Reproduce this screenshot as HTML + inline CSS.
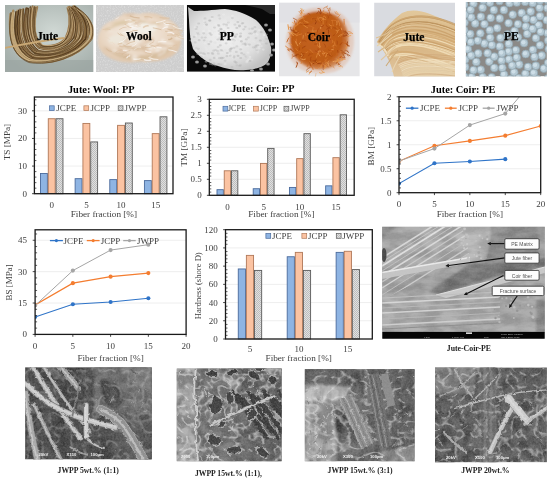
<!DOCTYPE html>
<html><head><meta charset="utf-8"><title>Jute composites figure</title>
<style>
html,body{margin:0;padding:0;background:#fff;}
body{width:550px;height:479px;overflow:hidden;}
svg{display:block;font-family:'Liberation Serif','Times New Roman',serif;}
</style></head>
<body>
<svg width="550" height="479" viewBox="0 0 550 479">
<defs><filter id="b05" x="-5%" y="-5%" width="110%" height="110%"><feGaussianBlur stdDeviation="0.5"/></filter><filter id="b1" x="-10%" y="-10%" width="120%" height="120%"><feGaussianBlur stdDeviation="1"/></filter><filter id="b07" x="-10%" y="-10%" width="120%" height="120%"><feGaussianBlur stdDeviation="0.7"/></filter><filter id="org" x="-5%" y="-5%" width="110%" height="110%"><feTurbulence type="fractalNoise" baseFrequency="0.18" numOctaves="2" seed="3" result="t"/><feDisplacementMap in="SourceGraphic" in2="t" scale="5" xChannelSelector="R" yChannelSelector="G" result="d"/><feGaussianBlur in="d" stdDeviation="0.55"/></filter><filter id="org2" x="-5%" y="-5%" width="110%" height="110%"><feTurbulence type="fractalNoise" baseFrequency="0.25" numOctaves="2" seed="7" result="t"/><feDisplacementMap in="SourceGraphic" in2="t" scale="3" xChannelSelector="R" yChannelSelector="G" result="d"/><feGaussianBlur in="d" stdDeviation="0.5"/></filter><filter id="b2" x="-20%" y="-20%" width="140%" height="140%"><feGaussianBlur stdDeviation="2"/></filter><filter id="pgrain" x="0" y="0" width="100%" height="100%"><feTurbulence type="fractalNoise" baseFrequency="0.7" numOctaves="2" seed="9" result="n"/><feColorMatrix in="n" type="matrix" values="0 0 0 0 1  0 0 0 0 1  0 0 0 0 1  0 0 0 1.6 -0.75" result="g"/><feComposite in="g" in2="SourceGraphic" operator="in"/></filter><radialGradient id="gj1" cx="0.55" cy="0.4" r="0.65"><stop offset="0" stop-color="#d0d8d4"/><stop offset="1" stop-color="#a6b0ac"/></radialGradient><radialGradient id="gwool" cx="0.45" cy="0.45" r="0.55"><stop offset="0" stop-color="#f4efe8"/><stop offset="0.6" stop-color="#ecdccb"/><stop offset="1" stop-color="#e0c8ae"/></radialGradient><radialGradient id="gpp" cx="0.45" cy="0.45" r="0.6"><stop offset="0" stop-color="#f2f2f2"/><stop offset="0.65" stop-color="#e0e0e0"/><stop offset="1" stop-color="#c2c2c2"/></radialGradient><radialGradient id="gcoir" cx="0.45" cy="0.45" r="0.55"><stop offset="0" stop-color="#c4621c"/><stop offset="0.8" stop-color="#bc5a18"/><stop offset="1" stop-color="#d08a58"/></radialGradient><linearGradient id="gj2" x1="0" y1="0" x2="0" y2="1"><stop offset="0" stop-color="#e2c89c"/><stop offset="0.5" stop-color="#d8b482"/><stop offset="1" stop-color="#e0c6a0"/></linearGradient></defs>
<clipPath id="cj1"><rect x="5" y="5" width="88.5" height="67"/></clipPath>
<g clip-path="url(#cj1)">
<rect x="5" y="5" width="88.5" height="67" fill="url(#gj1)"/>
<rect x="5" y="60" width="88.5" height="12" fill="#9aa4a0" opacity="0.6"/>
<g filter="url(#b05)">
<path d="M10.1,13.7 C8.1,35.5 11.6,55.5 29.4,61.1 C48.9,65.7 80.6,56.4 92.0,38.6 C96.8,28.1 89.8,16.2 73.9,7.8" fill="none" stroke="#a88a5c" stroke-width="1.6" stroke-linecap="round"/>
<path d="M11.8,12.8 C9.4,34.7 12.2,55.1 30.0,60.7 C49.1,66.2 79.1,57.6 89.9,39.7 C95.5,28.2 87.9,14.8 73.6,7.7" fill="none" stroke="#8a6c44" stroke-width="1.5" stroke-linecap="round"/>
<path d="M12.5,12.5 C8.4,34.6 12.3,52.7 29.6,61.5 C49.1,63.2 77.7,56.4 90.3,39.0 C94.5,26.7 87.7,14.9 73.5,6.1" fill="none" stroke="#b29468" stroke-width="2.0" stroke-linecap="round"/>
<path d="M13.3,10.8 C11.5,33.9 14.2,52.0 31.2,60.1 C49.8,62.4 78.6,56.1 87.1,39.0 C92.7,27.2 87.8,16.5 74.2,6.9" fill="none" stroke="#a88a5c" stroke-width="2.4" stroke-linecap="round"/>
<path d="M16.2,12.1 C13.1,32.6 16.5,51.3 32.4,58.3 C49.9,61.8 76.4,55.0 86.6,38.2 C92.2,27.5 86.5,15.7 74.8,6.5" fill="none" stroke="#4e361c" stroke-width="2.0" stroke-linecap="round"/>
<path d="M17.2,10.3 C14.4,33.4 17.3,50.3 31.9,58.3 C49.5,61.6 75.0,53.9 86.6,39.9 C90.0,28.8 85.7,15.8 72.3,8.0" fill="none" stroke="#b29468" stroke-width="1.6" stroke-linecap="round"/>
<path d="M18.8,10.4 C14.3,31.8 18.7,49.4 32.6,57.0 C49.6,59.9 73.7,54.3 85.5,38.8 C87.8,27.8 85.4,15.0 73.1,7.2" fill="none" stroke="#4e361c" stroke-width="1.7" stroke-linecap="round"/>
<path d="M20.2,11.4 C15.9,32.6 18.0,48.8 33.4,56.8 C49.5,59.9 75.0,52.9 84.5,37.7 C88.3,28.8 82.5,16.1 73.3,6.7" fill="none" stroke="#7e6038" stroke-width="1.4" stroke-linecap="round"/>
<path d="M20.0,9.4 C18.4,32.0 18.7,49.7 33.4,55.2 C51.8,59.3 74.3,51.8 83.1,38.7 C87.3,27.1 83.4,16.8 72.6,8.3" fill="none" stroke="#8a6c44" stroke-width="1.7" stroke-linecap="round"/>
<path d="M21.2,10.1 C18.0,30.8 20.3,46.8 34.0,55.1 C50.4,57.6 72.0,50.7 82.0,39.3 C84.0,27.8 81.7,16.4 71.7,7.5" fill="none" stroke="#785a36" stroke-width="2.1" stroke-linecap="round"/>
<path d="M22.0,9.9 C20.9,30.3 22.8,46.4 36.2,52.9 C50.3,58.4 70.6,50.2 79.7,38.6 C83.5,28.4 80.1,17.5 71.7,7.5" fill="none" stroke="#8a6c44" stroke-width="1.4" stroke-linecap="round"/>
<path d="M23.2,9.3 C21.0,30.6 22.8,45.3 36.8,52.1 C50.7,57.2 70.1,51.3 79.0,38.0 C83.3,29.6 80.1,15.7 70.4,8.3" fill="none" stroke="#7e6038" stroke-width="2.0" stroke-linecap="round"/>
<path d="M26.4,8.4 C21.7,29.2 23.8,45.8 36.1,53.4 C50.7,56.8 70.1,50.5 76.0,39.3 C81.3,28.4 79.5,16.5 71.3,8.0" fill="none" stroke="#6a4e2e" stroke-width="2.3" stroke-linecap="round"/>
<path d="M27.8,9.3 C23.0,27.9 24.9,45.4 38.1,50.8 C51.6,54.6 68.8,48.2 76.4,39.1 C81.0,28.8 78.1,17.2 69.8,8.5" fill="none" stroke="#9c7c52" stroke-width="1.6" stroke-linecap="round"/>
<path d="M27.8,8.3 C25.8,28.5 25.7,44.7 38.7,51.5 C51.3,53.9 67.8,49.5 74.6,39.4 C77.9,27.9 77.3,16.3 69.7,6.6" fill="none" stroke="#94764c" stroke-width="1.7" stroke-linecap="round"/>
<path d="M28.2,9.0 C27.1,27.8 27.5,43.2 38.3,50.6 C50.3,53.5 67.6,47.2 73.7,37.3 C76.4,28.6 76.1,17.1 69.3,7.7" fill="none" stroke="#5e4426" stroke-width="1.8" stroke-linecap="round"/>
<path d="M30.5,7.3 C28.2,26.8 29.7,40.9 39.6,48.1 C51.6,51.4 66.0,47.4 73.3,37.1 C75.9,28.3 76.1,16.4 68.9,8.5" fill="none" stroke="#5e4426" stroke-width="2.1" stroke-linecap="round"/>
<path d="M32.7,6.2 C29.1,26.9 28.8,40.6 40.2,47.8 C51.9,51.6 65.3,46.2 71.3,37.2 C74.5,30.0 75.2,18.5 68.3,7.8" fill="none" stroke="#98784e" stroke-width="2.0" stroke-linecap="round"/>
<path d="M32.7,8.0 C30.7,25.9 31.1,41.1 39.1,47.0 C50.6,49.7 65.6,46.0 69.0,37.7 C73.5,28.6 74.5,17.3 67.9,7.9" fill="none" stroke="#9c7c52" stroke-width="2.2" stroke-linecap="round"/>
<path d="M34.8,6.9 C31.6,25.7 32.1,40.3 40.1,46.2 C51.2,49.3 63.3,46.3 68.8,38.9 C73.1,29.6 72.7,17.4 68.5,6.8" fill="none" stroke="#94764c" stroke-width="1.6" stroke-linecap="round"/>
<path d="M35.1,7.3 C33.6,24.2 32.7,39.3 41.5,45.9 C52.5,47.7 63.0,45.2 67.7,37.6 C71.9,30.8 73.1,17.5 68.6,7.5" fill="none" stroke="#a88a5c" stroke-width="2.2" stroke-linecap="round"/>
<path d="M37.2,7.0 C33.1,22.9 33.1,38.0 42.5,46.0 C50.8,46.8 61.7,44.4 65.8,37.5 C69.3,30.5 71.3,19.1 67.6,7.9" fill="none" stroke="#9c7c52" stroke-width="2.1" stroke-linecap="round"/>
<path d="M17.5,11.1 C13.2,32.1 17.0,50.2 31.9,58.0 C50.0,61.2 75.3,52.6 85.8,38.3 C88.5,27.8 84.5,14.8 72.4,6.3" fill="none" stroke="#5a4020" stroke-width="0.7" opacity="0.85"/>
<path d="M30.1,7.7 C27.0,27.7 29.6,42.2 38.9,49.7 C52.0,52.8 66.1,46.9 72.1,38.2 C76.9,30.3 74.5,16.4 69.0,8.3" fill="none" stroke="#dcc49a" stroke-width="0.7" opacity="0.85"/>
<path d="M27.0,8.0 C25.3,28.8 25.4,44.4 37.2,51.8 C51.3,54.4 69.2,48.1 75.5,39.3 C78.8,28.3 77.8,17.8 71.3,7.6" fill="none" stroke="#5a4020" stroke-width="0.7" opacity="0.85"/>
<path d="M27.5,9.1 C24.6,27.7 26.5,43.3 37.7,50.9 C50.5,54.3 67.8,48.2 76.5,39.0 C79.3,28.9 78.2,16.5 69.8,7.5" fill="none" stroke="#dcc49a" stroke-width="0.7" opacity="0.85"/>
<path d="M36.1,6.9 C32.8,25.0 33.7,39.5 40.9,45.7 C51.1,48.9 62.7,44.7 67.1,37.7 C70.3,29.5 72.3,17.4 69.2,8.6" fill="none" stroke="#5a4020" stroke-width="0.7" opacity="0.85"/>
<path d="M34.3,7.0 C31.5,24.4 32.8,39.3 40.2,47.1 C51.8,48.9 64.3,45.5 69.2,38.1 C72.8,30.1 71.8,16.8 67.8,7.8" fill="none" stroke="#4e3618" stroke-width="0.7" opacity="0.85"/>
<path d="M21.5,9.9 C18.3,31.9 20.6,49.1 34.3,56.1 C50.3,58.9 73.0,51.9 80.9,38.1 C86.0,27.9 82.9,16.6 72.3,6.7" fill="none" stroke="#dcc49a" stroke-width="0.7" opacity="0.85"/>
<path d="M11.7,13.4 C8.2,35.7 10.9,54.0 30.1,60.9 C50.5,65.4 79.1,55.7 91.6,39.4 C95.4,27.6 89.4,16.1 75.6,7.0" fill="none" stroke="#dcc49a" stroke-width="0.7" opacity="0.85"/>
<path d="M24.0,8.5 C20.7,29.9 22.8,46.5 36.3,52.4 C51.9,55.4 69.7,50.6 77.7,39.3 C81.9,27.6 80.6,17.6 71.1,8.0" fill="none" stroke="#d2b888" stroke-width="0.7" opacity="0.85"/>
<path d="M13.3,12.3 C10.1,33.8 13.2,52.7 31.2,59.3 C49.3,63.8 78.8,55.1 89.7,39.5 C93.6,27.1 88.6,14.5 73.8,7.8" fill="none" stroke="#d2b888" stroke-width="0.7" opacity="0.85"/>
<path d="M16.4,11.3 C13.4,33.9 16.5,51.2 30.8,58.8 C51.2,62.6 76.2,54.2 87.6,39.0 C91.5,28.0 85.7,15.2 74.5,8.2" fill="none" stroke="#5a4020" stroke-width="0.7" opacity="0.85"/>
<path d="M14.7,12.1 C11.2,33.5 13.9,51.9 31.7,59.5 C51.1,62.6 76.7,54.9 87.2,39.6 C91.1,27.7 87.0,15.3 73.3,6.8" fill="none" stroke="#dcc49a" stroke-width="0.7" opacity="0.85"/>
<path d="M35.0,5.8 C32.8,25.4 31.9,39.0 40.9,46.9 C52.8,48.5 63.9,44.0 67.0,38.9 C71.2,30.7 72.2,18.1 69.2,8.4" fill="none" stroke="#5a4020" stroke-width="0.7" opacity="0.85"/>
<path d="M12.8,12.2 C8.6,34.3 12.8,52.7 29.4,60.5 C49.3,63.7 77.7,56.0 89.8,38.3 C94.8,28.2 88.2,16.1 73.5,7.1" fill="none" stroke="#d2b888" stroke-width="0.7" opacity="0.85"/>
<path d="M11.5,13.2 C7.1,35.9 10.9,54.6 28.4,61.5 C50.3,64.7 78.7,55.7 91.6,39.8 C95.6,27.2 89.2,14.5 75.5,7.5" fill="none" stroke="#4e3618" stroke-width="0.7" opacity="0.85"/>
<path d="M35.8,5.6 C33.3,25.3 32.7,38.0 40.5,46.2 C52.5,49.6 62.3,45.4 67.3,38.3 C71.4,30.2 72.1,17.3 68.3,7.2" fill="none" stroke="#dcc49a" stroke-width="0.7" opacity="0.85"/>
<path d="M36.7,6.4 C34.4,24.3 33.2,38.4 42.3,44.6 C51.2,47.2 62.5,44.9 65.2,37.8 C70.7,30.7 71.6,17.3 67.7,7.1" fill="none" stroke="#dcc49a" stroke-width="0.7" opacity="0.85"/>
<path d="M27.7,7.7 C24.2,28.6 25.0,43.7 37.6,50.8 C50.4,53.8 68.9,48.9 75.3,39.3 C79.4,28.9 77.9,16.0 71.2,8.4" fill="none" stroke="#4e3618" stroke-width="0.7" opacity="0.85"/>
<path d="M22.0,9.2 C20.0,29.6 22.8,46.5 34.5,54.7 C50.9,56.8 70.6,50.8 80.4,38.2 C83.3,29.2 81.2,17.0 70.6,8.2" fill="none" stroke="#dcc49a" stroke-width="0.7" opacity="0.85"/>
<path d="M21.0,9.6 C16.9,32.2 19.3,48.2 33.6,54.8 C51.6,58.2 74.0,51.7 82.3,38.3 C85.6,28.4 83.6,16.4 71.7,7.6" fill="none" stroke="#4e3618" stroke-width="0.7" opacity="0.85"/>
<path d="M36.3,6.9 C33.5,25.2 33.7,37.8 42.2,46.1 C51.3,48.1 62.3,45.1 67.3,37.5 C70.7,30.2 71.5,17.1 68.0,8.8" fill="none" stroke="#5a4020" stroke-width="0.7" opacity="0.85"/>
<path d="M23.8,8.8 C22.1,29.5 23.3,45.4 36.0,53.1 C50.4,57.3 69.8,50.4 78.9,37.6 C82.5,28.9 80.6,16.9 70.8,7.7" fill="none" stroke="#5a4020" stroke-width="0.7" opacity="0.85"/>
<path d="M15.8,11.8 C12.2,33.2 16.6,52.2 31.1,58.3 C50.4,61.9 76.8,53.2 87.0,39.4 C90.1,28.2 86.4,15.5 72.7,6.7" fill="none" stroke="#5a4020" stroke-width="0.7" opacity="0.85"/>
<path d="M32.5,7.6 C30.3,25.9 30.6,41.1 40.7,47.8 C52.0,50.6 64.4,44.9 69.3,37.8 C72.8,30.0 73.6,17.1 68.7,8.0" fill="none" stroke="#dcc49a" stroke-width="0.7" opacity="0.85"/>
<path d="M23.4,8.9 C20.9,29.4 22.7,46.6 35.2,53.9 C50.8,57.2 72.2,50.9 79.5,38.0 C84.3,28.8 80.4,17.4 71.1,8.4" fill="none" stroke="#4e3618" stroke-width="0.7" opacity="0.85"/>
<path d="M31.4,8.2 C28.8,25.3 29.5,41.3 39.3,47.3 C50.9,50.9 65.1,46.0 71.2,38.8 C75.2,29.5 74.1,17.3 69.0,7.6" fill="none" stroke="#5a4020" stroke-width="0.7" opacity="0.85"/>
<path d="M10.9,12.0 C7.5,36.6 11.8,55.4 28.8,62.5 C49.9,66.6 79.1,56.3 91.2,38.8 C96.3,27.7 89.7,14.5 75.1,6.9" fill="none" stroke="#5a4020" stroke-width="0.7" opacity="0.85"/>
<path d="M35.4,7.0 C33.7,24.4 32.7,38.3 40.7,46.1 C52.9,48.6 63.5,45.4 66.6,37.0 C71.6,30.9 71.9,18.1 68.8,7.0" fill="none" stroke="#5a4020" stroke-width="0.7" opacity="0.85"/>
<path d="M4,48 C20,45 40,41 64,38" fill="none" stroke="#c9a874" stroke-width="2"/>
</g>
</g>
<text x="47.60" y="39.90" font-size="11.5" text-anchor="middle" font-weight="bold" fill="#000" stroke="#000" stroke-width="0.25">Jute</text>
<clipPath id="cw"><rect x="96" y="5" width="88" height="67"/></clipPath>
<g clip-path="url(#cw)">
<rect x="96" y="5" width="88" height="67" fill="#cecece"/>
<rect x="96" y="5" width="88" height="67" fill="#ffffff" filter="url(#pgrain)" opacity="0.5"/>
<g filter="url(#b1)">
<path d="M98,38 C99,28 106,22 114,20 C120,14 130,12 140,14 C150,11 162,14 170,20 C178,24 182,32 181,40 C182,48 176,55 168,58 C158,63 146,61 136,62 C124,64 112,60 105,55 C99,50 97,44 98,38 Z" fill="url(#gwool)"/>
<path d="M104,46 C112,52 124,56 136,55 C150,56 162,52 172,46 C170,54 160,59 146,60 C130,62 114,58 104,46 Z" fill="#d2b896" opacity="0.7"/>
<path d="M110,24 C120,19 132,18 142,20 C136,24 124,26 110,24 Z" fill="#dcc6a4" opacity="0.7"/>
<path d="M120,44 C128,48 140,48 152,44 C148,52 130,53 120,44 Z" fill="#c9ad86" opacity="0.8"/>
<ellipse cx="145" cy="27" rx="12" ry="6" fill="#f2eee6"/>
<ellipse cx="118" cy="40" rx="10" ry="5" fill="#ede6da"/>
<path d="M105,30 C120,22 140,20 160,24" fill="none" stroke="#dcc8a8" stroke-width="2"/>
<ellipse cx="147.4" cy="34.3" rx="3.4" ry="2.5" transform="rotate(-14 147.4 34.3)" fill="#f7f2ec" opacity="0.6"/>
<ellipse cx="178.5" cy="37.9" rx="4.1" ry="2.5" transform="rotate(-8 178.5 37.9)" fill="#f3ece4" opacity="0.6"/>
<ellipse cx="147.1" cy="45.6" rx="2.9" ry="2.5" transform="rotate(4 147.1 45.6)" fill="#f7f2ec" opacity="0.6"/>
<ellipse cx="145.8" cy="53.1" rx="4.9" ry="2.3" transform="rotate(-3 145.8 53.1)" fill="#e4cfb8" opacity="0.6"/>
<ellipse cx="151.4" cy="22.7" rx="4.1" ry="2.4" transform="rotate(1 151.4 22.7)" fill="#e4cfb8" opacity="0.6"/>
<ellipse cx="146.6" cy="18.0" rx="2.2" ry="1.7" transform="rotate(4 146.6 18.0)" fill="#dcc2a6" opacity="0.6"/>
<ellipse cx="165.7" cy="29.9" rx="5.6" ry="2.2" transform="rotate(24 165.7 29.9)" fill="#eddccc" opacity="0.6"/>
<ellipse cx="136.4" cy="24.5" rx="2.4" ry="2.6" transform="rotate(12 136.4 24.5)" fill="#e4cfb8" opacity="0.6"/>
<ellipse cx="166.3" cy="25.4" rx="2.6" ry="2.5" transform="rotate(-24 166.3 25.4)" fill="#f7f2ec" opacity="0.6"/>
<ellipse cx="130.6" cy="35.6" rx="2.2" ry="1.9" transform="rotate(-29 130.6 35.6)" fill="#f3ece4" opacity="0.6"/>
<ellipse cx="164.8" cy="47.0" rx="5.2" ry="2.9" transform="rotate(2 164.8 47.0)" fill="#e4cfb8" opacity="0.6"/>
<ellipse cx="130.2" cy="23.3" rx="3.1" ry="2.2" transform="rotate(15 130.2 23.3)" fill="#f3ece4" opacity="0.6"/>
<ellipse cx="136.7" cy="28.2" rx="2.4" ry="2.2" transform="rotate(-20 136.7 28.2)" fill="#f3ece4" opacity="0.6"/>
<ellipse cx="143.5" cy="53.0" rx="2.4" ry="1.5" transform="rotate(-29 143.5 53.0)" fill="#eddccc" opacity="0.6"/>
<ellipse cx="161.0" cy="45.5" rx="5.3" ry="2.8" transform="rotate(11 161.0 45.5)" fill="#dcc2a6" opacity="0.6"/>
<ellipse cx="133.0" cy="47.3" rx="4.2" ry="2.0" transform="rotate(-12 133.0 47.3)" fill="#e4cfb8" opacity="0.6"/>
<ellipse cx="168.8" cy="43.3" rx="5.3" ry="1.4" transform="rotate(8 168.8 43.3)" fill="#f3ece4" opacity="0.6"/>
<ellipse cx="126.6" cy="40.8" rx="3.0" ry="2.9" transform="rotate(-25 126.6 40.8)" fill="#dcc2a6" opacity="0.6"/>
<ellipse cx="145.0" cy="40.0" rx="5.5" ry="2.9" transform="rotate(18 145.0 40.0)" fill="#e4cfb8" opacity="0.6"/>
<ellipse cx="127.1" cy="15.1" rx="5.0" ry="1.9" transform="rotate(18 127.1 15.1)" fill="#e4cfb8" opacity="0.6"/>
<ellipse cx="133.6" cy="27.3" rx="4.8" ry="2.2" transform="rotate(3 133.6 27.3)" fill="#f7f2ec" opacity="0.6"/>
<ellipse cx="142.1" cy="28.3" rx="2.9" ry="1.3" transform="rotate(23 142.1 28.3)" fill="#f3ece4" opacity="0.6"/>
<ellipse cx="130.2" cy="14.9" rx="4.4" ry="1.7" transform="rotate(-11 130.2 14.9)" fill="#dcc2a6" opacity="0.6"/>
<ellipse cx="128.0" cy="28.5" rx="2.6" ry="1.3" transform="rotate(23 128.0 28.5)" fill="#eddccc" opacity="0.6"/>
<ellipse cx="153.4" cy="50.3" rx="4.2" ry="2.4" transform="rotate(-7 153.4 50.3)" fill="#eddccc" opacity="0.6"/>
<ellipse cx="111.7" cy="31.8" rx="3.9" ry="1.4" transform="rotate(4 111.7 31.8)" fill="#f7f2ec" opacity="0.6"/>
<ellipse cx="135.4" cy="55.2" rx="5.1" ry="1.4" transform="rotate(16 135.4 55.2)" fill="#eddccc" opacity="0.6"/>
<ellipse cx="145.1" cy="36.5" rx="5.2" ry="1.7" transform="rotate(-8 145.1 36.5)" fill="#dcc2a6" opacity="0.6"/>
<ellipse cx="107.2" cy="49.4" rx="4.4" ry="1.9" transform="rotate(29 107.2 49.4)" fill="#dcc2a6" opacity="0.6"/>
<ellipse cx="150.0" cy="47.4" rx="2.7" ry="3.0" transform="rotate(25 150.0 47.4)" fill="#f7f2ec" opacity="0.6"/>
<ellipse cx="148.9" cy="20.7" rx="3.9" ry="2.5" transform="rotate(4 148.9 20.7)" fill="#eddccc" opacity="0.6"/>
<ellipse cx="161.7" cy="53.4" rx="5.0" ry="1.4" transform="rotate(-28 161.7 53.4)" fill="#f7f2ec" opacity="0.6"/>
<ellipse cx="128.0" cy="21.7" rx="2.8" ry="2.0" transform="rotate(-11 128.0 21.7)" fill="#e4cfb8" opacity="0.6"/>
<ellipse cx="149.6" cy="39.6" rx="4.7" ry="2.2" transform="rotate(-17 149.6 39.6)" fill="#dcc2a6" opacity="0.6"/>
<ellipse cx="144.9" cy="49.6" rx="5.5" ry="3.0" transform="rotate(29 144.9 49.6)" fill="#dcc2a6" opacity="0.6"/>
<ellipse cx="110.3" cy="32.2" rx="5.3" ry="1.3" transform="rotate(-6 110.3 32.2)" fill="#eddccc" opacity="0.6"/>
<ellipse cx="157.9" cy="50.4" rx="2.6" ry="1.8" transform="rotate(-5 157.9 50.4)" fill="#f7f2ec" opacity="0.6"/>
<ellipse cx="137.8" cy="21.7" rx="3.5" ry="2.9" transform="rotate(-28 137.8 21.7)" fill="#dcc2a6" opacity="0.6"/>
<ellipse cx="123.7" cy="53.3" rx="5.3" ry="2.2" transform="rotate(28 123.7 53.3)" fill="#dcc2a6" opacity="0.6"/>
<ellipse cx="142.9" cy="43.9" rx="5.3" ry="1.5" transform="rotate(-4 142.9 43.9)" fill="#dcc2a6" opacity="0.6"/>
<ellipse cx="115.2" cy="51.1" rx="3.8" ry="1.2" transform="rotate(8 115.2 51.1)" fill="#f3ece4" opacity="0.6"/>
<ellipse cx="120.4" cy="49.4" rx="3.6" ry="3.0" transform="rotate(14 120.4 49.4)" fill="#dcc2a6" opacity="0.6"/>
<ellipse cx="156.7" cy="46.1" rx="4.9" ry="1.5" transform="rotate(29 156.7 46.1)" fill="#eddccc" opacity="0.6"/>
<ellipse cx="160.1" cy="53.0" rx="4.2" ry="1.4" transform="rotate(-26 160.1 53.0)" fill="#dcc2a6" opacity="0.6"/>
<ellipse cx="137.9" cy="21.0" rx="2.5" ry="1.2" transform="rotate(1 137.9 21.0)" fill="#eddccc" opacity="0.6"/>
<ellipse cx="116.7" cy="45.0" rx="5.1" ry="1.8" transform="rotate(12 116.7 45.0)" fill="#eddccc" opacity="0.6"/>
<ellipse cx="134.4" cy="57.8" rx="3.2" ry="2.9" transform="rotate(-29 134.4 57.8)" fill="#f7f2ec" opacity="0.6"/>
<ellipse cx="163.2" cy="41.3" rx="2.6" ry="2.4" transform="rotate(27 163.2 41.3)" fill="#f7f2ec" opacity="0.6"/>
<ellipse cx="153.4" cy="19.4" rx="5.9" ry="1.4" transform="rotate(20 153.4 19.4)" fill="#eddccc" opacity="0.6"/>
<ellipse cx="163.6" cy="48.6" rx="4.0" ry="1.7" transform="rotate(4 163.6 48.6)" fill="#f3ece4" opacity="0.6"/>
<ellipse cx="170.0" cy="23.5" rx="4.6" ry="1.4" transform="rotate(20 170.0 23.5)" fill="#f3ece4" opacity="0.6"/>
<ellipse cx="139.1" cy="49.3" rx="3.0" ry="2.9" transform="rotate(6 139.1 49.3)" fill="#e4cfb8" opacity="0.6"/>
</g>
<g filter="url(#b05)">
<path d="M117.5,33.0 Q120.2,35.8 122.8,35.3" fill="none" stroke="#d2b494" stroke-width="0.9" opacity="0.75"/>
<path d="M147.1,37.5 Q150.8,37.4 154.4,40.7" fill="none" stroke="#dcc2a4" stroke-width="1.0" opacity="0.75"/>
<path d="M165.6,28.6 Q168.0,28.5 170.4,30.6" fill="none" stroke="#ead8c4" stroke-width="1.2" opacity="0.75"/>
<path d="M124.8,20.1 Q128.5,19.4 132.1,20.3" fill="none" stroke="#fcfaf8" stroke-width="1.0" opacity="0.75"/>
<path d="M144.8,51.5 Q148.2,53.7 151.5,53.9" fill="none" stroke="#dcc2a4" stroke-width="1.1" opacity="0.75"/>
<path d="M124.6,25.5 Q128.9,27.1 133.1,26.8" fill="none" stroke="#f8f4f0" stroke-width="1.3" opacity="0.75"/>
<path d="M152.8,27.8 Q157.1,28.4 161.4,29.8" fill="none" stroke="#d2b494" stroke-width="0.9" opacity="0.75"/>
<path d="M124.7,24.0 Q128.1,27.0 131.6,28.0" fill="none" stroke="#dcc2a4" stroke-width="1.3" opacity="0.75"/>
<path d="M171.4,33.9 Q175.3,33.1 179.2,36.1" fill="none" stroke="#dcc2a4" stroke-width="1.2" opacity="0.75"/>
<path d="M119.3,45.8 Q122.6,47.7 125.9,46.2" fill="none" stroke="#dcc2a4" stroke-width="1.4" opacity="0.75"/>
<path d="M163.3,22.7 Q166.0,25.4 168.8,24.5" fill="none" stroke="#f8f4f0" stroke-width="1.0" opacity="0.75"/>
<path d="M147.3,38.6 Q149.7,38.9 152.0,40.2" fill="none" stroke="#fcfaf8" stroke-width="0.7" opacity="0.75"/>
<path d="M137.6,25.4 Q139.7,25.4 141.9,22.6" fill="none" stroke="#ead8c4" stroke-width="1.1" opacity="0.75"/>
<path d="M126.4,44.5 Q130.7,41.9 135.0,41.3" fill="none" stroke="#d2b494" stroke-width="0.9" opacity="0.75"/>
<path d="M165.7,23.4 Q170.0,23.0 174.3,24.7" fill="none" stroke="#d2b494" stroke-width="0.8" opacity="0.75"/>
<path d="M106.1,48.6 Q109.0,51.6 111.8,51.5" fill="none" stroke="#d2b494" stroke-width="0.8" opacity="0.75"/>
<path d="M127.8,23.5 Q131.3,23.7 134.8,22.5" fill="none" stroke="#f8f4f0" stroke-width="0.9" opacity="0.75"/>
<path d="M153.7,47.9 Q157.7,47.1 161.6,47.7" fill="none" stroke="#f8f4f0" stroke-width="1.4" opacity="0.75"/>
<path d="M162.5,28.9 Q165.1,26.7 167.7,27.1" fill="none" stroke="#fcfaf8" stroke-width="1.1" opacity="0.75"/>
<path d="M130.6,29.3 Q133.9,27.7 137.2,25.1" fill="none" stroke="#f8f4f0" stroke-width="1.3" opacity="0.75"/>
<path d="M135.1,18.1 Q139.2,14.9 143.3,13.2" fill="none" stroke="#ead8c4" stroke-width="0.7" opacity="0.75"/>
<path d="M130.9,19.9 Q133.1,19.8 135.4,21.1" fill="none" stroke="#dcc2a4" stroke-width="0.9" opacity="0.75"/>
<path d="M150.3,45.1 Q153.3,45.3 156.4,47.6" fill="none" stroke="#dcc2a4" stroke-width="0.9" opacity="0.75"/>
<path d="M123.0,44.9 Q127.1,47.6 131.3,46.5" fill="none" stroke="#d2b494" stroke-width="0.7" opacity="0.75"/>
<path d="M138.3,59.8 Q142.3,60.1 146.4,62.8" fill="none" stroke="#ead8c4" stroke-width="0.6" opacity="0.75"/>
<path d="M176.4,36.2 Q180.4,38.5 184.5,39.0" fill="none" stroke="#dcc2a4" stroke-width="0.8" opacity="0.75"/>
<path d="M168.3,49.8 Q172.6,50.4 176.8,52.0" fill="none" stroke="#fcfaf8" stroke-width="1.1" opacity="0.75"/>
<path d="M114.5,53.2 Q118.2,50.0 121.9,49.7" fill="none" stroke="#dcc2a4" stroke-width="1.0" opacity="0.75"/>
<path d="M131.7,21.3 Q134.6,22.2 137.6,20.9" fill="none" stroke="#ead8c4" stroke-width="1.2" opacity="0.75"/>
<path d="M144.7,47.3 Q148.2,48.3 151.8,46.8" fill="none" stroke="#d2b494" stroke-width="0.8" opacity="0.75"/>
<path d="M165.1,31.3 Q168.6,32.2 172.0,30.1" fill="none" stroke="#d2b494" stroke-width="0.8" opacity="0.75"/>
<path d="M102.6,36.5 Q106.4,37.1 110.3,39.7" fill="none" stroke="#ead8c4" stroke-width="0.8" opacity="0.75"/>
<path d="M115.4,18.9 Q117.3,18.8 119.3,16.5" fill="none" stroke="#fcfaf8" stroke-width="0.6" opacity="0.75"/>
<path d="M167.1,29.0 Q170.0,29.7 173.0,29.7" fill="none" stroke="#d2b494" stroke-width="0.7" opacity="0.75"/>
<path d="M170.2,48.1 Q173.7,45.1 177.1,44.7" fill="none" stroke="#dcc2a4" stroke-width="0.9" opacity="0.75"/>
<path d="M124.3,18.9 Q127.5,19.0 130.8,22.1" fill="none" stroke="#ead8c4" stroke-width="1.4" opacity="0.75"/>
<path d="M168.2,39.4 Q170.1,39.4 171.9,37.9" fill="none" stroke="#d2b494" stroke-width="1.2" opacity="0.75"/>
<path d="M144.4,16.8 Q148.3,16.1 152.3,17.8" fill="none" stroke="#dcc2a4" stroke-width="1.4" opacity="0.75"/>
<path d="M140.0,49.0 Q143.1,47.6 146.1,45.0" fill="none" stroke="#dcc2a4" stroke-width="0.7" opacity="0.75"/>
<path d="M142.6,35.4 Q146.1,34.2 149.5,33.4" fill="none" stroke="#ead8c4" stroke-width="1.1" opacity="0.75"/>
<path d="M177.5,30.1 Q180.1,29.5 182.8,31.2" fill="none" stroke="#dcc2a4" stroke-width="1.1" opacity="0.75"/>
<path d="M140.8,35.8 Q143.5,35.9 146.1,39.0" fill="none" stroke="#d2b494" stroke-width="1.1" opacity="0.75"/>
<path d="M133.6,26.4 Q137.4,28.0 141.2,25.9" fill="none" stroke="#ead8c4" stroke-width="0.7" opacity="0.75"/>
<path d="M173.8,30.0 Q176.2,29.5 178.7,28.3" fill="none" stroke="#d2b494" stroke-width="0.6" opacity="0.75"/>
<path d="M167.5,32.3 Q170.9,31.6 174.3,34.1" fill="none" stroke="#fcfaf8" stroke-width="1.2" opacity="0.75"/>
<path d="M123.4,57.6 Q126.2,57.1 129.0,54.0" fill="none" stroke="#d2b494" stroke-width="0.6" opacity="0.75"/>
<path d="M168.2,29.3 Q170.8,28.7 173.5,30.9" fill="none" stroke="#d2b494" stroke-width="0.7" opacity="0.75"/>
<path d="M130.9,30.9 Q133.4,31.5 135.9,33.3" fill="none" stroke="#f8f4f0" stroke-width="1.3" opacity="0.75"/>
<path d="M131.9,46.2 Q134.2,46.4 136.6,43.5" fill="none" stroke="#fcfaf8" stroke-width="0.8" opacity="0.75"/>
<path d="M149.3,44.6 Q151.6,42.9 154.0,41.6" fill="none" stroke="#dcc2a4" stroke-width="1.0" opacity="0.75"/>
<path d="M159.6,17.3 Q164.5,18.3 169.5,18.1" fill="none" stroke="#dcc2a4" stroke-width="1.2" opacity="0.75"/>
<path d="M168.5,46.4 Q170.6,46.9 172.6,46.5" fill="none" stroke="#ead8c4" stroke-width="1.0" opacity="0.75"/>
<path d="M143.8,34.0 Q146.5,33.6 149.2,37.0" fill="none" stroke="#ead8c4" stroke-width="0.9" opacity="0.75"/>
<path d="M115.9,53.2 Q119.4,52.4 122.9,54.4" fill="none" stroke="#d2b494" stroke-width="0.7" opacity="0.75"/>
<path d="M117.7,44.2 Q120.0,43.6 122.3,43.1" fill="none" stroke="#dcc2a4" stroke-width="1.1" opacity="0.75"/>
<path d="M133.4,59.0 Q137.0,59.6 140.7,58.6" fill="none" stroke="#f8f4f0" stroke-width="1.3" opacity="0.75"/>
<path d="M119.9,33.2 Q122.3,35.7 124.7,36.3" fill="none" stroke="#d2b494" stroke-width="0.6" opacity="0.75"/>
<path d="M162.8,41.3 Q167.0,40.2 171.1,38.0" fill="none" stroke="#ead8c4" stroke-width="1.0" opacity="0.75"/>
<path d="M138.2,58.1 Q141.2,58.6 144.1,58.9" fill="none" stroke="#ead8c4" stroke-width="0.8" opacity="0.75"/>
<path d="M122.9,50.4 Q125.7,49.8 128.5,51.9" fill="none" stroke="#f8f4f0" stroke-width="1.1" opacity="0.75"/>
<path d="M149.1,57.6 Q153.8,59.6 158.4,59.5" fill="none" stroke="#f8f4f0" stroke-width="1.2" opacity="0.75"/>
<path d="M179.2,34.6 Q181.0,36.2 182.8,36.4" fill="none" stroke="#dcc2a4" stroke-width="1.1" opacity="0.75"/>
<path d="M126.5,58.2 Q128.3,55.3 130.2,56.0" fill="none" stroke="#fcfaf8" stroke-width="1.1" opacity="0.75"/>
<path d="M129.6,50.6 Q133.4,49.5 137.2,45.9" fill="none" stroke="#ead8c4" stroke-width="0.8" opacity="0.75"/>
<path d="M167.1,35.4 Q171.5,34.0 176.0,36.5" fill="none" stroke="#dcc2a4" stroke-width="1.0" opacity="0.75"/>
<path d="M129.8,15.9 Q134.7,18.1 139.6,17.8" fill="none" stroke="#d2b494" stroke-width="1.3" opacity="0.75"/>
<path d="M119.8,53.5 Q124.3,53.4 128.8,56.1" fill="none" stroke="#dcc2a4" stroke-width="1.0" opacity="0.75"/>
<path d="M168.2,39.5 Q170.3,40.2 172.3,38.0" fill="none" stroke="#d2b494" stroke-width="1.2" opacity="0.75"/>
<path d="M122.5,32.8 Q126.4,31.3 130.3,30.7" fill="none" stroke="#fcfaf8" stroke-width="0.7" opacity="0.75"/>
<path d="M172.9,25.9 Q177.5,29.3 182.2,28.8" fill="none" stroke="#f8f4f0" stroke-width="0.9" opacity="0.75"/>
<path d="M119.2,42.5 Q122.7,42.2 126.1,38.2" fill="none" stroke="#fcfaf8" stroke-width="0.9" opacity="0.75"/>
<path d="M143.8,59.6 Q147.5,61.0 151.3,60.0" fill="none" stroke="#fcfaf8" stroke-width="1.3" opacity="0.75"/>
<path d="M121.9,54.2 Q126.1,51.7 130.3,50.4" fill="none" stroke="#d2b494" stroke-width="0.7" opacity="0.75"/>
<path d="M143.1,27.6 Q145.9,25.2 148.6,26.0" fill="none" stroke="#dcc2a4" stroke-width="1.4" opacity="0.75"/>
<path d="M108.3,25.6 Q110.3,27.2 112.2,26.8" fill="none" stroke="#ead8c4" stroke-width="0.6" opacity="0.75"/>
<path d="M130.0,32.2 Q133.8,29.9 137.6,30.4" fill="none" stroke="#d2b494" stroke-width="1.0" opacity="0.75"/>
<path d="M102.7,29.5 Q106.6,28.4 110.5,29.6" fill="none" stroke="#dcc2a4" stroke-width="0.9" opacity="0.75"/>
<path d="M119.1,29.8 Q122.9,26.9 126.7,27.0" fill="none" stroke="#d2b494" stroke-width="0.7" opacity="0.75"/>
<path d="M134.3,49.4 Q137.5,46.5 140.7,47.2" fill="none" stroke="#f8f4f0" stroke-width="1.0" opacity="0.75"/>
<path d="M151.7,46.1 Q155.4,46.3 159.2,45.0" fill="none" stroke="#d2b494" stroke-width="0.6" opacity="0.75"/>
<path d="M175.2,36.0 Q178.7,32.9 182.3,32.1" fill="none" stroke="#dcc2a4" stroke-width="0.6" opacity="0.75"/>
<path d="M110.2,42.1 Q112.5,41.5 114.8,44.6" fill="none" stroke="#ead8c4" stroke-width="0.7" opacity="0.75"/>
<path d="M145.2,50.8 Q148.2,52.5 151.3,52.0" fill="none" stroke="#f8f4f0" stroke-width="1.4" opacity="0.75"/>
<path d="M119.9,47.9 Q122.4,48.3 124.9,47.7" fill="none" stroke="#ead8c4" stroke-width="0.8" opacity="0.75"/>
<path d="M147.8,57.9 Q150.2,56.6 152.6,55.1" fill="none" stroke="#ead8c4" stroke-width="0.9" opacity="0.75"/>
<path d="M131.9,48.6 Q135.8,48.1 139.8,47.6" fill="none" stroke="#dcc2a4" stroke-width="0.8" opacity="0.75"/>
<path d="M125.9,25.1 Q128.6,24.6 131.2,24.5" fill="none" stroke="#fcfaf8" stroke-width="0.7" opacity="0.75"/>
<path d="M156.0,22.8 Q160.7,21.8 165.5,20.2" fill="none" stroke="#f8f4f0" stroke-width="1.1" opacity="0.75"/>
<path d="M129.4,26.1 Q133.7,26.8 137.9,28.4" fill="none" stroke="#f8f4f0" stroke-width="0.8" opacity="0.75"/>
<path d="M157.8,42.0 Q162.1,41.3 166.4,41.7" fill="none" stroke="#fcfaf8" stroke-width="0.9" opacity="0.75"/>
</g>
</g>
<text x="138.90" y="40.40" font-size="11.5" text-anchor="middle" font-weight="bold" fill="#000" stroke="#000" stroke-width="0.25">Wool</text>
<clipPath id="cpp"><rect x="186.8" y="5" width="88.2" height="66.8"/></clipPath>
<g clip-path="url(#cpp)">
<rect x="186.8" y="5" width="88.2" height="66.8" fill="#0a0a0a"/>
<path d="M245,5 L262,9 L270,14 L275,14 L275,5 Z" fill="#2a2a2a"/>
<g filter="url(#b05)">
<path d="M188,7 L194,11 C202,11 212,10 225,9 C235,10 245,13 256,20 C264,27 268,36 271,47 C272,53 270,58 268,62 C264,67 256,69 246,70 C236,71 227,69 218,66 C208,63 200,58 193,49 C190,40 189.5,30 189,20 Z" fill="url(#gpp)"/>
<ellipse cx="226.1" cy="43.3" rx="1.5" ry="1.1" fill="#b4b4b4" opacity="0.4"/>
<ellipse cx="264.8" cy="37.3" rx="1.5" ry="1.1" fill="#b9b9b9" opacity="0.4"/>
<ellipse cx="230.6" cy="45.0" rx="1.5" ry="1.1" fill="#efefef" opacity="0.4"/>
<ellipse cx="204.1" cy="40.3" rx="1.5" ry="1.1" fill="#b0b0b0" opacity="0.4"/>
<ellipse cx="240.7" cy="58.0" rx="1.5" ry="1.1" fill="#a8a8a8" opacity="0.4"/>
<ellipse cx="196.7" cy="27.1" rx="1.5" ry="1.1" fill="#b4b4b4" opacity="0.4"/>
<ellipse cx="242.6" cy="46.8" rx="1.5" ry="1.1" fill="#e3e3e3" opacity="0.4"/>
<ellipse cx="204.6" cy="23.2" rx="1.5" ry="1.1" fill="#ededed" opacity="0.4"/>
<ellipse cx="191.5" cy="37.2" rx="1.5" ry="1.1" fill="#ebebeb" opacity="0.4"/>
<ellipse cx="225.1" cy="61.1" rx="1.5" ry="1.1" fill="#efefef" opacity="0.4"/>
<ellipse cx="231.6" cy="48.3" rx="1.5" ry="1.1" fill="#afafaf" opacity="0.4"/>
<ellipse cx="230.0" cy="49.7" rx="1.5" ry="1.1" fill="#b3b3b3" opacity="0.4"/>
<ellipse cx="226.5" cy="25.5" rx="1.5" ry="1.1" fill="#b8b8b8" opacity="0.4"/>
<ellipse cx="257.9" cy="52.6" rx="1.5" ry="1.1" fill="#e1e1e1" opacity="0.4"/>
<ellipse cx="214.9" cy="22.5" rx="1.5" ry="1.1" fill="#ececec" opacity="0.4"/>
<ellipse cx="251.8" cy="33.2" rx="1.5" ry="1.1" fill="#e3e3e3" opacity="0.4"/>
<ellipse cx="258.4" cy="32.4" rx="1.5" ry="1.1" fill="#dfdfdf" opacity="0.4"/>
<ellipse cx="263.6" cy="37.6" rx="1.5" ry="1.1" fill="#eaeaea" opacity="0.4"/>
<ellipse cx="195.0" cy="47.7" rx="1.5" ry="1.1" fill="#f2f2f2" opacity="0.4"/>
<ellipse cx="196.1" cy="29.0" rx="1.5" ry="1.1" fill="#b3b3b3" opacity="0.4"/>
<ellipse cx="198.7" cy="23.5" rx="1.5" ry="1.1" fill="#b2b2b2" opacity="0.4"/>
<ellipse cx="234.9" cy="36.2" rx="1.5" ry="1.1" fill="#bababa" opacity="0.4"/>
<ellipse cx="204.6" cy="54.1" rx="1.5" ry="1.1" fill="#bbbbbb" opacity="0.4"/>
<ellipse cx="199.7" cy="48.6" rx="1.5" ry="1.1" fill="#e4e4e4" opacity="0.4"/>
<ellipse cx="198.6" cy="34.5" rx="1.5" ry="1.1" fill="#bbbbbb" opacity="0.4"/>
<ellipse cx="206.5" cy="25.0" rx="1.5" ry="1.1" fill="#bcbcbc" opacity="0.4"/>
<ellipse cx="213.9" cy="63.7" rx="1.5" ry="1.1" fill="#b7b7b7" opacity="0.4"/>
<ellipse cx="206.3" cy="32.8" rx="1.5" ry="1.1" fill="#e6e6e6" opacity="0.4"/>
<ellipse cx="259.1" cy="48.4" rx="1.5" ry="1.1" fill="#f2f2f2" opacity="0.4"/>
<ellipse cx="206.5" cy="24.3" rx="1.5" ry="1.1" fill="#b4b4b4" opacity="0.4"/>
<ellipse cx="252.4" cy="28.7" rx="1.5" ry="1.1" fill="#adadad" opacity="0.4"/>
<ellipse cx="196.4" cy="44.7" rx="1.5" ry="1.1" fill="#e7e7e7" opacity="0.4"/>
<ellipse cx="208.9" cy="45.9" rx="1.5" ry="1.1" fill="#e1e1e1" opacity="0.4"/>
<ellipse cx="219.5" cy="36.6" rx="1.5" ry="1.1" fill="#dedede" opacity="0.4"/>
<ellipse cx="236.1" cy="62.6" rx="1.5" ry="1.1" fill="#adadad" opacity="0.4"/>
<ellipse cx="209.5" cy="20.0" rx="1.5" ry="1.1" fill="#ececec" opacity="0.4"/>
<ellipse cx="261.3" cy="46.0" rx="1.5" ry="1.1" fill="#eaeaea" opacity="0.4"/>
<ellipse cx="223.6" cy="14.5" rx="1.5" ry="1.1" fill="#f0f0f0" opacity="0.4"/>
<ellipse cx="208.5" cy="52.4" rx="1.5" ry="1.1" fill="#efefef" opacity="0.4"/>
<ellipse cx="210.1" cy="59.9" rx="1.5" ry="1.1" fill="#acacac" opacity="0.4"/>
<ellipse cx="237.9" cy="26.5" rx="1.5" ry="1.1" fill="#efefef" opacity="0.4"/>
<ellipse cx="203.4" cy="53.4" rx="1.5" ry="1.1" fill="#b7b7b7" opacity="0.4"/>
<ellipse cx="234.9" cy="61.7" rx="1.5" ry="1.1" fill="#acacac" opacity="0.4"/>
<ellipse cx="239.4" cy="25.7" rx="1.5" ry="1.1" fill="#b0b0b0" opacity="0.4"/>
<ellipse cx="203.5" cy="31.2" rx="1.5" ry="1.1" fill="#f2f2f2" opacity="0.4"/>
<ellipse cx="218.7" cy="64.1" rx="1.5" ry="1.1" fill="#b0b0b0" opacity="0.4"/>
<ellipse cx="245.7" cy="44.8" rx="1.5" ry="1.1" fill="#aaaaaa" opacity="0.4"/>
<ellipse cx="228.5" cy="54.0" rx="1.5" ry="1.1" fill="#efefef" opacity="0.4"/>
<ellipse cx="195.2" cy="42.4" rx="1.5" ry="1.1" fill="#b9b9b9" opacity="0.4"/>
<ellipse cx="249.4" cy="52.3" rx="1.5" ry="1.1" fill="#dedede" opacity="0.4"/>
<ellipse cx="217.9" cy="51.2" rx="1.5" ry="1.1" fill="#aaaaaa" opacity="0.4"/>
<ellipse cx="223.2" cy="57.8" rx="1.5" ry="1.1" fill="#b2b2b2" opacity="0.4"/>
<ellipse cx="259.8" cy="44.1" rx="1.5" ry="1.1" fill="#ebebeb" opacity="0.4"/>
<ellipse cx="240.2" cy="32.1" rx="1.5" ry="1.1" fill="#ebebeb" opacity="0.4"/>
<ellipse cx="236.8" cy="46.4" rx="1.5" ry="1.1" fill="#b9b9b9" opacity="0.4"/>
<ellipse cx="195.6" cy="48.3" rx="1.5" ry="1.1" fill="#efefef" opacity="0.4"/>
<ellipse cx="248.7" cy="32.5" rx="1.5" ry="1.1" fill="#e4e4e4" opacity="0.4"/>
<ellipse cx="249.3" cy="44.6" rx="1.5" ry="1.1" fill="#afafaf" opacity="0.4"/>
<ellipse cx="225.1" cy="60.8" rx="1.5" ry="1.1" fill="#adadad" opacity="0.4"/>
<ellipse cx="228.4" cy="22.5" rx="1.5" ry="1.1" fill="#b9b9b9" opacity="0.4"/>
<ellipse cx="246.3" cy="39.3" rx="1.5" ry="1.1" fill="#b0b0b0" opacity="0.4"/>
<ellipse cx="239.4" cy="66.0" rx="1.5" ry="1.1" fill="#b9b9b9" opacity="0.4"/>
<ellipse cx="213.7" cy="50.7" rx="1.5" ry="1.1" fill="#b8b8b8" opacity="0.4"/>
<ellipse cx="205.6" cy="18.7" rx="1.5" ry="1.1" fill="#e0e0e0" opacity="0.4"/>
<ellipse cx="263.3" cy="49.6" rx="1.5" ry="1.1" fill="#eeeeee" opacity="0.4"/>
<ellipse cx="225.2" cy="64.2" rx="1.5" ry="1.1" fill="#ededed" opacity="0.4"/>
<ellipse cx="215.8" cy="50.0" rx="1.5" ry="1.1" fill="#b1b1b1" opacity="0.4"/>
<ellipse cx="205.3" cy="35.1" rx="1.5" ry="1.1" fill="#eaeaea" opacity="0.4"/>
<ellipse cx="261.2" cy="32.2" rx="1.5" ry="1.1" fill="#b0b0b0" opacity="0.4"/>
<ellipse cx="236.8" cy="27.9" rx="1.5" ry="1.1" fill="#a8a8a8" opacity="0.4"/>
<ellipse cx="200.2" cy="39.3" rx="1.5" ry="1.1" fill="#e8e8e8" opacity="0.4"/>
<ellipse cx="211.7" cy="18.7" rx="1.5" ry="1.1" fill="#eeeeee" opacity="0.4"/>
<ellipse cx="226.0" cy="25.3" rx="1.5" ry="1.1" fill="#f2f2f2" opacity="0.4"/>
<ellipse cx="206.6" cy="34.1" rx="1.5" ry="1.1" fill="#e7e7e7" opacity="0.4"/>
<ellipse cx="240.3" cy="39.1" rx="1.5" ry="1.1" fill="#f2f2f2" opacity="0.4"/>
<ellipse cx="214.9" cy="60.9" rx="1.5" ry="1.1" fill="#e1e1e1" opacity="0.4"/>
<ellipse cx="247.1" cy="43.9" rx="1.5" ry="1.1" fill="#b2b2b2" opacity="0.4"/>
<ellipse cx="214.3" cy="57.9" rx="1.5" ry="1.1" fill="#aeaeae" opacity="0.4"/>
<ellipse cx="240.6" cy="36.1" rx="1.5" ry="1.1" fill="#b9b9b9" opacity="0.4"/>
<ellipse cx="240.7" cy="49.3" rx="1.5" ry="1.1" fill="#adadad" opacity="0.4"/>
<ellipse cx="228.0" cy="19.3" rx="1.5" ry="1.1" fill="#e2e2e2" opacity="0.4"/>
<ellipse cx="211.3" cy="29.8" rx="1.5" ry="1.1" fill="#e3e3e3" opacity="0.4"/>
<ellipse cx="246.2" cy="40.8" rx="1.5" ry="1.1" fill="#dedede" opacity="0.4"/>
<ellipse cx="239.4" cy="55.6" rx="1.5" ry="1.1" fill="#dfdfdf" opacity="0.4"/>
<ellipse cx="221.3" cy="57.9" rx="1.5" ry="1.1" fill="#ababab" opacity="0.4"/>
<ellipse cx="199.7" cy="36.6" rx="1.5" ry="1.1" fill="#e3e3e3" opacity="0.4"/>
<ellipse cx="240.3" cy="65.3" rx="1.5" ry="1.1" fill="#aaaaaa" opacity="0.4"/>
<ellipse cx="219.9" cy="43.8" rx="1.5" ry="1.1" fill="#e8e8e8" opacity="0.4"/>
<ellipse cx="266.4" cy="37.2" rx="1.5" ry="1.1" fill="#e5e5e5" opacity="0.4"/>
<ellipse cx="242.4" cy="20.9" rx="1.5" ry="1.1" fill="#e3e3e3" opacity="0.4"/>
<ellipse cx="248.2" cy="59.6" rx="1.5" ry="1.1" fill="#eaeaea" opacity="0.4"/>
<ellipse cx="241.6" cy="53.2" rx="1.5" ry="1.1" fill="#adadad" opacity="0.4"/>
<ellipse cx="233.0" cy="57.8" rx="1.5" ry="1.1" fill="#f2f2f2" opacity="0.4"/>
<ellipse cx="215.3" cy="65.3" rx="1.5" ry="1.1" fill="#bcbcbc" opacity="0.4"/>
<ellipse cx="259.2" cy="30.0" rx="1.5" ry="1.1" fill="#f1f1f1" opacity="0.4"/>
<ellipse cx="195.8" cy="35.8" rx="1.5" ry="1.1" fill="#f2f2f2" opacity="0.4"/>
<ellipse cx="234.1" cy="56.4" rx="1.5" ry="1.1" fill="#b8b8b8" opacity="0.4"/>
<ellipse cx="216.5" cy="57.6" rx="1.5" ry="1.1" fill="#ececec" opacity="0.4"/>
<ellipse cx="231.4" cy="53.6" rx="1.5" ry="1.1" fill="#ebebeb" opacity="0.4"/>
<ellipse cx="257.9" cy="51.4" rx="1.5" ry="1.1" fill="#e5e5e5" opacity="0.4"/>
<ellipse cx="266.6" cy="39.0" rx="1.5" ry="1.1" fill="#bbbbbb" opacity="0.4"/>
<ellipse cx="207.2" cy="41.2" rx="1.5" ry="1.1" fill="#dfdfdf" opacity="0.4"/>
<ellipse cx="212.8" cy="53.9" rx="1.5" ry="1.1" fill="#b6b6b6" opacity="0.4"/>
<ellipse cx="241.4" cy="40.9" rx="1.5" ry="1.1" fill="#dfdfdf" opacity="0.4"/>
<ellipse cx="258.2" cy="43.3" rx="1.5" ry="1.1" fill="#efefef" opacity="0.4"/>
<ellipse cx="214.6" cy="32.0" rx="1.5" ry="1.1" fill="#e6e6e6" opacity="0.4"/>
<ellipse cx="206.1" cy="61.6" rx="1.5" ry="1.1" fill="#ededed" opacity="0.4"/>
<ellipse cx="236.0" cy="20.7" rx="1.5" ry="1.1" fill="#e2e2e2" opacity="0.4"/>
<ellipse cx="232.9" cy="39.7" rx="1.5" ry="1.1" fill="#ababab" opacity="0.4"/>
<ellipse cx="221.8" cy="58.5" rx="1.5" ry="1.1" fill="#bcbcbc" opacity="0.4"/>
<ellipse cx="235.2" cy="38.9" rx="1.5" ry="1.1" fill="#eeeeee" opacity="0.4"/>
<ellipse cx="233.2" cy="34.1" rx="1.5" ry="1.1" fill="#b0b0b0" opacity="0.4"/>
<ellipse cx="211.1" cy="37.8" rx="1.5" ry="1.1" fill="#e8e8e8" opacity="0.4"/>
<ellipse cx="199.4" cy="35.3" rx="1.5" ry="1.1" fill="#e9e9e9" opacity="0.4"/>
<ellipse cx="228.1" cy="28.0" rx="1.5" ry="1.1" fill="#aeaeae" opacity="0.4"/>
<ellipse cx="204.7" cy="46.9" rx="1.5" ry="1.1" fill="#e4e4e4" opacity="0.4"/>
<ellipse cx="204.9" cy="22.3" rx="1.5" ry="1.1" fill="#b0b0b0" opacity="0.4"/>
<ellipse cx="245.3" cy="28.3" rx="1.5" ry="1.1" fill="#e1e1e1" opacity="0.4"/>
<ellipse cx="218.1" cy="47.0" rx="1.5" ry="1.1" fill="#b7b7b7" opacity="0.4"/>
<ellipse cx="197.6" cy="54.0" rx="1.5" ry="1.1" fill="#b7b7b7" opacity="0.4"/>
<ellipse cx="199.1" cy="40.2" rx="1.5" ry="1.1" fill="#acacac" opacity="0.4"/>
<ellipse cx="209.5" cy="20.5" rx="1.5" ry="1.1" fill="#ababab" opacity="0.4"/>
<ellipse cx="232.5" cy="35.5" rx="1.5" ry="1.1" fill="#e5e5e5" opacity="0.4"/>
<ellipse cx="219.8" cy="34.0" rx="1.5" ry="1.1" fill="#ababab" opacity="0.4"/>
<ellipse cx="232.4" cy="18.1" rx="1.5" ry="1.1" fill="#bbbbbb" opacity="0.4"/>
<ellipse cx="205.7" cy="47.8" rx="1.5" ry="1.1" fill="#ececec" opacity="0.4"/>
<ellipse cx="241.4" cy="41.4" rx="1.5" ry="1.1" fill="#aaaaaa" opacity="0.4"/>
<ellipse cx="258.8" cy="46.5" rx="1.5" ry="1.1" fill="#f2f2f2" opacity="0.4"/>
<ellipse cx="249.7" cy="59.1" rx="1.5" ry="1.1" fill="#efefef" opacity="0.4"/>
<ellipse cx="208.6" cy="53.8" rx="1.5" ry="1.1" fill="#dedede" opacity="0.4"/>
<ellipse cx="257.2" cy="34.6" rx="1.5" ry="1.1" fill="#f2f2f2" opacity="0.4"/>
<ellipse cx="222.0" cy="51.2" rx="1.5" ry="1.1" fill="#bbbbbb" opacity="0.4"/>
<ellipse cx="230.5" cy="55.8" rx="1.5" ry="1.1" fill="#adadad" opacity="0.4"/>
<ellipse cx="230.2" cy="51.2" rx="1.5" ry="1.1" fill="#bababa" opacity="0.4"/>
<ellipse cx="234.2" cy="40.4" rx="1.5" ry="1.1" fill="#acacac" opacity="0.4"/>
<ellipse cx="204.1" cy="20.8" rx="1.5" ry="1.1" fill="#e9e9e9" opacity="0.4"/>
<ellipse cx="226.9" cy="56.2" rx="1.5" ry="1.1" fill="#b1b1b1" opacity="0.4"/>
<ellipse cx="215.8" cy="37.4" rx="1.5" ry="1.1" fill="#e4e4e4" opacity="0.4"/>
<ellipse cx="231.3" cy="35.1" rx="1.5" ry="1.1" fill="#b1b1b1" opacity="0.4"/>
<ellipse cx="246.5" cy="61.2" rx="1.5" ry="1.1" fill="#e0e0e0" opacity="0.4"/>
<ellipse cx="203.9" cy="36.6" rx="1.5" ry="1.1" fill="#e9e9e9" opacity="0.4"/>
<ellipse cx="249.6" cy="33.5" rx="1.5" ry="1.1" fill="#b0b0b0" opacity="0.4"/>
<ellipse cx="205.0" cy="18.4" rx="1.5" ry="1.1" fill="#b8b8b8" opacity="0.4"/>
<ellipse cx="246.8" cy="62.2" rx="1.5" ry="1.1" fill="#eeeeee" opacity="0.4"/>
<ellipse cx="240.6" cy="33.5" rx="1.5" ry="1.1" fill="#afafaf" opacity="0.4"/>
<ellipse cx="238.2" cy="39.8" rx="1.5" ry="1.1" fill="#e1e1e1" opacity="0.4"/>
<ellipse cx="250.0" cy="57.0" rx="1.5" ry="1.1" fill="#f2f2f2" opacity="0.4"/>
<ellipse cx="255.8" cy="33.6" rx="1.5" ry="1.1" fill="#ededed" opacity="0.4"/>
<ellipse cx="246.0" cy="56.3" rx="1.5" ry="1.1" fill="#aeaeae" opacity="0.4"/>
<ellipse cx="251.7" cy="33.6" rx="1.5" ry="1.1" fill="#b6b6b6" opacity="0.4"/>
<ellipse cx="217.0" cy="37.5" rx="1.5" ry="1.1" fill="#ebebeb" opacity="0.4"/>
<ellipse cx="241.4" cy="47.3" rx="1.5" ry="1.1" fill="#f0f0f0" opacity="0.4"/>
<ellipse cx="243.6" cy="29.3" rx="1.5" ry="1.1" fill="#b0b0b0" opacity="0.4"/>
<ellipse cx="243.1" cy="43.9" rx="1.5" ry="1.1" fill="#bbbbbb" opacity="0.4"/>
<ellipse cx="232.7" cy="32.5" rx="1.5" ry="1.1" fill="#b5b5b5" opacity="0.4"/>
<ellipse cx="246.5" cy="56.0" rx="1.5" ry="1.1" fill="#e6e6e6" opacity="0.4"/>
<ellipse cx="239.5" cy="54.5" rx="1.5" ry="1.1" fill="#e6e6e6" opacity="0.4"/>
<ellipse cx="210.0" cy="33.3" rx="1.5" ry="1.1" fill="#ababab" opacity="0.4"/>
<ellipse cx="219.8" cy="14.2" rx="1.5" ry="1.1" fill="#e1e1e1" opacity="0.4"/>
<ellipse cx="234.1" cy="40.0" rx="1.5" ry="1.1" fill="#e0e0e0" opacity="0.4"/>
<ellipse cx="238.0" cy="55.8" rx="1.5" ry="1.1" fill="#a8a8a8" opacity="0.4"/>
<ellipse cx="202.1" cy="37.7" rx="1.5" ry="1.1" fill="#bababa" opacity="0.4"/>
<ellipse cx="202.9" cy="39.2" rx="1.5" ry="1.1" fill="#e2e2e2" opacity="0.4"/>
<ellipse cx="266.5" cy="34.5" rx="1.5" ry="1.1" fill="#aaaaaa" opacity="0.4"/>
<ellipse cx="232.2" cy="45.7" rx="1.5" ry="1.1" fill="#eeeeee" opacity="0.4"/>
<ellipse cx="219.0" cy="26.0" rx="1.5" ry="1.1" fill="#b7b7b7" opacity="0.4"/>
<ellipse cx="242.7" cy="43.3" rx="1.5" ry="1.1" fill="#dedede" opacity="0.4"/>
<ellipse cx="212.2" cy="53.1" rx="1.5" ry="1.1" fill="#b5b5b5" opacity="0.4"/>
<ellipse cx="201.8" cy="55.5" rx="1.5" ry="1.1" fill="#e0e0e0" opacity="0.4"/>
<ellipse cx="221.0" cy="64.5" rx="1.5" ry="1.1" fill="#bcbcbc" opacity="0.4"/>
<ellipse cx="224.2" cy="38.1" rx="1.5" ry="1.1" fill="#b8b8b8" opacity="0.4"/>
<ellipse cx="231.9" cy="67.0" rx="1.5" ry="1.1" fill="#b7b7b7" opacity="0.4"/>
<ellipse cx="248.3" cy="37.5" rx="1.5" ry="1.1" fill="#b8b8b8" opacity="0.4"/>
<ellipse cx="240.2" cy="36.7" rx="1.5" ry="1.1" fill="#aaaaaa" opacity="0.4"/>
<ellipse cx="232.3" cy="15.8" rx="1.5" ry="1.1" fill="#f1f1f1" opacity="0.4"/>
<ellipse cx="225.3" cy="50.1" rx="1.5" ry="1.1" fill="#e1e1e1" opacity="0.4"/>
<ellipse cx="226.4" cy="24.5" rx="1.5" ry="1.1" fill="#b6b6b6" opacity="0.4"/>
<ellipse cx="236.7" cy="34.4" rx="1.5" ry="1.1" fill="#b3b3b3" opacity="0.4"/>
<ellipse cx="252.8" cy="41.4" rx="1.5" ry="1.1" fill="#e9e9e9" opacity="0.4"/>
<ellipse cx="253.3" cy="47.4" rx="1.5" ry="1.1" fill="#b9b9b9" opacity="0.4"/>
<ellipse cx="218.5" cy="25.1" rx="1.5" ry="1.1" fill="#ababab" opacity="0.4"/>
<ellipse cx="245.2" cy="43.6" rx="1.5" ry="1.1" fill="#aaaaaa" opacity="0.4"/>
<ellipse cx="237.5" cy="47.9" rx="1.5" ry="1.1" fill="#e0e0e0" opacity="0.4"/>
<ellipse cx="211.2" cy="34.8" rx="1.5" ry="1.1" fill="#b1b1b1" opacity="0.4"/>
<ellipse cx="196.1" cy="50.6" rx="1.5" ry="1.1" fill="#f0f0f0" opacity="0.4"/>
<ellipse cx="234.2" cy="47.8" rx="1.5" ry="1.1" fill="#b6b6b6" opacity="0.4"/>
<ellipse cx="219.6" cy="38.1" rx="1.5" ry="1.1" fill="#bababa" opacity="0.4"/>
<ellipse cx="206.3" cy="29.7" rx="1.5" ry="1.1" fill="#e1e1e1" opacity="0.4"/>
<ellipse cx="250.1" cy="60.8" rx="1.5" ry="1.1" fill="#acacac" opacity="0.4"/>
<ellipse cx="255.4" cy="47.3" rx="1.5" ry="1.1" fill="#acacac" opacity="0.4"/>
<ellipse cx="223.8" cy="24.3" rx="1.5" ry="1.1" fill="#b5b5b5" opacity="0.4"/>
<ellipse cx="255.4" cy="31.2" rx="1.5" ry="1.1" fill="#b5b5b5" opacity="0.4"/>
<ellipse cx="215.7" cy="42.6" rx="1.5" ry="1.1" fill="#e1e1e1" opacity="0.4"/>
<ellipse cx="224.1" cy="31.3" rx="1.5" ry="1.1" fill="#adadad" opacity="0.4"/>
<ellipse cx="235.3" cy="38.5" rx="1.5" ry="1.1" fill="#e1e1e1" opacity="0.4"/>
<ellipse cx="245.2" cy="26.8" rx="1.5" ry="1.1" fill="#b1b1b1" opacity="0.4"/>
<ellipse cx="206.5" cy="49.7" rx="1.5" ry="1.1" fill="#ebebeb" opacity="0.4"/>
<ellipse cx="195.7" cy="27.1" rx="1.5" ry="1.1" fill="#e4e4e4" opacity="0.4"/>
<ellipse cx="248.4" cy="51.7" rx="1.5" ry="1.1" fill="#e1e1e1" opacity="0.4"/>
<ellipse cx="212.2" cy="17.0" rx="1.5" ry="1.1" fill="#b2b2b2" opacity="0.4"/>
<ellipse cx="218.3" cy="53.7" rx="1.5" ry="1.1" fill="#bcbcbc" opacity="0.4"/>
<ellipse cx="219.0" cy="15.4" rx="1.5" ry="1.1" fill="#bababa" opacity="0.4"/>
<ellipse cx="247.2" cy="43.9" rx="1.5" ry="1.1" fill="#f2f2f2" opacity="0.4"/>
<ellipse cx="263.9" cy="35.6" rx="1.5" ry="1.1" fill="#f1f1f1" opacity="0.4"/>
<ellipse cx="254.9" cy="27.2" rx="1.5" ry="1.1" fill="#afafaf" opacity="0.4"/>
<ellipse cx="215.0" cy="33.2" rx="1.5" ry="1.1" fill="#ededed" opacity="0.4"/>
<ellipse cx="209.4" cy="30.8" rx="1.5" ry="1.1" fill="#f2f2f2" opacity="0.4"/>
<ellipse cx="219.0" cy="30.9" rx="1.5" ry="1.1" fill="#b2b2b2" opacity="0.4"/>
<ellipse cx="221.4" cy="32.4" rx="1.5" ry="1.1" fill="#a9a9a9" opacity="0.4"/>
<ellipse cx="205.0" cy="43.5" rx="1.5" ry="1.1" fill="#eeeeee" opacity="0.4"/>
<ellipse cx="254.4" cy="42.1" rx="1.5" ry="1.1" fill="#e8e8e8" opacity="0.4"/>
<ellipse cx="257.6" cy="43.5" rx="1.5" ry="1.1" fill="#e1e1e1" opacity="0.4"/>
<ellipse cx="203.5" cy="55.8" rx="1.5" ry="1.1" fill="#e8e8e8" opacity="0.4"/>
<ellipse cx="190.8" cy="40.5" rx="1.5" ry="1.1" fill="#e5e5e5" opacity="0.4"/>
<ellipse cx="233.6" cy="43.8" rx="1.5" ry="1.1" fill="#e9e9e9" opacity="0.4"/>
<ellipse cx="233.8" cy="57.6" rx="1.5" ry="1.1" fill="#bababa" opacity="0.4"/>
<ellipse cx="195.9" cy="48.0" rx="1.5" ry="1.1" fill="#bababa" opacity="0.4"/>
<ellipse cx="200.8" cy="55.0" rx="1.5" ry="1.1" fill="#f1f1f1" opacity="0.4"/>
<ellipse cx="242.2" cy="23.5" rx="1.5" ry="1.1" fill="#b1b1b1" opacity="0.4"/>
<ellipse cx="207.1" cy="56.2" rx="1.5" ry="1.1" fill="#e3e3e3" opacity="0.4"/>
<ellipse cx="231.8" cy="56.2" rx="1.5" ry="1.1" fill="#eeeeee" opacity="0.4"/>
<ellipse cx="221.3" cy="29.3" rx="1.5" ry="1.1" fill="#a9a9a9" opacity="0.4"/>
<ellipse cx="229.5" cy="41.9" rx="1.5" ry="1.1" fill="#f0f0f0" opacity="0.4"/>
<ellipse cx="248.1" cy="52.6" rx="1.5" ry="1.1" fill="#f2f2f2" opacity="0.4"/>
<ellipse cx="264.0" cy="33.9" rx="1.5" ry="1.1" fill="#e0e0e0" opacity="0.4"/>
<ellipse cx="256.8" cy="50.0" rx="1.5" ry="1.1" fill="#bababa" opacity="0.4"/>
<ellipse cx="232.0" cy="52.7" rx="1.5" ry="1.1" fill="#e5e5e5" opacity="0.4"/>
<ellipse cx="254.8" cy="34.6" rx="1.5" ry="1.1" fill="#dfdfdf" opacity="0.4"/>
<ellipse cx="223.5" cy="17.2" rx="1.5" ry="1.1" fill="#e2e2e2" opacity="0.4"/>
<ellipse cx="219.8" cy="18.6" rx="1.5" ry="1.1" fill="#bcbcbc" opacity="0.4"/>
<ellipse cx="205.8" cy="34.8" rx="1.5" ry="1.1" fill="#dfdfdf" opacity="0.4"/>
<ellipse cx="198.4" cy="48.8" rx="1.5" ry="1.1" fill="#bbbbbb" opacity="0.4"/>
<ellipse cx="194.1" cy="36.9" rx="1.5" ry="1.1" fill="#b2b2b2" opacity="0.4"/>
<ellipse cx="236.9" cy="65.3" rx="1.5" ry="1.1" fill="#bbbbbb" opacity="0.4"/>
<ellipse cx="204.1" cy="21.7" rx="1.5" ry="1.1" fill="#ebebeb" opacity="0.4"/>
<ellipse cx="208.3" cy="53.2" rx="1.5" ry="1.1" fill="#bcbcbc" opacity="0.4"/>
<ellipse cx="237.8" cy="22.1" rx="1.5" ry="1.1" fill="#aaaaaa" opacity="0.4"/>
<ellipse cx="204.2" cy="25.7" rx="1.5" ry="1.1" fill="#ececec" opacity="0.4"/>
<ellipse cx="203.1" cy="55.7" rx="1.5" ry="1.1" fill="#ececec" opacity="0.4"/>
<ellipse cx="214.6" cy="42.5" rx="1.5" ry="1.1" fill="#e1e1e1" opacity="0.4"/>
<ellipse cx="256.0" cy="38.2" rx="1.5" ry="1.1" fill="#b9b9b9" opacity="0.4"/>
<ellipse cx="210.4" cy="63.9" rx="1.5" ry="1.1" fill="#b4b4b4" opacity="0.4"/>
<ellipse cx="228.6" cy="21.9" rx="1.5" ry="1.1" fill="#e1e1e1" opacity="0.4"/>
<ellipse cx="254.7" cy="32.3" rx="1.5" ry="1.1" fill="#b2b2b2" opacity="0.4"/>
<ellipse cx="232.3" cy="40.5" rx="1.5" ry="1.1" fill="#e2e2e2" opacity="0.4"/>
<ellipse cx="242.9" cy="23.0" rx="1.5" ry="1.1" fill="#b7b7b7" opacity="0.4"/>
<ellipse cx="219.5" cy="58.2" rx="1.5" ry="1.1" fill="#b5b5b5" opacity="0.4"/>
<ellipse cx="247.5" cy="46.2" rx="1.5" ry="1.1" fill="#ededed" opacity="0.4"/>
<ellipse cx="215.4" cy="24.3" rx="1.5" ry="1.1" fill="#eeeeee" opacity="0.4"/>
<ellipse cx="260.3" cy="40.5" rx="1.5" ry="1.1" fill="#ababab" opacity="0.4"/>
<ellipse cx="210.9" cy="41.7" rx="1.5" ry="1.1" fill="#bababa" opacity="0.4"/>
<ellipse cx="201.4" cy="56.5" rx="1.5" ry="1.1" fill="#a8a8a8" opacity="0.4"/>
<ellipse cx="228.4" cy="37.5" rx="1.5" ry="1.1" fill="#e9e9e9" opacity="0.4"/>
<ellipse cx="253.7" cy="34.3" rx="1.5" ry="1.1" fill="#eeeeee" opacity="0.4"/>
<ellipse cx="233.6" cy="41.1" rx="1.5" ry="1.1" fill="#f0f0f0" opacity="0.4"/>
<ellipse cx="214.5" cy="27.6" rx="1.5" ry="1.1" fill="#b3b3b3" opacity="0.4"/>
<ellipse cx="195.2" cy="27.3" rx="1.5" ry="1.1" fill="#eaeaea" opacity="0.4"/>
<ellipse cx="227.3" cy="53.1" rx="1.5" ry="1.1" fill="#aaaaaa" opacity="0.4"/>
<ellipse cx="218.5" cy="51.3" rx="1.5" ry="1.1" fill="#e6e6e6" opacity="0.4"/>
<ellipse cx="197.7" cy="32.8" rx="1.5" ry="1.1" fill="#b5b5b5" opacity="0.4"/>
<ellipse cx="257.0" cy="49.2" rx="1.5" ry="1.1" fill="#e0e0e0" opacity="0.4"/>
<ellipse cx="235.3" cy="36.9" rx="1.5" ry="1.1" fill="#b4b4b4" opacity="0.4"/>
<ellipse cx="239.5" cy="26.3" rx="1.5" ry="1.1" fill="#b5b5b5" opacity="0.4"/>
<ellipse cx="219.8" cy="42.0" rx="1.5" ry="1.1" fill="#e3e3e3" opacity="0.4"/>
<ellipse cx="213.5" cy="29.3" rx="1.5" ry="1.1" fill="#ececec" opacity="0.4"/>
<ellipse cx="221.2" cy="50.0" rx="1.5" ry="1.1" fill="#b7b7b7" opacity="0.4"/>
<ellipse cx="210.0" cy="20.6" rx="1.5" ry="1.1" fill="#adadad" opacity="0.4"/>
<ellipse cx="249.0" cy="28.8" rx="1.5" ry="1.1" fill="#b1b1b1" opacity="0.4"/>
<ellipse cx="266.5" cy="43.5" rx="1.5" ry="1.1" fill="#a9a9a9" opacity="0.4"/>
<ellipse cx="248.4" cy="28.9" rx="1.5" ry="1.1" fill="#ededed" opacity="0.4"/>
<ellipse cx="244.6" cy="52.6" rx="1.5" ry="1.1" fill="#e2e2e2" opacity="0.4"/>
<ellipse cx="203.7" cy="33.3" rx="1.5" ry="1.1" fill="#b3b3b3" opacity="0.4"/>
<ellipse cx="257.6" cy="45.3" rx="1.5" ry="1.1" fill="#afafaf" opacity="0.4"/>
<ellipse cx="264.5" cy="34.9" rx="1.5" ry="1.1" fill="#efefef" opacity="0.4"/>
<ellipse cx="230.9" cy="48.8" rx="1.5" ry="1.1" fill="#ababab" opacity="0.4"/>
<ellipse cx="251.9" cy="59.7" rx="1.5" ry="1.1" fill="#e3e3e3" opacity="0.4"/>
<ellipse cx="220.6" cy="28.9" rx="1.5" ry="1.1" fill="#b2b2b2" opacity="0.4"/>
<ellipse cx="221.9" cy="52.1" rx="1.5" ry="1.1" fill="#f1f1f1" opacity="0.4"/>
<ellipse cx="243.1" cy="46.3" rx="1.5" ry="1.1" fill="#e5e5e5" opacity="0.4"/>
<ellipse cx="217.1" cy="49.0" rx="1.5" ry="1.1" fill="#e3e3e3" opacity="0.4"/>
<ellipse cx="197.7" cy="31.8" rx="1.5" ry="1.1" fill="#e7e7e7" opacity="0.4"/>
<ellipse cx="230.8" cy="57.7" rx="1.5" ry="1.1" fill="#e2e2e2" opacity="0.4"/>
<ellipse cx="256.7" cy="46.5" rx="1.5" ry="1.1" fill="#e0e0e0" opacity="0.4"/>
<ellipse cx="202.0" cy="56.3" rx="1.5" ry="1.1" fill="#e7e7e7" opacity="0.4"/>
<ellipse cx="263.0" cy="42.5" rx="1.5" ry="1.1" fill="#e2e2e2" opacity="0.4"/>
<ellipse cx="217.9" cy="39.5" rx="1.5" ry="1.1" fill="#adadad" opacity="0.4"/>
<ellipse cx="200.6" cy="52.9" rx="1.5" ry="1.1" fill="#bbbbbb" opacity="0.4"/>
<ellipse cx="247.7" cy="60.6" rx="1.5" ry="1.1" fill="#f0f0f0" opacity="0.4"/>
<ellipse cx="240.4" cy="20.5" rx="1.5" ry="1.1" fill="#dfdfdf" opacity="0.4"/>
<ellipse cx="236.3" cy="51.9" rx="1.5" ry="1.1" fill="#b3b3b3" opacity="0.4"/>
<ellipse cx="218.6" cy="37.2" rx="1.5" ry="1.1" fill="#ececec" opacity="0.4"/>
<ellipse cx="233.6" cy="43.3" rx="1.5" ry="1.1" fill="#e4e4e4" opacity="0.4"/>
<ellipse cx="234.9" cy="24.7" rx="1.5" ry="1.1" fill="#bababa" opacity="0.4"/>
<ellipse cx="256.0" cy="45.9" rx="1.5" ry="1.1" fill="#aaaaaa" opacity="0.4"/>
<ellipse cx="212.7" cy="64.5" rx="1.5" ry="1.1" fill="#e0e0e0" opacity="0.4"/>
<ellipse cx="208.8" cy="44.1" rx="1.5" ry="1.1" fill="#a8a8a8" opacity="0.4"/>
<ellipse cx="243.0" cy="27.4" rx="1.5" ry="1.1" fill="#e9e9e9" opacity="0.4"/>
<ellipse cx="244.0" cy="54.5" rx="1.5" ry="1.1" fill="#b3b3b3" opacity="0.4"/>
<ellipse cx="220.3" cy="45.3" rx="1.5" ry="1.1" fill="#aaaaaa" opacity="0.4"/>
<ellipse cx="205.4" cy="37.5" rx="1.5" ry="1.1" fill="#b5b5b5" opacity="0.4"/>
<ellipse cx="270" cy="30" rx="1.9" ry="1.5" fill="#9a9a9a"/>
<ellipse cx="272" cy="44" rx="1.9" ry="1.5" fill="#9a9a9a"/>
<ellipse cx="271" cy="55" rx="1.9" ry="1.5" fill="#9a9a9a"/>
<ellipse cx="268" cy="64" rx="1.9" ry="1.5" fill="#9a9a9a"/>
<ellipse cx="261" cy="69" rx="1.9" ry="1.5" fill="#9a9a9a"/>
<ellipse cx="252" cy="70.5" rx="1.9" ry="1.5" fill="#9a9a9a"/>
<ellipse cx="193" cy="57" rx="1.9" ry="1.5" fill="#9a9a9a"/>
<ellipse cx="197" cy="62" rx="1.9" ry="1.5" fill="#9a9a9a"/>
<ellipse cx="266" cy="25" rx="1.9" ry="1.5" fill="#9a9a9a"/>
<ellipse cx="205" cy="66" rx="1.9" ry="1.5" fill="#9a9a9a"/>
<ellipse cx="274" cy="50" rx="1.9" ry="1.5" fill="#9a9a9a"/>
</g>
</g>
<text x="226.80" y="39.90" font-size="11.5" text-anchor="middle" font-weight="bold" fill="#000" stroke="#000" stroke-width="0.25">PP</text>
<clipPath id="cc"><rect x="279" y="2.5" width="80.8" height="74"/></clipPath>
<g clip-path="url(#cc)">
<rect x="279" y="2.5" width="80.8" height="74" fill="#e6e6e8"/>
<rect x="279" y="2.5" width="80.8" height="20" fill="#dedee2" opacity="0.6"/>
<g filter="url(#b1)">
<path d="M292,22 C298,10 312,6 326,8 C340,10 350,18 353,32 C356,46 352,60 342,68 C332,75 314,75 302,70 C290,64 285,50 286,38 C287,32 289,27 292,22 Z" fill="#dca07a" opacity="0.35"/>
<path d="M295,24 C301,14 313,10 326,12 C338,14 346,22 348,33 C350,46 346,57 338,64 C328,71 314,71 304,65 C294,59 289,48 290,37 C291,31 292,28 295,24 Z" fill="url(#gcoir)"/>
</g>
<g opacity="0.9">
<path d="M298.9,19.8 Q303.0,17.0 303.7,18.0" fill="none" stroke="#e8a058" stroke-width="0.7"/>
<path d="M343.6,30.6 Q344.1,32.1 346.7,33.3" fill="none" stroke="#a8460e" stroke-width="0.8"/>
<path d="M334.1,41.3 Q334.8,44.9 336.4,46.3" fill="none" stroke="#e49040" stroke-width="0.5"/>
<path d="M303.0,24.9 Q304.6,23.8 308.5,24.9" fill="none" stroke="#a8460e" stroke-width="1.0"/>
<path d="M331.2,27.0 Q327.6,28.2 326.5,25.8" fill="none" stroke="#a8460e" stroke-width="0.8"/>
<path d="M349.1,33.4 Q352.8,32.7 353.0,33.9" fill="none" stroke="#e49040" stroke-width="0.7"/>
<path d="M329.2,16.5 Q327.7,16.2 327.6,13.2" fill="none" stroke="#c8641e" stroke-width="0.7"/>
<path d="M309.9,61.3 Q312.4,64.7 311.4,64.4" fill="none" stroke="#e8a058" stroke-width="0.7"/>
<path d="M299.1,54.1 Q295.6,54.0 296.1,57.5" fill="none" stroke="#9a3e0c" stroke-width="0.6"/>
<path d="M332.9,35.9 Q334.9,34.0 338.1,33.4" fill="none" stroke="#a8460e" stroke-width="0.8"/>
<path d="M320.7,29.1 Q320.3,27.0 321.4,25.4" fill="none" stroke="#e8a058" stroke-width="1.0"/>
<path d="M325.0,63.2 Q328.3,62.5 328.2,61.4" fill="none" stroke="#e49040" stroke-width="0.7"/>
<path d="M313.4,52.9 Q310.9,51.1 309.9,49.3" fill="none" stroke="#d87a30" stroke-width="0.9"/>
<path d="M341.0,52.7 Q342.9,52.2 346.0,53.7" fill="none" stroke="#9a3e0c" stroke-width="0.8"/>
<path d="M338.6,66.4 Q342.1,65.3 342.8,67.2" fill="none" stroke="#e8a058" stroke-width="0.9"/>
<path d="M343.6,31.7 Q343.7,34.4 346.7,34.2" fill="none" stroke="#9a3e0c" stroke-width="0.6"/>
<path d="M287.9,49.7 Q289.8,50.4 291.9,49.1" fill="none" stroke="#a8460e" stroke-width="0.7"/>
<path d="M313.7,60.6 Q315.9,61.1 317.8,64.1" fill="none" stroke="#a8460e" stroke-width="1.0"/>
<path d="M328.3,29.5 Q329.4,31.5 327.6,34.7" fill="none" stroke="#9a3e0c" stroke-width="0.9"/>
<path d="M323.2,12.3 Q325.2,13.4 326.7,13.1" fill="none" stroke="#e8a058" stroke-width="0.9"/>
<path d="M316.0,73.1 Q315.8,76.3 314.4,78.7" fill="none" stroke="#e8a058" stroke-width="0.5"/>
<path d="M303.4,35.1 Q303.1,37.5 302.9,38.6" fill="none" stroke="#e8a058" stroke-width="0.7"/>
<path d="M316.1,59.5 Q316.0,62.5 312.9,63.9" fill="none" stroke="#9a3e0c" stroke-width="1.0"/>
<path d="M341.6,33.5 Q342.6,34.7 344.7,33.1" fill="none" stroke="#c8641e" stroke-width="0.6"/>
<path d="M342.5,53.1 Q344.0,56.1 344.9,57.7" fill="none" stroke="#9a3e0c" stroke-width="0.7"/>
<path d="M298.6,19.3 Q297.0,22.6 297.8,25.2" fill="none" stroke="#e8a058" stroke-width="0.8"/>
<path d="M331.0,66.5 Q329.9,64.5 329.2,64.6" fill="none" stroke="#a8460e" stroke-width="0.5"/>
<path d="M331.3,54.1 Q328.7,53.7 326.9,54.6" fill="none" stroke="#a8460e" stroke-width="0.8"/>
<path d="M332.2,46.6 Q332.9,45.0 334.3,45.2" fill="none" stroke="#e8a058" stroke-width="0.7"/>
<path d="M341.3,60.3 Q342.6,59.0 345.6,59.3" fill="none" stroke="#e49040" stroke-width="0.8"/>
<path d="M335.8,34.5 Q337.9,33.3 337.5,30.9" fill="none" stroke="#e49040" stroke-width="0.7"/>
<path d="M334.8,60.2 Q331.7,58.8 331.6,60.7" fill="none" stroke="#c8641e" stroke-width="0.9"/>
<path d="M308.4,22.4 Q304.8,21.9 304.1,20.5" fill="none" stroke="#e49040" stroke-width="0.9"/>
<path d="M303.8,55.5 Q302.5,55.1 299.6,55.7" fill="none" stroke="#a8460e" stroke-width="0.9"/>
<path d="M332.6,61.8 Q334.3,60.8 336.8,61.3" fill="none" stroke="#e8a058" stroke-width="1.0"/>
<path d="M301.6,40.9 Q305.8,40.3 306.4,41.6" fill="none" stroke="#9a3e0c" stroke-width="0.5"/>
<path d="M332.3,55.9 Q332.4,56.7 329.0,55.2" fill="none" stroke="#9a3e0c" stroke-width="0.6"/>
<path d="M317.6,53.1 Q316.9,55.9 316.3,57.6" fill="none" stroke="#e49040" stroke-width="0.8"/>
<path d="M318.5,28.5 Q317.2,29.7 317.2,32.6" fill="none" stroke="#a8460e" stroke-width="0.8"/>
<path d="M299.9,44.5 Q298.5,43.3 301.1,41.7" fill="none" stroke="#e8a058" stroke-width="0.8"/>
<path d="M340.1,57.4 Q342.4,58.0 345.3,57.9" fill="none" stroke="#a8460e" stroke-width="0.9"/>
<path d="M303.8,22.8 Q302.2,24.7 298.9,23.5" fill="none" stroke="#9a3e0c" stroke-width="0.7"/>
<path d="M319.9,21.5 Q318.4,20.7 318.6,17.7" fill="none" stroke="#d87a30" stroke-width="1.0"/>
<path d="M333.1,58.2 Q335.5,56.0 337.6,54.4" fill="none" stroke="#c8641e" stroke-width="0.8"/>
<path d="M345.6,48.6 Q347.3,44.4 347.8,43.9" fill="none" stroke="#e49040" stroke-width="0.9"/>
<path d="M351.2,35.5 Q348.3,36.1 348.3,35.8" fill="none" stroke="#e8a058" stroke-width="0.9"/>
<path d="M342.6,60.4 Q340.8,57.2 341.5,56.6" fill="none" stroke="#e49040" stroke-width="0.9"/>
<path d="M332.7,46.4 Q332.5,45.8 335.7,48.8" fill="none" stroke="#c8641e" stroke-width="0.8"/>
<path d="M317.5,8.5 Q319.7,8.6 320.3,8.7" fill="none" stroke="#a8460e" stroke-width="0.7"/>
<path d="M301.7,13.3 Q301.7,11.9 300.7,10.4" fill="none" stroke="#a8460e" stroke-width="1.0"/>
<path d="M294.9,31.0 Q297.7,30.8 297.9,32.3" fill="none" stroke="#e49040" stroke-width="1.0"/>
<path d="M329.8,10.8 Q330.5,9.9 329.5,7.7" fill="none" stroke="#9a3e0c" stroke-width="0.5"/>
<path d="M314.2,31.2 Q311.7,30.9 310.1,31.0" fill="none" stroke="#d87a30" stroke-width="1.0"/>
<path d="M337.5,55.3 Q335.9,55.8 337.1,52.7" fill="none" stroke="#c8641e" stroke-width="0.8"/>
<path d="M320.9,51.3 Q320.1,50.9 317.6,51.5" fill="none" stroke="#e8a058" stroke-width="0.9"/>
<path d="M311.2,71.4 Q308.7,74.3 309.0,74.5" fill="none" stroke="#e8a058" stroke-width="0.8"/>
<path d="M326.2,19.2 Q324.2,19.9 321.6,18.7" fill="none" stroke="#e49040" stroke-width="0.7"/>
<path d="M323.9,43.5 Q326.3,46.1 325.3,47.5" fill="none" stroke="#a8460e" stroke-width="0.7"/>
<path d="M303.0,48.2 Q304.4,46.1 306.2,46.4" fill="none" stroke="#c8641e" stroke-width="0.8"/>
<path d="M346.4,53.5 Q346.4,53.6 348.3,56.3" fill="none" stroke="#9a3e0c" stroke-width="0.6"/>
<path d="M321.1,63.2 Q318.9,63.6 318.2,67.5" fill="none" stroke="#d87a30" stroke-width="0.5"/>
<path d="M290.1,48.3 Q291.1,50.7 293.7,51.6" fill="none" stroke="#a8460e" stroke-width="0.9"/>
<path d="M326.6,52.9 Q324.9,53.4 322.3,50.7" fill="none" stroke="#d87a30" stroke-width="0.9"/>
<path d="M313.1,26.9 Q313.4,28.1 312.0,31.9" fill="none" stroke="#e49040" stroke-width="0.6"/>
<path d="M304.2,11.2 Q301.3,9.5 300.3,8.1" fill="none" stroke="#e8a058" stroke-width="0.7"/>
<path d="M313.4,27.4 Q310.6,25.9 307.7,25.6" fill="none" stroke="#d87a30" stroke-width="0.5"/>
<path d="M346.8,53.8 Q349.3,55.5 350.3,56.0" fill="none" stroke="#9a3e0c" stroke-width="0.7"/>
<path d="M320.4,32.8 Q319.7,35.4 315.9,34.4" fill="none" stroke="#9a3e0c" stroke-width="0.6"/>
<path d="M310.3,14.7 Q308.2,12.8 307.5,14.1" fill="none" stroke="#a8460e" stroke-width="0.8"/>
<path d="M341.2,27.7 Q341.6,28.9 341.7,30.2" fill="none" stroke="#e8a058" stroke-width="0.8"/>
<path d="M300.6,58.6 Q303.9,60.4 305.7,59.0" fill="none" stroke="#e8a058" stroke-width="1.0"/>
<path d="M307.6,35.8 Q311.1,36.4 312.0,38.5" fill="none" stroke="#9a3e0c" stroke-width="0.6"/>
<path d="M333.0,48.2 Q334.6,44.5 334.8,42.6" fill="none" stroke="#d87a30" stroke-width="0.7"/>
<path d="M319.2,68.2 Q319.6,67.4 323.4,64.4" fill="none" stroke="#e49040" stroke-width="0.7"/>
<path d="M319.0,39.7 Q317.9,37.4 316.1,35.5" fill="none" stroke="#e49040" stroke-width="0.9"/>
<path d="M301.2,12.8 Q301.5,14.6 305.0,14.0" fill="none" stroke="#e8a058" stroke-width="0.8"/>
<path d="M311.2,56.8 Q310.1,57.4 310.8,61.6" fill="none" stroke="#a8460e" stroke-width="0.9"/>
<path d="M313.9,38.0 Q316.3,36.6 319.2,37.0" fill="none" stroke="#d87a30" stroke-width="1.0"/>
<path d="M342.5,42.5 Q339.4,44.3 340.1,45.3" fill="none" stroke="#a8460e" stroke-width="0.9"/>
<path d="M317.5,29.7 Q314.3,29.3 313.8,26.8" fill="none" stroke="#c8641e" stroke-width="0.7"/>
<path d="M302.0,48.3 Q303.5,47.0 305.6,46.2" fill="none" stroke="#9a3e0c" stroke-width="0.9"/>
<path d="M340.9,30.4 Q341.0,29.3 338.5,28.8" fill="none" stroke="#9a3e0c" stroke-width="0.5"/>
<path d="M324.8,39.2 Q324.5,41.5 325.3,44.1" fill="none" stroke="#c8641e" stroke-width="0.6"/>
<path d="M326.8,23.3 Q324.2,24.8 323.6,27.4" fill="none" stroke="#c8641e" stroke-width="0.6"/>
<path d="M348.7,36.6 Q345.8,36.6 345.8,34.0" fill="none" stroke="#d87a30" stroke-width="0.7"/>
<path d="M332.0,43.3 Q333.8,42.7 332.1,39.8" fill="none" stroke="#d87a30" stroke-width="0.9"/>
<path d="M296.9,43.3 Q294.5,39.5 293.1,39.6" fill="none" stroke="#c8641e" stroke-width="0.8"/>
<path d="M307.0,32.5 Q309.9,32.9 311.9,33.2" fill="none" stroke="#9a3e0c" stroke-width="0.8"/>
<path d="M293.1,32.1 Q297.4,32.6 298.4,31.5" fill="none" stroke="#9a3e0c" stroke-width="0.8"/>
<path d="M290.7,33.1 Q293.0,31.6 293.2,32.5" fill="none" stroke="#e49040" stroke-width="0.6"/>
<path d="M347.2,45.1 Q345.8,43.0 342.7,42.6" fill="none" stroke="#c8641e" stroke-width="1.0"/>
<path d="M314.8,68.1 Q318.0,67.6 317.5,68.8" fill="none" stroke="#d87a30" stroke-width="0.7"/>
<path d="M328.9,9.2 Q327.8,9.8 326.5,7.1" fill="none" stroke="#c8641e" stroke-width="0.6"/>
<path d="M342.7,36.1 Q344.6,36.6 347.5,35.1" fill="none" stroke="#9a3e0c" stroke-width="0.8"/>
<path d="M326.1,66.7 Q325.8,67.8 323.9,68.5" fill="none" stroke="#e49040" stroke-width="0.9"/>
<path d="M297.5,62.5 Q297.9,63.4 296.0,67.6" fill="none" stroke="#a8460e" stroke-width="1.0"/>
<path d="M337.5,50.0 Q338.0,52.7 338.0,52.7" fill="none" stroke="#a8460e" stroke-width="0.9"/>
<path d="M316.1,18.5 Q312.8,18.4 311.5,19.0" fill="none" stroke="#9a3e0c" stroke-width="0.5"/>
<path d="M333.4,27.6 Q335.1,28.3 336.2,28.2" fill="none" stroke="#9a3e0c" stroke-width="0.6"/>
<path d="M328.2,64.1 Q326.9,64.1 329.0,60.5" fill="none" stroke="#e8a058" stroke-width="0.6"/>
<path d="M310.3,38.9 Q313.4,35.9 313.1,35.1" fill="none" stroke="#a8460e" stroke-width="0.8"/>
<path d="M331.1,20.5 Q332.0,19.8 336.0,20.5" fill="none" stroke="#d87a30" stroke-width="0.7"/>
<path d="M320.6,14.6 Q321.6,12.8 320.2,9.2" fill="none" stroke="#9a3e0c" stroke-width="1.0"/>
<path d="M343.8,32.9 Q340.8,34.2 340.3,36.9" fill="none" stroke="#d87a30" stroke-width="0.6"/>
<path d="M344.0,18.9 Q344.0,19.8 344.2,24.7" fill="none" stroke="#d87a30" stroke-width="1.0"/>
<path d="M330.5,37.1 Q329.4,35.5 324.7,37.3" fill="none" stroke="#d87a30" stroke-width="0.9"/>
<path d="M315.8,22.0 Q317.9,18.0 318.0,16.4" fill="none" stroke="#d87a30" stroke-width="0.7"/>
<path d="M338.5,64.8 Q337.9,61.5 336.8,59.9" fill="none" stroke="#e8a058" stroke-width="0.7"/>
<path d="M332.5,20.2 Q332.2,24.0 333.7,26.1" fill="none" stroke="#d87a30" stroke-width="0.6"/>
<path d="M342.7,34.9 Q344.4,36.5 347.1,34.5" fill="none" stroke="#9a3e0c" stroke-width="0.5"/>
<path d="M300.9,63.8 Q302.8,60.5 302.2,61.1" fill="none" stroke="#d87a30" stroke-width="0.8"/>
<path d="M348.2,31.6 Q351.7,31.9 351.3,32.7" fill="none" stroke="#d87a30" stroke-width="0.7"/>
<path d="M333.8,49.1 Q331.2,50.4 331.2,49.5" fill="none" stroke="#e8a058" stroke-width="0.8"/>
<path d="M339.1,14.9 Q335.8,11.1 336.2,11.2" fill="none" stroke="#e8a058" stroke-width="0.9"/>
<path d="M293.0,56.3 Q296.6,56.3 296.3,54.3" fill="none" stroke="#9a3e0c" stroke-width="0.9"/>
<path d="M336.2,63.8 Q336.3,62.2 337.6,61.4" fill="none" stroke="#9a3e0c" stroke-width="0.6"/>
<path d="M331.6,55.5 Q329.5,54.1 330.1,53.0" fill="none" stroke="#d87a30" stroke-width="0.5"/>
<path d="M296.4,61.6 Q298.1,64.7 297.2,64.0" fill="none" stroke="#a8460e" stroke-width="0.8"/>
<path d="M329.4,52.3 Q329.3,51.6 331.8,51.4" fill="none" stroke="#e49040" stroke-width="0.6"/>
<path d="M319.5,19.5 Q322.6,22.1 322.0,23.0" fill="none" stroke="#a8460e" stroke-width="0.5"/>
<path d="M339.0,57.3 Q338.3,59.8 337.1,62.7" fill="none" stroke="#e49040" stroke-width="0.9"/>
<path d="M330.9,37.3 Q327.0,36.5 326.1,35.8" fill="none" stroke="#d87a30" stroke-width="0.9"/>
<path d="M347.5,41.5 Q346.8,43.2 348.1,46.5" fill="none" stroke="#9a3e0c" stroke-width="0.9"/>
<path d="M321.0,67.9 Q321.1,64.1 321.7,63.5" fill="none" stroke="#e49040" stroke-width="0.6"/>
<path d="M339.4,25.9 Q340.5,25.1 338.1,20.3" fill="none" stroke="#e49040" stroke-width="0.7"/>
<path d="M334.7,68.1 Q332.7,67.5 333.1,66.0" fill="none" stroke="#d87a30" stroke-width="0.5"/>
<path d="M289.7,37.4 Q289.8,36.1 291.1,34.8" fill="none" stroke="#e49040" stroke-width="0.8"/>
<path d="M324.8,61.8 Q326.3,59.9 324.7,58.9" fill="none" stroke="#d87a30" stroke-width="0.7"/>
<path d="M328.0,18.6 Q329.2,17.4 327.8,15.1" fill="none" stroke="#a8460e" stroke-width="0.7"/>
<path d="M307.9,27.9 Q307.2,27.8 303.2,24.9" fill="none" stroke="#e49040" stroke-width="0.8"/>
<path d="M290.7,27.2 Q287.7,28.0 288.3,26.3" fill="none" stroke="#e49040" stroke-width="0.7"/>
<path d="M323.5,35.2 Q321.9,36.0 320.1,37.2" fill="none" stroke="#c8641e" stroke-width="0.8"/>
<path d="M292.5,33.6 Q293.2,32.9 297.1,35.6" fill="none" stroke="#e8a058" stroke-width="0.7"/>
<path d="M300.8,14.5 Q303.0,11.1 303.9,9.5" fill="none" stroke="#e8a058" stroke-width="0.7"/>
<path d="M311.5,61.3 Q314.2,62.9 316.7,61.3" fill="none" stroke="#e49040" stroke-width="0.7"/>
<path d="M327.5,53.0 Q326.4,53.7 325.6,57.2" fill="none" stroke="#e49040" stroke-width="1.0"/>
<path d="M305.3,22.9 Q302.9,21.6 303.4,20.4" fill="none" stroke="#c8641e" stroke-width="0.8"/>
<path d="M295.7,48.3 Q296.7,49.8 297.8,51.0" fill="none" stroke="#d87a30" stroke-width="1.0"/>
<path d="M294.1,30.7 Q291.7,30.6 290.9,29.6" fill="none" stroke="#9a3e0c" stroke-width="0.6"/>
<path d="M292.3,54.0 Q292.6,58.1 291.9,58.6" fill="none" stroke="#c8641e" stroke-width="0.6"/>
<path d="M321.4,20.7 Q323.6,18.1 323.8,18.1" fill="none" stroke="#d87a30" stroke-width="0.9"/>
<path d="M306.0,36.3 Q305.3,33.9 305.4,32.9" fill="none" stroke="#e49040" stroke-width="0.5"/>
<path d="M344.3,51.2 Q344.6,49.5 348.3,51.2" fill="none" stroke="#9a3e0c" stroke-width="0.5"/>
<path d="M342.2,56.1 Q338.7,57.0 338.7,58.4" fill="none" stroke="#c8641e" stroke-width="1.0"/>
<path d="M293.6,33.1 Q292.5,32.7 287.8,32.6" fill="none" stroke="#e8a058" stroke-width="0.6"/>
<path d="M320.3,28.7 Q322.9,29.6 324.3,31.4" fill="none" stroke="#c8641e" stroke-width="0.6"/>
<path d="M311.4,61.2 Q316.0,60.4 316.8,62.6" fill="none" stroke="#9a3e0c" stroke-width="0.8"/>
<path d="M325.0,53.4 Q321.7,54.8 322.1,52.8" fill="none" stroke="#e8a058" stroke-width="0.7"/>
<path d="M289.8,51.2 Q287.3,50.5 287.5,48.7" fill="none" stroke="#c8641e" stroke-width="0.7"/>
<path d="M296.4,56.1 Q298.3,58.2 298.6,58.5" fill="none" stroke="#d87a30" stroke-width="0.6"/>
<path d="M330.9,39.8 Q328.3,37.7 327.8,35.9" fill="none" stroke="#a8460e" stroke-width="0.8"/>
<path d="M326.2,17.9 Q324.2,15.3 323.3,16.3" fill="none" stroke="#e49040" stroke-width="0.9"/>
<path d="M339.5,60.4 Q339.0,60.9 335.8,58.5" fill="none" stroke="#e49040" stroke-width="0.8"/>
<path d="M298.9,24.1 Q299.6,22.7 301.0,22.1" fill="none" stroke="#d87a30" stroke-width="1.0"/>
<path d="M337.2,59.6 Q337.9,61.9 341.4,60.5" fill="none" stroke="#e8a058" stroke-width="0.7"/>
<path d="M313.1,69.8 Q313.2,68.2 311.4,66.5" fill="none" stroke="#c8641e" stroke-width="0.9"/>
<path d="M297.1,20.3 Q295.2,19.1 292.9,18.0" fill="none" stroke="#a8460e" stroke-width="0.7"/>
<path d="M308.2,51.5 Q305.5,53.6 305.3,51.8" fill="none" stroke="#d87a30" stroke-width="0.9"/>
<path d="M321.2,70.5 Q324.2,72.3 324.4,72.9" fill="none" stroke="#e8a058" stroke-width="1.0"/>
<path d="M323.4,55.7 Q323.1,52.8 323.2,51.4" fill="none" stroke="#d87a30" stroke-width="0.9"/>
<path d="M301.5,58.6 Q303.6,56.3 302.6,53.7" fill="none" stroke="#9a3e0c" stroke-width="0.5"/>
<path d="M299.2,50.3 Q299.2,48.6 299.5,47.4" fill="none" stroke="#a8460e" stroke-width="0.9"/>
<path d="M295.7,43.6 Q296.5,41.0 296.3,38.6" fill="none" stroke="#d87a30" stroke-width="0.8"/>
<path d="M294.4,20.5 Q294.8,22.8 295.7,25.1" fill="none" stroke="#c8641e" stroke-width="1.0"/>
<path d="M314.2,25.8 Q312.1,24.8 312.3,27.8" fill="none" stroke="#c8641e" stroke-width="0.7"/>
<path d="M310.4,67.3 Q306.9,68.5 306.4,70.6" fill="none" stroke="#9a3e0c" stroke-width="0.6"/>
<path d="M339.9,63.5 Q338.6,65.3 337.7,64.9" fill="none" stroke="#a8460e" stroke-width="0.8"/>
<path d="M336.2,18.6 Q339.3,16.2 340.1,14.5" fill="none" stroke="#d87a30" stroke-width="0.8"/>
<path d="M302.3,13.5 Q300.9,11.3 301.9,8.5" fill="none" stroke="#e8a058" stroke-width="0.9"/>
<path d="M323.7,34.6 Q325.7,35.2 326.7,34.1" fill="none" stroke="#c8641e" stroke-width="0.7"/>
<path d="M329.3,15.6 Q330.5,14.1 332.3,15.7" fill="none" stroke="#a8460e" stroke-width="0.5"/>
<path d="M288.7,29.8 Q288.2,26.5 287.9,24.3" fill="none" stroke="#e49040" stroke-width="1.0"/>
<path d="M315.7,19.9 Q317.0,21.4 315.2,24.3" fill="none" stroke="#9a3e0c" stroke-width="1.0"/>
<path d="M301.6,51.0 Q298.0,51.2 296.6,53.0" fill="none" stroke="#c8641e" stroke-width="0.9"/>
<path d="M340.5,50.6 Q341.9,50.1 344.7,53.0" fill="none" stroke="#a8460e" stroke-width="0.7"/>
<path d="M327.8,57.7 Q325.4,60.0 326.1,62.2" fill="none" stroke="#d87a30" stroke-width="0.5"/>
<path d="M299.3,15.1 Q302.6,15.1 302.9,17.3" fill="none" stroke="#e8a058" stroke-width="0.7"/>
<path d="M296.3,52.1 Q297.5,52.3 300.7,54.2" fill="none" stroke="#c8641e" stroke-width="0.5"/>
<path d="M308.8,70.7 Q308.0,71.2 306.2,72.2" fill="none" stroke="#e49040" stroke-width="1.0"/>
<path d="M332.4,25.5 Q332.4,25.1 329.6,26.1" fill="none" stroke="#d87a30" stroke-width="0.8"/>
<path d="M289.9,49.2 Q286.9,47.4 285.3,46.0" fill="none" stroke="#d87a30" stroke-width="0.9"/>
<path d="M296.0,36.1 Q297.1,34.9 298.5,32.4" fill="none" stroke="#d87a30" stroke-width="0.8"/>
<path d="M301.4,52.3 Q301.2,54.1 304.7,53.7" fill="none" stroke="#a8460e" stroke-width="0.7"/>
<path d="M328.9,35.9 Q324.7,35.2 324.2,37.6" fill="none" stroke="#d87a30" stroke-width="0.9"/>
<path d="M326.0,35.1 Q325.2,35.7 325.0,38.5" fill="none" stroke="#d87a30" stroke-width="0.7"/>
<path d="M311.2,66.8 Q311.8,66.2 309.7,62.8" fill="none" stroke="#c8641e" stroke-width="0.8"/>
<path d="M326.9,28.4 Q328.0,28.1 332.4,28.3" fill="none" stroke="#9a3e0c" stroke-width="0.6"/>
<path d="M335.7,30.6 Q338.9,31.9 339.3,29.2" fill="none" stroke="#e8a058" stroke-width="0.6"/>
<path d="M318.6,11.4 Q319.5,10.6 316.6,13.8" fill="none" stroke="#9a3e0c" stroke-width="0.8"/>
<path d="M313.3,53.6 Q310.9,53.6 309.0,55.4" fill="none" stroke="#a8460e" stroke-width="0.5"/>
<path d="M330.0,15.2 Q329.7,10.7 328.0,10.0" fill="none" stroke="#a8460e" stroke-width="0.6"/>
<path d="M309.3,36.4 Q309.9,33.6 307.0,34.5" fill="none" stroke="#e49040" stroke-width="0.7"/>
<path d="M315.5,64.1 Q317.5,61.9 320.8,61.3" fill="none" stroke="#d87a30" stroke-width="0.7"/>
<path d="M346.1,43.0 Q346.4,46.1 349.9,46.1" fill="none" stroke="#a8460e" stroke-width="0.8"/>
<path d="M323.3,8.5 Q326.8,6.2 328.0,5.9" fill="none" stroke="#c8641e" stroke-width="0.6"/>
<path d="M318.0,48.5 Q319.5,52.5 318.3,54.4" fill="none" stroke="#a8460e" stroke-width="0.7"/>
<path d="M319.9,47.8 Q319.7,44.6 319.2,42.2" fill="none" stroke="#e8a058" stroke-width="0.8"/>
<path d="M317.7,46.3 Q320.2,48.0 320.8,46.4" fill="none" stroke="#e49040" stroke-width="0.7"/>
<path d="M320.4,66.3 Q322.1,63.4 323.1,61.9" fill="none" stroke="#d87a30" stroke-width="0.7"/>
<path d="M308.4,64.4 Q306.0,66.2 307.5,67.3" fill="none" stroke="#c8641e" stroke-width="0.6"/>
<path d="M336.9,40.6 Q337.6,41.4 337.2,44.5" fill="none" stroke="#a8460e" stroke-width="0.9"/>
<path d="M337.3,62.4 Q339.8,64.9 340.6,65.5" fill="none" stroke="#a8460e" stroke-width="0.7"/>
<path d="M336.9,20.7 Q337.2,24.2 336.7,25.3" fill="none" stroke="#e8a058" stroke-width="0.8"/>
<path d="M307.4,16.0 Q306.6,15.5 303.1,16.6" fill="none" stroke="#c8641e" stroke-width="0.8"/>
<path d="M298.2,23.3 Q297.7,25.6 294.3,27.0" fill="none" stroke="#e49040" stroke-width="0.7"/>
<path d="M327.3,63.3 Q329.5,62.8 328.3,66.0" fill="none" stroke="#e8a058" stroke-width="0.7"/>
<path d="M317.4,45.7 Q318.4,43.1 316.7,42.3" fill="none" stroke="#e49040" stroke-width="0.8"/>
<path d="M314.9,50.4 Q315.6,52.2 318.1,50.9" fill="none" stroke="#a8460e" stroke-width="0.7"/>
<path d="M317.9,63.3 Q321.4,64.9 321.8,62.7" fill="none" stroke="#9a3e0c" stroke-width="1.0"/>
<path d="M349.0,52.6 Q348.0,52.4 346.9,50.9" fill="none" stroke="#9a3e0c" stroke-width="0.7"/>
<path d="M311.1,21.3 Q310.6,18.6 312.8,16.8" fill="none" stroke="#c8641e" stroke-width="0.9"/>
<path d="M338.4,14.6 Q334.9,14.1 334.8,11.6" fill="none" stroke="#c8641e" stroke-width="0.6"/>
<path d="M295.5,41.2 Q296.6,43.6 297.9,46.0" fill="none" stroke="#e8a058" stroke-width="0.8"/>
<path d="M320.1,56.3 Q317.8,54.6 318.8,50.6" fill="none" stroke="#e8a058" stroke-width="0.8"/>
<path d="M291.0,32.6 Q292.7,35.1 293.5,36.0" fill="none" stroke="#e8a058" stroke-width="1.0"/>
<path d="M328.7,11.1 Q328.5,7.9 330.9,7.7" fill="none" stroke="#d87a30" stroke-width="0.5"/>
<path d="M324.1,18.5 Q321.0,17.0 319.0,17.8" fill="none" stroke="#e8a058" stroke-width="0.6"/>
<path d="M289.1,37.6 Q288.3,38.0 286.8,42.3" fill="none" stroke="#c8641e" stroke-width="1.0"/>
<path d="M325.9,63.8 Q326.9,64.5 325.3,67.3" fill="none" stroke="#e49040" stroke-width="0.8"/>
<path d="M291.0,26.8 Q290.1,28.5 291.4,30.7" fill="none" stroke="#9a3e0c" stroke-width="0.7"/>
<path d="M323.1,24.2 Q322.8,20.3 323.7,18.4" fill="none" stroke="#e49040" stroke-width="0.6"/>
<path d="M303.5,23.2 Q299.3,23.4 298.9,22.2" fill="none" stroke="#d87a30" stroke-width="0.9"/>
<path d="M333.4,50.9 Q330.0,52.0 328.0,49.5" fill="none" stroke="#a8460e" stroke-width="0.5"/>
<path d="M335.8,26.6 Q337.9,28.0 339.8,30.2" fill="none" stroke="#d87a30" stroke-width="0.5"/>
<path d="M334.0,50.7 Q332.9,49.9 328.5,51.9" fill="none" stroke="#c8641e" stroke-width="1.0"/>
<path d="M302.1,33.8 Q297.4,34.8 296.7,36.1" fill="none" stroke="#d87a30" stroke-width="0.9"/>
<path d="M329.2,39.4 Q329.2,36.2 329.8,36.1" fill="none" stroke="#c8641e" stroke-width="0.6"/>
<path d="M344.7,39.5 Q345.4,41.9 346.4,44.0" fill="none" stroke="#c8641e" stroke-width="0.6"/>
<path d="M317.8,35.0 Q317.4,35.0 315.7,36.4" fill="none" stroke="#c8641e" stroke-width="0.6"/>
<path d="M310.1,61.7 Q309.4,62.9 310.7,65.9" fill="none" stroke="#a8460e" stroke-width="0.8"/>
<path d="M342.6,34.8 Q340.2,34.0 338.1,36.8" fill="none" stroke="#e8a058" stroke-width="0.6"/>
<path d="M321.6,64.0 Q323.4,66.6 323.7,67.0" fill="none" stroke="#c8641e" stroke-width="0.7"/>
<path d="M324.4,72.2 Q320.3,74.1 319.1,72.5" fill="none" stroke="#e8a058" stroke-width="0.9"/>
<path d="M288.5,43.4 Q291.1,43.8 292.2,45.2" fill="none" stroke="#e49040" stroke-width="0.8"/>
<path d="M335.0,38.0 Q336.2,41.1 334.1,42.7" fill="none" stroke="#c8641e" stroke-width="0.5"/>
<path d="M308.0,56.1 Q308.8,55.0 310.2,53.0" fill="none" stroke="#a8460e" stroke-width="0.7"/>
<path d="M326.9,26.5 Q325.0,25.1 326.9,20.7" fill="none" stroke="#a8460e" stroke-width="0.5"/>
<path d="M328.3,67.3 Q327.6,65.6 325.1,64.5" fill="none" stroke="#c8641e" stroke-width="0.6"/>
<path d="M321.1,51.1 Q318.7,50.9 318.5,53.6" fill="none" stroke="#d87a30" stroke-width="0.7"/>
<path d="M328.6,24.1 Q331.7,24.8 331.3,29.0" fill="none" stroke="#e49040" stroke-width="0.7"/>
<path d="M323.7,66.4 Q323.7,65.4 326.5,65.8" fill="none" stroke="#e49040" stroke-width="0.8"/>
<path d="M320.2,26.4 Q323.3,27.4 324.0,25.0" fill="none" stroke="#a8460e" stroke-width="0.8"/>
<path d="M294.5,24.1 Q294.4,23.3 292.2,22.4" fill="none" stroke="#e8a058" stroke-width="0.9"/>
<path d="M294.7,27.4 Q296.5,26.9 297.9,22.9" fill="none" stroke="#d87a30" stroke-width="0.8"/>
<path d="M327.5,32.8 Q326.8,36.0 328.6,38.6" fill="none" stroke="#c8641e" stroke-width="0.8"/>
<path d="M311.9,70.8 Q311.1,71.7 309.4,72.7" fill="none" stroke="#c8641e" stroke-width="1.0"/>
<path d="M301.5,53.6 Q303.2,56.1 301.1,57.2" fill="none" stroke="#e8a058" stroke-width="0.7"/>
<path d="M294.6,29.7 Q293.5,25.5 295.8,24.5" fill="none" stroke="#e49040" stroke-width="0.7"/>
<path d="M312.6,31.3 Q314.4,31.0 316.8,30.9" fill="none" stroke="#e49040" stroke-width="0.7"/>
<path d="M320.6,14.6 Q323.4,12.6 324.0,9.7" fill="none" stroke="#d87a30" stroke-width="0.6"/>
<path d="M344.9,30.8 Q346.0,31.1 348.4,34.5" fill="none" stroke="#9a3e0c" stroke-width="0.9"/>
<path d="M318.6,10.6 Q318.5,13.6 321.8,13.2" fill="none" stroke="#9a3e0c" stroke-width="0.7"/>
<path d="M344.0,53.3 Q342.2,53.8 339.6,50.5" fill="none" stroke="#d87a30" stroke-width="0.6"/>
<path d="M316.5,18.0 Q313.6,18.0 313.6,18.0" fill="none" stroke="#c8641e" stroke-width="0.7"/>
<path d="M301.5,14.9 Q299.8,12.1 298.8,11.1" fill="none" stroke="#d87a30" stroke-width="0.8"/>
<path d="M314.2,44.2 Q316.3,44.0 318.8,43.9" fill="none" stroke="#a8460e" stroke-width="0.7"/>
<path d="M323.3,70.1 Q323.0,69.2 323.3,65.2" fill="none" stroke="#9a3e0c" stroke-width="0.5"/>
<path d="M289.6,32.9 Q290.7,37.2 291.5,37.9" fill="none" stroke="#d87a30" stroke-width="0.7"/>
<path d="M305.6,16.9 Q303.1,19.2 303.6,20.2" fill="none" stroke="#d87a30" stroke-width="0.5"/>
<path d="M326.3,29.6 Q328.2,29.1 330.7,26.0" fill="none" stroke="#a8460e" stroke-width="0.7"/>
</g>
</g>
<text x="319.00" y="40.60" font-size="11.5" text-anchor="middle" font-weight="bold" fill="#000" stroke="#000" stroke-width="0.25">Coir</text>
<clipPath id="cj2"><rect x="374.1" y="2.5" width="80.9" height="74"/></clipPath>
<g clip-path="url(#cj2)">
<rect x="374.1" y="2.5" width="80.9" height="74" fill="#d9dbe0"/>
<g filter="url(#b05)">
<path d="M377,42 C382,32 390,22 402,13 C410,9 420,10 430,14 C440,18 450,22 456,26 L456,77 L394,77 C392,66 388,56 377,42 Z" fill="url(#gj2)"/>
<path d="M382.5,45.0 C393.9,26.2 425.0,26.8 457,42.2" fill="none" stroke="#c9a06a" stroke-width="0.8" opacity="0.85"/>
<path d="M384.9,49.8 C395.5,37.6 425.0,40.3 457,53.9" fill="none" stroke="#f2e0bc" stroke-width="0.9" opacity="0.85"/>
<path d="M386.9,49.4 C395.3,36.2 425.0,38.7 457,51.7" fill="none" stroke="#ecd6ae" stroke-width="1.3" opacity="0.85"/>
<path d="M390.7,56.3 C397.7,53.7 425.0,59.3 457,71.5" fill="none" stroke="#f2e0bc" stroke-width="1.2" opacity="0.85"/>
<path d="M379.2,41.9 C392.8,17.9 425.0,16.9 457,31.1" fill="none" stroke="#b88e58" stroke-width="1.4" opacity="0.85"/>
<path d="M381.5,43.0 C393.1,20.0 425.0,19.4 457,32.8" fill="none" stroke="#f2e0bc" stroke-width="1.3" opacity="0.85"/>
<path d="M384.6,51.9 C395.4,36.8 425.0,39.3 457,53.0" fill="none" stroke="#f2e0bc" stroke-width="1.0" opacity="0.85"/>
<path d="M385.5,50.5 C395.5,37.8 425.0,40.4 457,53.3" fill="none" stroke="#b88e58" stroke-width="1.4" opacity="0.85"/>
<path d="M380.1,44.0 C392.5,15.6 425.0,14.3 457,29.8" fill="none" stroke="#dcbc8c" stroke-width="1.0" opacity="0.85"/>
<path d="M390.8,57.3 C397.9,55.1 425.0,61.0 457,73.5" fill="none" stroke="#ecd6ae" stroke-width="1.5" opacity="0.85"/>
<path d="M382.4,48.8 C394.5,30.6 425.0,31.9 457,47.0" fill="none" stroke="#d2aa74" stroke-width="1.4" opacity="0.85"/>
<path d="M383.5,47.4 C394.0,27.0 425.0,27.7 457,41.9" fill="none" stroke="#dcbc8c" stroke-width="1.5" opacity="0.85"/>
<path d="M391.1,56.3 C397.7,53.6 425.0,59.1 457,72.9" fill="none" stroke="#b88e58" stroke-width="1.0" opacity="0.85"/>
<path d="M387.2,50.5 C395.5,37.4 425.0,40.1 457,53.6" fill="none" stroke="#d2aa74" stroke-width="1.3" opacity="0.85"/>
<path d="M378.7,41.8 C392.1,13.0 425.0,11.2 457,26.1" fill="none" stroke="#b88e58" stroke-width="0.9" opacity="0.85"/>
<path d="M381.4,45.7 C393.7,24.6 425.0,24.9 457,40.5" fill="none" stroke="#d2aa74" stroke-width="0.8" opacity="0.85"/>
<path d="M383.5,47.6 C394.7,31.8 425.0,33.4 457,47.3" fill="none" stroke="#f2e0bc" stroke-width="1.2" opacity="0.85"/>
<path d="M388.2,53.2 C396.2,43.1 425.0,46.7 457,59.5" fill="none" stroke="#dcbc8c" stroke-width="0.8" opacity="0.85"/>
<path d="M379.7,43.7 C392.9,18.7 425.0,17.9 457,32.8" fill="none" stroke="#d2aa74" stroke-width="0.9" opacity="0.85"/>
<path d="M379.2,41.5 C392.0,12.2 425.0,10.2 457,24.7" fill="none" stroke="#b88e58" stroke-width="0.8" opacity="0.85"/>
<path d="M389.9,57.4 C397.2,49.8 425.0,54.7 457,67.8" fill="none" stroke="#f2e0bc" stroke-width="1.5" opacity="0.85"/>
<path d="M391.6,57.7 C397.7,53.9 425.0,59.5 457,72.3" fill="none" stroke="#d2aa74" stroke-width="0.8" opacity="0.85"/>
<path d="M385.4,54.4 C395.8,39.9 425.0,43.0 457,56.5" fill="none" stroke="#ecd6ae" stroke-width="0.8" opacity="0.85"/>
<path d="M384.2,50.4 C395.6,38.4 425.0,41.2 457,53.8" fill="none" stroke="#ecd6ae" stroke-width="1.0" opacity="0.85"/>
<path d="M379.8,40.1 C392.2,13.1 425.0,11.3 457,25.5" fill="none" stroke="#c9a06a" stroke-width="1.0" opacity="0.85"/>
<path d="M381.8,47.5 C394.2,28.0 425.0,28.9 457,44.6" fill="none" stroke="#ecd6ae" stroke-width="1.1" opacity="0.85"/>
<path d="M381.2,46.0 C393.9,25.7 425.0,26.2 457,39.9" fill="none" stroke="#c9a06a" stroke-width="1.4" opacity="0.85"/>
<path d="M379.8,45.7 C393.0,19.1 425.0,18.4 457,32.7" fill="none" stroke="#ecd6ae" stroke-width="1.3" opacity="0.85"/>
<path d="M389.2,58.0 C397.5,52.2 425.0,57.5 457,69.5" fill="none" stroke="#f2e0bc" stroke-width="1.5" opacity="0.85"/>
<path d="M384.6,49.2 C395.1,34.8 425.0,37.0 457,51.0" fill="none" stroke="#c9a06a" stroke-width="1.2" opacity="0.85"/>
<path d="M387.9,54.4 C395.8,40.0 425.0,43.1 457,57.9" fill="none" stroke="#f2e0bc" stroke-width="1.4" opacity="0.85"/>
<path d="M390.0,54.5 C396.9,48.0 425.0,52.6 457,65.9" fill="none" stroke="#d2aa74" stroke-width="1.4" opacity="0.85"/>
<path d="M390.8,57.6 C397.9,55.5 425.0,61.5 457,74.8" fill="none" stroke="#dcbc8c" stroke-width="1.0" opacity="0.85"/>
<path d="M390.7,57.4 C396.9,47.6 425.0,52.0 457,65.0" fill="none" stroke="#d2aa74" stroke-width="0.9" opacity="0.85"/>
<path d="M381.1,45.0 C393.4,22.0 425.0,21.8 457,37.8" fill="none" stroke="#c9a06a" stroke-width="1.2" opacity="0.85"/>
<path d="M378.4,41.6 C392.0,12.1 425.0,10.1 457,26.1" fill="none" stroke="#d2aa74" stroke-width="0.8" opacity="0.85"/>
<path d="M384.7,47.9 C394.3,29.1 425.0,30.2 457,43.5" fill="none" stroke="#d2aa74" stroke-width="1.4" opacity="0.85"/>
<path d="M382.6,46.6 C394.0,26.6 425.0,27.3 457,43.0" fill="none" stroke="#d2aa74" stroke-width="1.4" opacity="0.85"/>
<path d="M379.2,44.4 C393.0,19.5 425.0,18.8 457,33.4" fill="none" stroke="#c9a06a" stroke-width="1.3" opacity="0.85"/>
<path d="M388.3,52.6 C395.7,38.9 425.0,41.8 457,55.1" fill="none" stroke="#f2e0bc" stroke-width="1.2" opacity="0.85"/>
<path d="M400,66 C420,61 440,62 456,65 L456,77 L403,77 Z" fill="#e3cfae" opacity="0.6"/>
<path d="M396.0,60.0 C410,53.0 435,54.0 457,56.7" fill="none" stroke="#cfa878" stroke-width="1.0" opacity="0.8"/>
<path d="M396.8,61.6 C410,54.6 435,55.6 457,59.0" fill="none" stroke="#cfa878" stroke-width="0.8" opacity="0.8"/>
<path d="M397.6,63.2 C410,56.2 435,57.2 457,60.8" fill="none" stroke="#cfa878" stroke-width="1.1" opacity="0.8"/>
<path d="M398.4,64.8 C410,57.8 435,58.8 457,62.1" fill="none" stroke="#f0e0c0" stroke-width="1.0" opacity="0.8"/>
<path d="M399.2,66.4 C410,59.4 435,60.4 457,63.2" fill="none" stroke="#f0e0c0" stroke-width="1.1" opacity="0.8"/>
<path d="M400.0,68.0 C410,61.0 435,62.0 457,64.2" fill="none" stroke="#f0e0c0" stroke-width="0.9" opacity="0.8"/>
<path d="M400.8,69.6 C410,62.6 435,63.6 457,67.0" fill="none" stroke="#e8d2aa" stroke-width="1.1" opacity="0.8"/>
<path d="M401.6,71.2 C410,64.2 435,65.2 457,69.0" fill="none" stroke="#f0e0c0" stroke-width="1.0" opacity="0.8"/>
<path d="M402.4,72.8 C410,65.8 435,66.8 457,70.1" fill="none" stroke="#e8d2aa" stroke-width="0.8" opacity="0.8"/>
<path d="M403.2,74.4 C410,67.4 435,68.4 457,71.2" fill="none" stroke="#e8d2aa" stroke-width="1.3" opacity="0.8"/>
<path d="M404.0,76.0 C410,69.0 435,70.0 457,73.3" fill="none" stroke="#e8d2aa" stroke-width="0.9" opacity="0.8"/>
<path d="M404.8,77.6 C410,70.6 435,71.6 457,74.6" fill="none" stroke="#e8d2aa" stroke-width="1.2" opacity="0.8"/>
<path d="M405.6,79.2 C410,72.2 435,73.2 457,76.4" fill="none" stroke="#cfa878" stroke-width="0.8" opacity="0.8"/>
<path d="M406.4,80.8 C410,73.8 435,74.8 457,77.9" fill="none" stroke="#e8d2aa" stroke-width="0.7" opacity="0.8"/>
<path d="M378,44 C383,47 386,50 388,56" fill="none" stroke="#eee0c4" stroke-width="1.5"/>
<path d="M392,34 Q382.5,42.0 377,46" fill="none" stroke="#e6d2ac" stroke-width="1.1"/>
<path d="M394,40 Q384.0,48.0 378,52" fill="none" stroke="#d8b888" stroke-width="1.1"/>
<path d="M396,46 Q386.5,55.0 381,60" fill="none" stroke="#e2c8a0" stroke-width="1.1"/>
<path d="M398,50 Q390.0,60.0 386,66" fill="none" stroke="#ccaa7a" stroke-width="1.1"/>
<path d="M400,56 Q394.0,66.0 392,72" fill="none" stroke="#e8d4b0" stroke-width="1.1"/>
<path d="M393,30 Q382.5,36.0 376,38" fill="none" stroke="#dcc096" stroke-width="1.1"/>
</g>
</g>
<text x="413.80" y="40.60" font-size="11.5" text-anchor="middle" font-weight="bold" fill="#000" stroke="#000" stroke-width="0.25">Jute</text>
<clipPath id="cpe"><rect x="465.8" y="2" width="81.1" height="74.4"/></clipPath>
<g clip-path="url(#cpe)">
<rect x="465.8" y="2" width="81.1" height="74.4" fill="#8b8a88"/>
<g filter="url(#b05)">
<circle cx="484.5" cy="43.5" r="3.9" fill="#b4c8d3" stroke="#8fa3ad" stroke-width="0.7"/>
<circle cx="483.8" cy="42.8" r="2.1" fill="#d2e2ea" opacity="0.85"/>
<circle cx="515.9" cy="50.1" r="3.9" fill="#b4c8d3" stroke="#8fa3ad" stroke-width="0.7"/>
<circle cx="515.2" cy="49.4" r="2.1" fill="#d2e2ea" opacity="0.85"/>
<circle cx="465.1" cy="67.0" r="3.9" fill="#b4c8d3" stroke="#8fa3ad" stroke-width="0.7"/>
<circle cx="464.4" cy="66.3" r="2.1" fill="#d2e2ea" opacity="0.85"/>
<circle cx="535.9" cy="38.1" r="3.9" fill="#b4c8d3" stroke="#8fa3ad" stroke-width="0.7"/>
<circle cx="535.2" cy="37.4" r="2.1" fill="#d2e2ea" opacity="0.85"/>
<circle cx="509.0" cy="59.3" r="3.9" fill="#b4c8d3" stroke="#8fa3ad" stroke-width="0.7"/>
<circle cx="508.3" cy="58.6" r="2.1" fill="#d2e2ea" opacity="0.85"/>
<circle cx="489.9" cy="2.5" r="3.9" fill="#b4c8d3" stroke="#8fa3ad" stroke-width="0.7"/>
<circle cx="489.2" cy="1.8" r="2.1" fill="#d2e2ea" opacity="0.85"/>
<circle cx="525.4" cy="73.7" r="3.9" fill="#b4c8d3" stroke="#8fa3ad" stroke-width="0.7"/>
<circle cx="524.7" cy="73.0" r="2.1" fill="#d2e2ea" opacity="0.85"/>
<circle cx="539.6" cy="7.8" r="3.9" fill="#b4c8d3" stroke="#8fa3ad" stroke-width="0.7"/>
<circle cx="538.9" cy="7.1" r="2.1" fill="#d2e2ea" opacity="0.85"/>
<circle cx="482.7" cy="77.2" r="3.9" fill="#b4c8d3" stroke="#8fa3ad" stroke-width="0.7"/>
<circle cx="482.0" cy="76.5" r="2.1" fill="#d2e2ea" opacity="0.85"/>
<circle cx="517.9" cy="24.1" r="3.9" fill="#b4c8d3" stroke="#8fa3ad" stroke-width="0.7"/>
<circle cx="517.2" cy="23.4" r="2.1" fill="#d2e2ea" opacity="0.85"/>
<circle cx="497.2" cy="28.1" r="3.9" fill="#b4c8d3" stroke="#8fa3ad" stroke-width="0.7"/>
<circle cx="496.5" cy="27.4" r="2.1" fill="#d2e2ea" opacity="0.85"/>
<circle cx="514.2" cy="72.3" r="3.9" fill="#b4c8d3" stroke="#8fa3ad" stroke-width="0.7"/>
<circle cx="513.5" cy="71.6" r="2.1" fill="#d2e2ea" opacity="0.85"/>
<circle cx="543.9" cy="68.5" r="3.9" fill="#b4c8d3" stroke="#8fa3ad" stroke-width="0.7"/>
<circle cx="543.2" cy="67.8" r="2.1" fill="#d2e2ea" opacity="0.85"/>
<circle cx="521.7" cy="13.0" r="3.9" fill="#b4c8d3" stroke="#8fa3ad" stroke-width="0.7"/>
<circle cx="521.0" cy="12.3" r="2.1" fill="#d2e2ea" opacity="0.85"/>
<circle cx="537.4" cy="79.2" r="3.9" fill="#b4c8d3" stroke="#8fa3ad" stroke-width="0.7"/>
<circle cx="536.7" cy="78.5" r="2.1" fill="#d2e2ea" opacity="0.85"/>
<circle cx="489.3" cy="61.5" r="3.9" fill="#b4c8d3" stroke="#8fa3ad" stroke-width="0.7"/>
<circle cx="488.6" cy="60.8" r="2.1" fill="#d2e2ea" opacity="0.85"/>
<circle cx="467.8" cy="49.2" r="3.9" fill="#b4c8d3" stroke="#8fa3ad" stroke-width="0.7"/>
<circle cx="467.1" cy="48.5" r="2.1" fill="#d2e2ea" opacity="0.85"/>
<circle cx="525.8" cy="26.5" r="3.9" fill="#b4c8d3" stroke="#8fa3ad" stroke-width="0.7"/>
<circle cx="525.1" cy="25.8" r="2.1" fill="#d2e2ea" opacity="0.85"/>
<circle cx="548.3" cy="40.4" r="3.9" fill="#b4c8d3" stroke="#8fa3ad" stroke-width="0.7"/>
<circle cx="547.6" cy="39.7" r="2.1" fill="#d2e2ea" opacity="0.85"/>
<circle cx="538.6" cy="25.1" r="3.9" fill="#b4c8d3" stroke="#8fa3ad" stroke-width="0.7"/>
<circle cx="537.9" cy="24.4" r="2.1" fill="#d2e2ea" opacity="0.85"/>
<circle cx="508.7" cy="51.5" r="3.9" fill="#b4c8d3" stroke="#8fa3ad" stroke-width="0.7"/>
<circle cx="508.0" cy="50.8" r="2.1" fill="#d2e2ea" opacity="0.85"/>
<circle cx="507.6" cy="34.5" r="3.9" fill="#b4c8d3" stroke="#8fa3ad" stroke-width="0.7"/>
<circle cx="506.9" cy="33.8" r="2.1" fill="#d2e2ea" opacity="0.85"/>
<circle cx="484.4" cy="24.1" r="3.9" fill="#b4c8d3" stroke="#8fa3ad" stroke-width="0.7"/>
<circle cx="483.7" cy="23.4" r="2.1" fill="#d2e2ea" opacity="0.85"/>
<circle cx="508.8" cy="43.9" r="3.9" fill="#b4c8d3" stroke="#8fa3ad" stroke-width="0.7"/>
<circle cx="508.1" cy="43.2" r="2.1" fill="#d2e2ea" opacity="0.85"/>
<circle cx="499.7" cy="46.4" r="3.9" fill="#b4c8d3" stroke="#8fa3ad" stroke-width="0.7"/>
<circle cx="499.0" cy="45.7" r="2.1" fill="#d2e2ea" opacity="0.85"/>
<circle cx="518.0" cy="37.3" r="3.9" fill="#b4c8d3" stroke="#8fa3ad" stroke-width="0.7"/>
<circle cx="517.3" cy="36.6" r="2.1" fill="#d2e2ea" opacity="0.85"/>
<circle cx="494.3" cy="56.6" r="3.9" fill="#b4c8d3" stroke="#8fa3ad" stroke-width="0.7"/>
<circle cx="493.6" cy="55.9" r="2.1" fill="#d2e2ea" opacity="0.85"/>
<circle cx="546.8" cy="20.1" r="3.9" fill="#b4c8d3" stroke="#8fa3ad" stroke-width="0.7"/>
<circle cx="546.1" cy="19.4" r="2.1" fill="#d2e2ea" opacity="0.85"/>
<circle cx="489.8" cy="30.2" r="3.9" fill="#b4c8d3" stroke="#8fa3ad" stroke-width="0.7"/>
<circle cx="489.1" cy="29.5" r="2.1" fill="#d2e2ea" opacity="0.85"/>
<circle cx="490.7" cy="17.8" r="3.9" fill="#b4c8d3" stroke="#8fa3ad" stroke-width="0.7"/>
<circle cx="490.0" cy="17.1" r="2.1" fill="#d2e2ea" opacity="0.85"/>
<circle cx="519.2" cy="64.5" r="3.9" fill="#b4c8d3" stroke="#8fa3ad" stroke-width="0.7"/>
<circle cx="518.5" cy="63.8" r="2.1" fill="#d2e2ea" opacity="0.85"/>
<circle cx="475.2" cy="23.4" r="3.9" fill="#b4c8d3" stroke="#8fa3ad" stroke-width="0.7"/>
<circle cx="474.5" cy="22.7" r="2.1" fill="#d2e2ea" opacity="0.85"/>
<circle cx="528.1" cy="66.9" r="3.9" fill="#b4c8d3" stroke="#8fa3ad" stroke-width="0.7"/>
<circle cx="527.4" cy="66.2" r="2.1" fill="#d2e2ea" opacity="0.85"/>
<circle cx="508.6" cy="23.1" r="3.9" fill="#b4c8d3" stroke="#8fa3ad" stroke-width="0.7"/>
<circle cx="507.9" cy="22.4" r="2.1" fill="#d2e2ea" opacity="0.85"/>
<circle cx="541.7" cy="55.5" r="3.9" fill="#b4c8d3" stroke="#8fa3ad" stroke-width="0.7"/>
<circle cx="541.0" cy="54.8" r="2.1" fill="#d2e2ea" opacity="0.85"/>
<circle cx="465.1" cy="59.6" r="3.9" fill="#b4c8d3" stroke="#8fa3ad" stroke-width="0.7"/>
<circle cx="464.4" cy="58.9" r="2.1" fill="#d2e2ea" opacity="0.85"/>
<circle cx="500.4" cy="37.8" r="3.9" fill="#b4c8d3" stroke="#8fa3ad" stroke-width="0.7"/>
<circle cx="499.7" cy="37.1" r="2.1" fill="#d2e2ea" opacity="0.85"/>
<circle cx="464.2" cy="4.4" r="3.9" fill="#b4c8d3" stroke="#8fa3ad" stroke-width="0.7"/>
<circle cx="463.5" cy="3.7" r="2.1" fill="#d2e2ea" opacity="0.85"/>
<circle cx="532.9" cy="49.8" r="3.9" fill="#b4c8d3" stroke="#8fa3ad" stroke-width="0.7"/>
<circle cx="532.2" cy="49.1" r="2.1" fill="#d2e2ea" opacity="0.85"/>
<circle cx="470.2" cy="34.0" r="3.9" fill="#b4c8d3" stroke="#8fa3ad" stroke-width="0.7"/>
<circle cx="469.5" cy="33.3" r="2.1" fill="#d2e2ea" opacity="0.85"/>
<circle cx="503.9" cy="9.9" r="3.9" fill="#b4c8d3" stroke="#8fa3ad" stroke-width="0.7"/>
<circle cx="503.2" cy="9.2" r="2.1" fill="#d2e2ea" opacity="0.85"/>
<circle cx="476.3" cy="61.9" r="3.9" fill="#b4c8d3" stroke="#8fa3ad" stroke-width="0.7"/>
<circle cx="475.6" cy="61.2" r="2.1" fill="#d2e2ea" opacity="0.85"/>
<circle cx="532.7" cy="2.9" r="3.9" fill="#b4c8d3" stroke="#8fa3ad" stroke-width="0.7"/>
<circle cx="532.0" cy="2.2" r="2.1" fill="#d2e2ea" opacity="0.85"/>
<circle cx="491.9" cy="45.1" r="3.9" fill="#b4c8d3" stroke="#8fa3ad" stroke-width="0.7"/>
<circle cx="491.2" cy="44.4" r="2.1" fill="#d2e2ea" opacity="0.85"/>
<circle cx="547.7" cy="33.0" r="3.9" fill="#b4c8d3" stroke="#8fa3ad" stroke-width="0.7"/>
<circle cx="547.0" cy="32.3" r="2.1" fill="#d2e2ea" opacity="0.85"/>
<circle cx="530.6" cy="11.5" r="3.9" fill="#b4c8d3" stroke="#8fa3ad" stroke-width="0.7"/>
<circle cx="529.9" cy="10.8" r="2.1" fill="#d2e2ea" opacity="0.85"/>
<circle cx="535.8" cy="65.7" r="3.9" fill="#b4c8d3" stroke="#8fa3ad" stroke-width="0.7"/>
<circle cx="535.1" cy="65.0" r="2.1" fill="#d2e2ea" opacity="0.85"/>
<circle cx="525.7" cy="54.0" r="3.9" fill="#b4c8d3" stroke="#8fa3ad" stroke-width="0.7"/>
<circle cx="525.0" cy="53.3" r="2.1" fill="#d2e2ea" opacity="0.85"/>
<circle cx="487.6" cy="53.2" r="3.9" fill="#b4c8d3" stroke="#8fa3ad" stroke-width="0.7"/>
<circle cx="486.9" cy="52.5" r="2.1" fill="#d2e2ea" opacity="0.85"/>
<circle cx="512.7" cy="14.6" r="3.9" fill="#b4c8d3" stroke="#8fa3ad" stroke-width="0.7"/>
<circle cx="512.0" cy="13.9" r="2.1" fill="#d2e2ea" opacity="0.85"/>
<circle cx="494.3" cy="67.8" r="3.9" fill="#b4c8d3" stroke="#8fa3ad" stroke-width="0.7"/>
<circle cx="493.6" cy="67.1" r="2.1" fill="#d2e2ea" opacity="0.85"/>
<circle cx="480.3" cy="33.3" r="3.9" fill="#b4c8d3" stroke="#8fa3ad" stroke-width="0.7"/>
<circle cx="479.6" cy="32.6" r="2.1" fill="#d2e2ea" opacity="0.85"/>
<circle cx="518.5" cy="78.2" r="3.9" fill="#b4c8d3" stroke="#8fa3ad" stroke-width="0.7"/>
<circle cx="517.8" cy="77.5" r="2.1" fill="#d2e2ea" opacity="0.85"/>
<circle cx="509.5" cy="3.0" r="3.9" fill="#b4c8d3" stroke="#8fa3ad" stroke-width="0.7"/>
<circle cx="508.8" cy="2.3" r="2.1" fill="#d2e2ea" opacity="0.85"/>
<circle cx="501.6" cy="60.5" r="3.9" fill="#b4c8d3" stroke="#8fa3ad" stroke-width="0.7"/>
<circle cx="500.9" cy="59.8" r="2.1" fill="#d2e2ea" opacity="0.85"/>
<circle cx="473.4" cy="3.4" r="3.9" fill="#b4c8d3" stroke="#8fa3ad" stroke-width="0.7"/>
<circle cx="472.7" cy="2.7" r="2.1" fill="#d2e2ea" opacity="0.85"/>
<circle cx="524.1" cy="43.0" r="3.9" fill="#b4c8d3" stroke="#8fa3ad" stroke-width="0.7"/>
<circle cx="523.4" cy="42.3" r="2.1" fill="#d2e2ea" opacity="0.85"/>
<circle cx="483.3" cy="0.2" r="3.9" fill="#b4c8d3" stroke="#8fa3ad" stroke-width="0.7"/>
<circle cx="482.6" cy="-0.5" r="2.1" fill="#d2e2ea" opacity="0.85"/>
<circle cx="480.8" cy="16.7" r="3.9" fill="#b4c8d3" stroke="#8fa3ad" stroke-width="0.7"/>
<circle cx="480.1" cy="16.0" r="2.1" fill="#d2e2ea" opacity="0.85"/>
<circle cx="493.8" cy="9.9" r="3.9" fill="#b4c8d3" stroke="#8fa3ad" stroke-width="0.7"/>
<circle cx="493.1" cy="9.2" r="2.1" fill="#d2e2ea" opacity="0.85"/>
<circle cx="504.0" cy="74.6" r="3.9" fill="#b4c8d3" stroke="#8fa3ad" stroke-width="0.7"/>
<circle cx="503.3" cy="73.9" r="2.1" fill="#d2e2ea" opacity="0.85"/>
<circle cx="499.7" cy="18.4" r="3.9" fill="#b4c8d3" stroke="#8fa3ad" stroke-width="0.7"/>
<circle cx="499.0" cy="17.7" r="2.1" fill="#d2e2ea" opacity="0.85"/>
<circle cx="525.1" cy="1.8" r="3.9" fill="#b4c8d3" stroke="#8fa3ad" stroke-width="0.7"/>
<circle cx="524.4" cy="1.1" r="2.1" fill="#d2e2ea" opacity="0.85"/>
<circle cx="527.2" cy="33.8" r="3.9" fill="#b4c8d3" stroke="#8fa3ad" stroke-width="0.7"/>
<circle cx="526.5" cy="33.1" r="2.1" fill="#d2e2ea" opacity="0.85"/>
<circle cx="471.2" cy="17.4" r="3.9" fill="#b4c8d3" stroke="#8fa3ad" stroke-width="0.7"/>
<circle cx="470.5" cy="16.7" r="2.1" fill="#d2e2ea" opacity="0.85"/>
<circle cx="548.8" cy="49.0" r="3.9" fill="#b4c8d3" stroke="#8fa3ad" stroke-width="0.7"/>
<circle cx="548.1" cy="48.3" r="2.1" fill="#d2e2ea" opacity="0.85"/>
<circle cx="548.0" cy="78.4" r="3.9" fill="#b4c8d3" stroke="#8fa3ad" stroke-width="0.7"/>
<circle cx="547.3" cy="77.7" r="2.1" fill="#d2e2ea" opacity="0.85"/>
<circle cx="548.2" cy="62.8" r="3.9" fill="#b4c8d3" stroke="#8fa3ad" stroke-width="0.7"/>
<circle cx="547.5" cy="62.1" r="2.1" fill="#d2e2ea" opacity="0.85"/>
<circle cx="533.5" cy="19.8" r="3.9" fill="#b4c8d3" stroke="#8fa3ad" stroke-width="0.7"/>
<circle cx="532.8" cy="19.1" r="2.1" fill="#d2e2ea" opacity="0.85"/>
<circle cx="516.7" cy="2.4" r="3.9" fill="#b4c8d3" stroke="#8fa3ad" stroke-width="0.7"/>
<circle cx="516.0" cy="1.7" r="2.1" fill="#d2e2ea" opacity="0.85"/>
<circle cx="470.8" cy="42.1" r="3.9" fill="#b4c8d3" stroke="#8fa3ad" stroke-width="0.7"/>
<circle cx="470.1" cy="41.4" r="2.1" fill="#d2e2ea" opacity="0.85"/>
<circle cx="464.5" cy="22.6" r="3.9" fill="#b4c8d3" stroke="#8fa3ad" stroke-width="0.7"/>
<circle cx="463.8" cy="21.9" r="2.1" fill="#d2e2ea" opacity="0.85"/>
<circle cx="540.0" cy="16.2" r="3.9" fill="#b4c8d3" stroke="#8fa3ad" stroke-width="0.7"/>
<circle cx="539.3" cy="15.5" r="2.1" fill="#d2e2ea" opacity="0.85"/>
<circle cx="480.7" cy="69.7" r="3.9" fill="#b4c8d3" stroke="#8fa3ad" stroke-width="0.7"/>
<circle cx="480.0" cy="69.0" r="2.1" fill="#d2e2ea" opacity="0.85"/>
<circle cx="510.6" cy="79.1" r="3.9" fill="#b4c8d3" stroke="#8fa3ad" stroke-width="0.7"/>
<circle cx="509.9" cy="78.4" r="2.1" fill="#d2e2ea" opacity="0.85"/>
<circle cx="478.2" cy="53.4" r="3.9" fill="#b4c8d3" stroke="#8fa3ad" stroke-width="0.7"/>
<circle cx="477.5" cy="52.7" r="2.1" fill="#d2e2ea" opacity="0.85"/>
<circle cx="547.5" cy="8.1" r="3.9" fill="#b4c8d3" stroke="#8fa3ad" stroke-width="0.7"/>
<circle cx="546.8" cy="7.4" r="2.1" fill="#d2e2ea" opacity="0.85"/>
<circle cx="499.6" cy="0.9" r="3.9" fill="#b4c8d3" stroke="#8fa3ad" stroke-width="0.7"/>
<circle cx="498.9" cy="0.2" r="2.1" fill="#d2e2ea" opacity="0.85"/>
<circle cx="490.2" cy="37.8" r="3.9" fill="#b4c8d3" stroke="#8fa3ad" stroke-width="0.7"/>
<circle cx="489.5" cy="37.1" r="2.1" fill="#d2e2ea" opacity="0.85"/>
<circle cx="471.6" cy="77.1" r="3.9" fill="#b4c8d3" stroke="#8fa3ad" stroke-width="0.7"/>
<circle cx="470.9" cy="76.4" r="2.1" fill="#d2e2ea" opacity="0.85"/>
<circle cx="540.0" cy="45.2" r="3.9" fill="#b4c8d3" stroke="#8fa3ad" stroke-width="0.7"/>
<circle cx="539.3" cy="44.5" r="2.1" fill="#d2e2ea" opacity="0.85"/>
<circle cx="547.6" cy="0.1" r="3.9" fill="#b4c8d3" stroke="#8fa3ad" stroke-width="0.7"/>
<circle cx="546.9" cy="-0.6" r="2.1" fill="#d2e2ea" opacity="0.85"/>
<circle cx="464.4" cy="76.8" r="3.9" fill="#b4c8d3" stroke="#8fa3ad" stroke-width="0.7"/>
<circle cx="463.7" cy="76.1" r="2.1" fill="#d2e2ea" opacity="0.85"/>
<circle cx="534.5" cy="56.9" r="3.9" fill="#b4c8d3" stroke="#8fa3ad" stroke-width="0.7"/>
<circle cx="533.8" cy="56.2" r="2.1" fill="#d2e2ea" opacity="0.85"/>
<circle cx="514.5" cy="31.0" r="3.9" fill="#b4c8d3" stroke="#8fa3ad" stroke-width="0.7"/>
<circle cx="513.8" cy="30.3" r="2.1" fill="#d2e2ea" opacity="0.85"/>
<circle cx="491.6" cy="77.3" r="3.9" fill="#b4c8d3" stroke="#8fa3ad" stroke-width="0.7"/>
<circle cx="490.9" cy="76.6" r="2.1" fill="#d2e2ea" opacity="0.85"/>
<circle cx="512.2" cy="65.5" r="3.9" fill="#b4c8d3" stroke="#8fa3ad" stroke-width="0.7"/>
<circle cx="511.5" cy="64.8" r="2.1" fill="#d2e2ea" opacity="0.85"/>
<circle cx="516.7" cy="57.6" r="3.9" fill="#b4c8d3" stroke="#8fa3ad" stroke-width="0.7"/>
<circle cx="516.0" cy="56.9" r="2.1" fill="#d2e2ea" opacity="0.85"/>
<circle cx="482.6" cy="7.7" r="3.9" fill="#b4c8d3" stroke="#8fa3ad" stroke-width="0.7"/>
<circle cx="481.9" cy="7.0" r="2.1" fill="#d2e2ea" opacity="0.85"/>
<circle cx="532.6" cy="28.9" r="3.9" fill="#b4c8d3" stroke="#8fa3ad" stroke-width="0.7"/>
<circle cx="531.9" cy="28.2" r="2.1" fill="#d2e2ea" opacity="0.85"/>
<circle cx="464.8" cy="14.5" r="3.9" fill="#b4c8d3" stroke="#8fa3ad" stroke-width="0.7"/>
<circle cx="464.1" cy="13.8" r="2.1" fill="#d2e2ea" opacity="0.85"/>
<circle cx="533.8" cy="73.0" r="3.9" fill="#b4c8d3" stroke="#8fa3ad" stroke-width="0.7"/>
<circle cx="533.1" cy="72.3" r="2.1" fill="#d2e2ea" opacity="0.85"/>
<circle cx="473.5" cy="70.1" r="3.9" fill="#b4c8d3" stroke="#8fa3ad" stroke-width="0.7"/>
<circle cx="472.8" cy="69.4" r="2.1" fill="#d2e2ea" opacity="0.85"/>
<circle cx="526.1" cy="18.5" r="3.9" fill="#b4c8d3" stroke="#8fa3ad" stroke-width="0.7"/>
<circle cx="525.4" cy="17.8" r="2.1" fill="#d2e2ea" opacity="0.85"/>
<circle cx="477.8" cy="40.6" r="3.9" fill="#b4c8d3" stroke="#8fa3ad" stroke-width="0.7"/>
<circle cx="477.1" cy="39.9" r="2.1" fill="#d2e2ea" opacity="0.85"/>
<circle cx="502.3" cy="67.8" r="3.9" fill="#b4c8d3" stroke="#8fa3ad" stroke-width="0.7"/>
<circle cx="501.6" cy="67.1" r="2.1" fill="#d2e2ea" opacity="0.85"/>
<circle cx="464.1" cy="38.9" r="3.9" fill="#b4c8d3" stroke="#8fa3ad" stroke-width="0.7"/>
<circle cx="463.4" cy="38.2" r="2.1" fill="#d2e2ea" opacity="0.85"/>
<circle cx="530.3" cy="79.2" r="3.9" fill="#b4c8d3" stroke="#8fa3ad" stroke-width="0.7"/>
<circle cx="529.6" cy="78.5" r="2.1" fill="#d2e2ea" opacity="0.85"/>
<circle cx="540.7" cy="31.8" r="3.9" fill="#b4c8d3" stroke="#8fa3ad" stroke-width="0.7"/>
<circle cx="540.0" cy="31.1" r="2.1" fill="#d2e2ea" opacity="0.85"/>
<circle cx="540.0" cy="0.4" r="3.9" fill="#b4c8d3" stroke="#8fa3ad" stroke-width="0.7"/>
<circle cx="539.3" cy="-0.3" r="2.1" fill="#d2e2ea" opacity="0.85"/>
<circle cx="470.5" cy="9.8" r="3.9" fill="#b4c8d3" stroke="#8fa3ad" stroke-width="0.7"/>
<circle cx="469.8" cy="9.1" r="2.1" fill="#d2e2ea" opacity="0.85"/>
<circle cx="464.2" cy="30.1" r="3.9" fill="#b4c8d3" stroke="#8fa3ad" stroke-width="0.7"/>
<circle cx="463.5" cy="29.4" r="2.1" fill="#d2e2ea" opacity="0.85"/>
<circle cx="471.1" cy="55.5" r="3.9" fill="#b4c8d3" stroke="#8fa3ad" stroke-width="0.7"/>
<circle cx="470.4" cy="54.8" r="2.1" fill="#d2e2ea" opacity="0.85"/>
<circle cx="501.9" cy="53.3" r="3.9" fill="#b4c8d3" stroke="#8fa3ad" stroke-width="0.7"/>
<circle cx="501.2" cy="52.6" r="2.1" fill="#d2e2ea" opacity="0.85"/>
</g>
</g>
<text x="511.30" y="40.30" font-size="11.5" text-anchor="middle" font-weight="bold" fill="#000" stroke="#000" stroke-width="0.25">PE</text>
<defs>
<pattern id="hatch" width="2" height="2" patternUnits="userSpaceOnUse"><rect width="2" height="2" fill="#e0e0e0"/><rect width="1" height="1" fill="#bdbdbd"/><rect x="1" y="1" width="1" height="1" fill="#bdbdbd"/></pattern>
</defs>
<text x="101.30" y="92.50" font-size="10.4" text-anchor="middle" font-weight="bold" fill="#000" >Jute: Wool: PP</text>
<text x="262.90" y="91.80" font-size="10.3" text-anchor="middle" font-weight="bold" fill="#000" >Jute: Coir: PP</text>
<text x="463.10" y="92.50" font-size="10.4" text-anchor="middle" font-weight="bold" fill="#000" >Jute: Coir: PE</text>
<line x1="34.40" y1="166.07" x2="173.00" y2="166.07" stroke="#eaeaea" stroke-width="0.8"/>
<line x1="34.40" y1="138.44" x2="173.00" y2="138.44" stroke="#eaeaea" stroke-width="0.8"/>
<line x1="34.40" y1="110.81" x2="173.00" y2="110.81" stroke="#eaeaea" stroke-width="0.8"/>
<rect x="40.47" y="173.51" width="6.90" height="20.19" fill="#8eb4e3" stroke="#4a6a9c" stroke-width="0.9"/>
<rect x="48.27" y="118.72" width="6.90" height="74.98" fill="#fbc3a2" stroke="#b07858" stroke-width="0.9"/>
<rect x="56.07" y="118.72" width="6.90" height="74.98" fill="url(#hatch)" stroke="#5a5a5a" stroke-width="0.9"/>
<text x="51.72" y="204.50" font-size="9" text-anchor="middle" fill="#404040" dominant-baseline="central">0</text>
<rect x="75.12" y="178.68" width="6.90" height="15.02" fill="#8eb4e3" stroke="#4a6a9c" stroke-width="0.9"/>
<rect x="82.92" y="123.42" width="6.90" height="70.28" fill="#fbc3a2" stroke="#b07858" stroke-width="0.9"/>
<rect x="90.72" y="141.93" width="6.90" height="51.77" fill="url(#hatch)" stroke="#5a5a5a" stroke-width="0.9"/>
<text x="86.38" y="204.50" font-size="9" text-anchor="middle" fill="#404040" dominant-baseline="central">5</text>
<rect x="109.78" y="179.62" width="6.90" height="14.08" fill="#8eb4e3" stroke="#4a6a9c" stroke-width="0.9"/>
<rect x="117.58" y="125.35" width="6.90" height="68.35" fill="#fbc3a2" stroke="#b07858" stroke-width="0.9"/>
<rect x="125.38" y="123.01" width="6.90" height="70.69" fill="url(#hatch)" stroke="#5a5a5a" stroke-width="0.9"/>
<text x="121.03" y="204.50" font-size="9" text-anchor="middle" fill="#404040" dominant-baseline="central">10</text>
<rect x="144.42" y="180.61" width="6.90" height="13.09" fill="#8eb4e3" stroke="#4a6a9c" stroke-width="0.9"/>
<rect x="152.22" y="133.64" width="6.90" height="60.06" fill="#fbc3a2" stroke="#b07858" stroke-width="0.9"/>
<rect x="160.02" y="116.79" width="6.90" height="76.91" fill="url(#hatch)" stroke="#5a5a5a" stroke-width="0.9"/>
<text x="155.67" y="204.50" font-size="9" text-anchor="middle" fill="#404040" dominant-baseline="central">15</text>
<line x1="34.40" y1="188.17" x2="36.40" y2="188.17" stroke="#1a1a1a" stroke-width="0.7"/>
<line x1="34.40" y1="182.65" x2="36.40" y2="182.65" stroke="#1a1a1a" stroke-width="0.7"/>
<line x1="34.40" y1="177.12" x2="36.40" y2="177.12" stroke="#1a1a1a" stroke-width="0.7"/>
<line x1="34.40" y1="171.60" x2="36.40" y2="171.60" stroke="#1a1a1a" stroke-width="0.7"/>
<line x1="34.40" y1="160.55" x2="36.40" y2="160.55" stroke="#1a1a1a" stroke-width="0.7"/>
<line x1="34.40" y1="155.02" x2="36.40" y2="155.02" stroke="#1a1a1a" stroke-width="0.7"/>
<line x1="34.40" y1="149.49" x2="36.40" y2="149.49" stroke="#1a1a1a" stroke-width="0.7"/>
<line x1="34.40" y1="143.97" x2="36.40" y2="143.97" stroke="#1a1a1a" stroke-width="0.7"/>
<line x1="34.40" y1="132.92" x2="36.40" y2="132.92" stroke="#1a1a1a" stroke-width="0.7"/>
<line x1="34.40" y1="127.39" x2="36.40" y2="127.39" stroke="#1a1a1a" stroke-width="0.7"/>
<line x1="34.40" y1="121.87" x2="36.40" y2="121.87" stroke="#1a1a1a" stroke-width="0.7"/>
<line x1="34.40" y1="116.34" x2="36.40" y2="116.34" stroke="#1a1a1a" stroke-width="0.7"/>
<line x1="34.40" y1="105.29" x2="36.40" y2="105.29" stroke="#1a1a1a" stroke-width="0.7"/>
<line x1="34.40" y1="99.76" x2="36.40" y2="99.76" stroke="#1a1a1a" stroke-width="0.7"/>
<line x1="32.00" y1="193.70" x2="34.40" y2="193.70" stroke="#1a1a1a" stroke-width="0.8"/>
<line x1="32.00" y1="166.07" x2="34.40" y2="166.07" stroke="#1a1a1a" stroke-width="0.8"/>
<line x1="32.00" y1="138.44" x2="34.40" y2="138.44" stroke="#1a1a1a" stroke-width="0.8"/>
<line x1="32.00" y1="110.81" x2="34.40" y2="110.81" stroke="#1a1a1a" stroke-width="0.8"/>
<text x="27.00" y="193.70" font-size="9" text-anchor="end" dominant-baseline="central" fill="#404040">0</text>
<text x="27.00" y="166.07" font-size="9" text-anchor="end" dominant-baseline="central" fill="#404040">10</text>
<text x="27.00" y="138.44" font-size="9" text-anchor="end" dominant-baseline="central" fill="#404040">20</text>
<text x="27.00" y="110.81" font-size="9" text-anchor="end" dominant-baseline="central" fill="#404040">30</text>
<rect x="34.40" y="97.00" width="138.60" height="96.70" fill="none" stroke="#1a1a1a" stroke-width="1.3"/>
<rect x="49.40" y="105.80" width="4.8" height="4.8" fill="#8eb4e3" stroke="#4a6a9c" stroke-width="0.7"/>
<text x="56.20" y="108.20" font-size="9" dominant-baseline="central" fill="#404040">JCPE</text>
<rect x="83.90" y="105.80" width="4.8" height="4.8" fill="#fbc3a2" stroke="#b07858" stroke-width="0.7"/>
<text x="90.40" y="108.20" font-size="9" dominant-baseline="central" fill="#404040">JCPP</text>
<rect x="118.20" y="105.80" width="4.8" height="4.8" fill="url(#hatch)" stroke="#5a5a5a" stroke-width="0.7"/>
<text x="124.60" y="108.20" font-size="9" dominant-baseline="central" fill="#404040">JWPP</text>
<text transform="translate(7.10,142.10) rotate(-90)" x="0" y="0" font-size="9.2" text-anchor="middle" dominant-baseline="central" fill="#404040">TS [MPa]</text>
<text x="103.90" y="213.50" font-size="9.2" text-anchor="middle" fill="#404040" dominant-baseline="central">Fiber fraction [%]</text>
<line x1="209.30" y1="179.30" x2="354.20" y2="179.30" stroke="#eaeaea" stroke-width="0.8"/>
<line x1="209.30" y1="163.30" x2="354.20" y2="163.30" stroke="#eaeaea" stroke-width="0.8"/>
<line x1="209.30" y1="147.30" x2="354.20" y2="147.30" stroke="#eaeaea" stroke-width="0.8"/>
<line x1="209.30" y1="131.30" x2="354.20" y2="131.30" stroke="#eaeaea" stroke-width="0.8"/>
<line x1="209.30" y1="115.30" x2="354.20" y2="115.30" stroke="#eaeaea" stroke-width="0.8"/>
<rect x="216.99" y="189.67" width="6.35" height="5.63" fill="#8eb4e3" stroke="#4a6a9c" stroke-width="0.9"/>
<rect x="224.24" y="170.79" width="6.35" height="24.51" fill="#fbc3a2" stroke="#b07858" stroke-width="0.9"/>
<rect x="231.49" y="170.79" width="6.35" height="24.51" fill="url(#hatch)" stroke="#5a5a5a" stroke-width="0.9"/>
<text x="227.41" y="206.50" font-size="9" text-anchor="middle" fill="#404040" dominant-baseline="central">0</text>
<rect x="253.21" y="188.71" width="6.35" height="6.59" fill="#8eb4e3" stroke="#4a6a9c" stroke-width="0.9"/>
<rect x="260.46" y="163.43" width="6.35" height="31.87" fill="#fbc3a2" stroke="#b07858" stroke-width="0.9"/>
<rect x="267.71" y="148.39" width="6.35" height="46.91" fill="url(#hatch)" stroke="#5a5a5a" stroke-width="0.9"/>
<text x="263.64" y="206.50" font-size="9" text-anchor="middle" fill="#404040" dominant-baseline="central">5</text>
<rect x="289.44" y="187.43" width="6.35" height="7.87" fill="#8eb4e3" stroke="#4a6a9c" stroke-width="0.9"/>
<rect x="296.69" y="158.63" width="6.35" height="36.67" fill="#fbc3a2" stroke="#b07858" stroke-width="0.9"/>
<rect x="303.94" y="133.67" width="6.35" height="61.63" fill="url(#hatch)" stroke="#5a5a5a" stroke-width="0.9"/>
<text x="299.86" y="206.50" font-size="9" text-anchor="middle" fill="#404040" dominant-baseline="central">10</text>
<rect x="325.66" y="185.83" width="6.35" height="9.47" fill="#8eb4e3" stroke="#4a6a9c" stroke-width="0.9"/>
<rect x="332.91" y="157.67" width="6.35" height="37.63" fill="#fbc3a2" stroke="#b07858" stroke-width="0.9"/>
<rect x="340.16" y="114.79" width="6.35" height="80.51" fill="url(#hatch)" stroke="#5a5a5a" stroke-width="0.9"/>
<text x="336.09" y="206.50" font-size="9" text-anchor="middle" fill="#404040" dominant-baseline="central">15</text>
<line x1="209.30" y1="192.10" x2="211.30" y2="192.10" stroke="#1a1a1a" stroke-width="0.7"/>
<line x1="209.30" y1="188.90" x2="211.30" y2="188.90" stroke="#1a1a1a" stroke-width="0.7"/>
<line x1="209.30" y1="185.70" x2="211.30" y2="185.70" stroke="#1a1a1a" stroke-width="0.7"/>
<line x1="209.30" y1="182.50" x2="211.30" y2="182.50" stroke="#1a1a1a" stroke-width="0.7"/>
<line x1="209.30" y1="176.10" x2="211.30" y2="176.10" stroke="#1a1a1a" stroke-width="0.7"/>
<line x1="209.30" y1="172.90" x2="211.30" y2="172.90" stroke="#1a1a1a" stroke-width="0.7"/>
<line x1="209.30" y1="169.70" x2="211.30" y2="169.70" stroke="#1a1a1a" stroke-width="0.7"/>
<line x1="209.30" y1="166.50" x2="211.30" y2="166.50" stroke="#1a1a1a" stroke-width="0.7"/>
<line x1="209.30" y1="160.10" x2="211.30" y2="160.10" stroke="#1a1a1a" stroke-width="0.7"/>
<line x1="209.30" y1="156.90" x2="211.30" y2="156.90" stroke="#1a1a1a" stroke-width="0.7"/>
<line x1="209.30" y1="153.70" x2="211.30" y2="153.70" stroke="#1a1a1a" stroke-width="0.7"/>
<line x1="209.30" y1="150.50" x2="211.30" y2="150.50" stroke="#1a1a1a" stroke-width="0.7"/>
<line x1="209.30" y1="144.10" x2="211.30" y2="144.10" stroke="#1a1a1a" stroke-width="0.7"/>
<line x1="209.30" y1="140.90" x2="211.30" y2="140.90" stroke="#1a1a1a" stroke-width="0.7"/>
<line x1="209.30" y1="137.70" x2="211.30" y2="137.70" stroke="#1a1a1a" stroke-width="0.7"/>
<line x1="209.30" y1="134.50" x2="211.30" y2="134.50" stroke="#1a1a1a" stroke-width="0.7"/>
<line x1="209.30" y1="128.10" x2="211.30" y2="128.10" stroke="#1a1a1a" stroke-width="0.7"/>
<line x1="209.30" y1="124.90" x2="211.30" y2="124.90" stroke="#1a1a1a" stroke-width="0.7"/>
<line x1="209.30" y1="121.70" x2="211.30" y2="121.70" stroke="#1a1a1a" stroke-width="0.7"/>
<line x1="209.30" y1="118.50" x2="211.30" y2="118.50" stroke="#1a1a1a" stroke-width="0.7"/>
<line x1="209.30" y1="112.10" x2="211.30" y2="112.10" stroke="#1a1a1a" stroke-width="0.7"/>
<line x1="209.30" y1="108.90" x2="211.30" y2="108.90" stroke="#1a1a1a" stroke-width="0.7"/>
<line x1="209.30" y1="105.70" x2="211.30" y2="105.70" stroke="#1a1a1a" stroke-width="0.7"/>
<line x1="209.30" y1="102.50" x2="211.30" y2="102.50" stroke="#1a1a1a" stroke-width="0.7"/>
<line x1="206.90" y1="195.30" x2="209.30" y2="195.30" stroke="#1a1a1a" stroke-width="0.8"/>
<line x1="206.90" y1="179.30" x2="209.30" y2="179.30" stroke="#1a1a1a" stroke-width="0.8"/>
<line x1="206.90" y1="163.30" x2="209.30" y2="163.30" stroke="#1a1a1a" stroke-width="0.8"/>
<line x1="206.90" y1="147.30" x2="209.30" y2="147.30" stroke="#1a1a1a" stroke-width="0.8"/>
<line x1="206.90" y1="131.30" x2="209.30" y2="131.30" stroke="#1a1a1a" stroke-width="0.8"/>
<line x1="206.90" y1="115.30" x2="209.30" y2="115.30" stroke="#1a1a1a" stroke-width="0.8"/>
<line x1="206.90" y1="99.30" x2="209.30" y2="99.30" stroke="#1a1a1a" stroke-width="0.8"/>
<text x="201.80" y="195.30" font-size="9" text-anchor="end" dominant-baseline="central" fill="#404040">0</text>
<text x="201.80" y="179.30" font-size="9" text-anchor="end" dominant-baseline="central" fill="#404040">0.5</text>
<text x="201.80" y="163.30" font-size="9" text-anchor="end" dominant-baseline="central" fill="#404040">1</text>
<text x="201.80" y="147.30" font-size="9" text-anchor="end" dominant-baseline="central" fill="#404040">1.5</text>
<text x="201.80" y="131.30" font-size="9" text-anchor="end" dominant-baseline="central" fill="#404040">2</text>
<text x="201.80" y="115.30" font-size="9" text-anchor="end" dominant-baseline="central" fill="#404040">2.5</text>
<text x="201.80" y="99.30" font-size="9" text-anchor="end" dominant-baseline="central" fill="#404040">3</text>
<rect x="209.30" y="99.30" width="144.90" height="96.00" fill="none" stroke="#1a1a1a" stroke-width="1.3"/>
<rect x="223.00" y="106.30" width="4.8" height="4.8" fill="#8eb4e3" stroke="#4a6a9c" stroke-width="0.7"/>
<text x="228.00" y="108.70" font-size="8" dominant-baseline="central" fill="#404040">JCPE</text>
<rect x="253.50" y="106.30" width="4.8" height="4.8" fill="#fbc3a2" stroke="#b07858" stroke-width="0.7"/>
<text x="259.80" y="108.70" font-size="8" dominant-baseline="central" fill="#404040">JCPP</text>
<rect x="284.00" y="106.30" width="4.8" height="4.8" fill="url(#hatch)" stroke="#5a5a5a" stroke-width="0.7"/>
<text x="290.20" y="108.70" font-size="8" dominant-baseline="central" fill="#404040">JWPP</text>
<text transform="translate(183.70,147.50) rotate(-90)" x="0" y="0" font-size="9.2" text-anchor="middle" dominant-baseline="central" fill="#404040">TM [GPa]</text>
<text x="281.40" y="214.20" font-size="9.2" text-anchor="middle" fill="#404040" dominant-baseline="central">Fiber fraction [%]</text>
<line x1="399.00" y1="168.72" x2="540.70" y2="168.72" stroke="#eaeaea" stroke-width="0.8"/>
<line x1="399.00" y1="144.75" x2="540.70" y2="144.75" stroke="#eaeaea" stroke-width="0.8"/>
<line x1="399.00" y1="120.77" x2="540.70" y2="120.77" stroke="#eaeaea" stroke-width="0.8"/>
<clipPath id="c3"><rect x="399.00" y="96.80" width="141.70" height="95.90"/></clipPath>
<g clip-path="url(#c3)">
<path d="M399.00,183.59 L434.43,163.21 L469.85,161.53 L505.28,159.13" fill="none" stroke="#2f74c8" stroke-width="1.15"/>
<circle cx="399.00" cy="183.59" r="2.05" fill="#2f74c8"/>
<circle cx="434.43" cy="163.21" r="2.05" fill="#2f74c8"/>
<circle cx="469.85" cy="161.53" r="2.05" fill="#2f74c8"/>
<circle cx="505.28" cy="159.13" r="2.05" fill="#2f74c8"/>
<path d="M399.00,161.29 L434.43,145.71 L469.85,140.91 L505.28,135.64 L540.70,126.05" fill="none" stroke="#f47d30" stroke-width="1.15"/>
<circle cx="399.00" cy="161.29" r="2.05" fill="#f47d30"/>
<circle cx="434.43" cy="145.71" r="2.05" fill="#f47d30"/>
<circle cx="469.85" cy="140.91" r="2.05" fill="#f47d30"/>
<circle cx="505.28" cy="135.64" r="2.05" fill="#f47d30"/>
<circle cx="540.70" cy="126.05" r="2.05" fill="#f47d30"/>
<path d="M399.00,161.05 L434.43,148.59 L469.85,125.09 L505.28,113.58 L540.70,71.39" fill="none" stroke="#a5a5a5" stroke-width="1.0"/>
<circle cx="399.00" cy="161.05" r="2.05" fill="#a5a5a5"/>
<circle cx="434.43" cy="148.59" r="2.05" fill="#a5a5a5"/>
<circle cx="469.85" cy="125.09" r="2.05" fill="#a5a5a5"/>
<circle cx="505.28" cy="113.58" r="2.05" fill="#a5a5a5"/>
</g>
<line x1="399.00" y1="187.91" x2="401.00" y2="187.91" stroke="#1a1a1a" stroke-width="0.7"/>
<line x1="399.00" y1="183.11" x2="401.00" y2="183.11" stroke="#1a1a1a" stroke-width="0.7"/>
<line x1="399.00" y1="178.31" x2="401.00" y2="178.31" stroke="#1a1a1a" stroke-width="0.7"/>
<line x1="399.00" y1="173.52" x2="401.00" y2="173.52" stroke="#1a1a1a" stroke-width="0.7"/>
<line x1="399.00" y1="163.93" x2="401.00" y2="163.93" stroke="#1a1a1a" stroke-width="0.7"/>
<line x1="399.00" y1="159.13" x2="401.00" y2="159.13" stroke="#1a1a1a" stroke-width="0.7"/>
<line x1="399.00" y1="154.34" x2="401.00" y2="154.34" stroke="#1a1a1a" stroke-width="0.7"/>
<line x1="399.00" y1="149.54" x2="401.00" y2="149.54" stroke="#1a1a1a" stroke-width="0.7"/>
<line x1="399.00" y1="139.95" x2="401.00" y2="139.95" stroke="#1a1a1a" stroke-width="0.7"/>
<line x1="399.00" y1="135.16" x2="401.00" y2="135.16" stroke="#1a1a1a" stroke-width="0.7"/>
<line x1="399.00" y1="130.37" x2="401.00" y2="130.37" stroke="#1a1a1a" stroke-width="0.7"/>
<line x1="399.00" y1="125.57" x2="401.00" y2="125.57" stroke="#1a1a1a" stroke-width="0.7"/>
<line x1="399.00" y1="115.98" x2="401.00" y2="115.98" stroke="#1a1a1a" stroke-width="0.7"/>
<line x1="399.00" y1="111.19" x2="401.00" y2="111.19" stroke="#1a1a1a" stroke-width="0.7"/>
<line x1="399.00" y1="106.39" x2="401.00" y2="106.39" stroke="#1a1a1a" stroke-width="0.7"/>
<line x1="399.00" y1="101.59" x2="401.00" y2="101.59" stroke="#1a1a1a" stroke-width="0.7"/>
<line x1="396.60" y1="192.70" x2="399.00" y2="192.70" stroke="#1a1a1a" stroke-width="0.8"/>
<line x1="396.60" y1="168.72" x2="399.00" y2="168.72" stroke="#1a1a1a" stroke-width="0.8"/>
<line x1="396.60" y1="144.75" x2="399.00" y2="144.75" stroke="#1a1a1a" stroke-width="0.8"/>
<line x1="396.60" y1="120.77" x2="399.00" y2="120.77" stroke="#1a1a1a" stroke-width="0.8"/>
<line x1="396.60" y1="96.80" x2="399.00" y2="96.80" stroke="#1a1a1a" stroke-width="0.8"/>
<text x="391.40" y="192.70" font-size="9" text-anchor="end" dominant-baseline="central" fill="#404040">0</text>
<text x="391.40" y="168.72" font-size="9" text-anchor="end" dominant-baseline="central" fill="#404040">0.5</text>
<text x="391.40" y="144.75" font-size="9" text-anchor="end" dominant-baseline="central" fill="#404040">1</text>
<text x="391.40" y="120.77" font-size="9" text-anchor="end" dominant-baseline="central" fill="#404040">1.5</text>
<text x="391.40" y="96.80" font-size="9" text-anchor="end" dominant-baseline="central" fill="#404040">2</text>
<line x1="399.00" y1="192.70" x2="399.00" y2="195.10" stroke="#1a1a1a" stroke-width="0.8"/>
<text x="399.00" y="203.90" font-size="9" text-anchor="middle" fill="#404040" dominant-baseline="central">0</text>
<line x1="434.43" y1="192.70" x2="434.43" y2="195.10" stroke="#1a1a1a" stroke-width="0.8"/>
<text x="434.43" y="203.90" font-size="9" text-anchor="middle" fill="#404040" dominant-baseline="central">5</text>
<line x1="469.85" y1="192.70" x2="469.85" y2="195.10" stroke="#1a1a1a" stroke-width="0.8"/>
<text x="469.85" y="203.90" font-size="9" text-anchor="middle" fill="#404040" dominant-baseline="central">10</text>
<line x1="505.28" y1="192.70" x2="505.28" y2="195.10" stroke="#1a1a1a" stroke-width="0.8"/>
<text x="505.28" y="203.90" font-size="9" text-anchor="middle" fill="#404040" dominant-baseline="central">15</text>
<line x1="540.70" y1="192.70" x2="540.70" y2="195.10" stroke="#1a1a1a" stroke-width="0.8"/>
<text x="540.70" y="203.90" font-size="9" text-anchor="middle" fill="#404040" dominant-baseline="central">20</text>
<rect x="399.00" y="96.80" width="141.70" height="95.90" fill="none" stroke="#1a1a1a" stroke-width="1.3"/>
<line x1="405.90" y1="108.20" x2="418.40" y2="108.20" stroke="#2f74c8" stroke-width="1.3"/>
<circle cx="412.15" cy="108.20" r="1.6" fill="#2f74c8"/>
<text x="420.00" y="108.20" font-size="9" dominant-baseline="central" fill="#404040">JCPE</text>
<line x1="444.90" y1="108.20" x2="456.70" y2="108.20" stroke="#f47d30" stroke-width="1.3"/>
<circle cx="450.80" cy="108.20" r="1.6" fill="#f47d30"/>
<text x="458.60" y="108.20" font-size="9" dominant-baseline="central" fill="#404040">JCPP</text>
<line x1="482.70" y1="108.20" x2="494.60" y2="108.20" stroke="#a5a5a5" stroke-width="1.3"/>
<circle cx="488.65" cy="108.20" r="1.6" fill="#a5a5a5"/>
<text x="496.50" y="108.20" font-size="9" dominant-baseline="central" fill="#404040">JWPP</text>
<text transform="translate(370.70,146.20) rotate(-90)" x="0" y="0" font-size="9.2" text-anchor="middle" dominant-baseline="central" fill="#404040">BM [GPa]</text>
<text x="469.80" y="214.30" font-size="9.2" text-anchor="middle" fill="#404040" dominant-baseline="central">Fiber fraction [%]</text>
<line x1="35.10" y1="303.02" x2="186.10" y2="303.02" stroke="#eaeaea" stroke-width="0.8"/>
<line x1="35.10" y1="271.64" x2="186.10" y2="271.64" stroke="#eaeaea" stroke-width="0.8"/>
<line x1="35.10" y1="240.26" x2="186.10" y2="240.26" stroke="#eaeaea" stroke-width="0.8"/>
<clipPath id="c4"><rect x="35.10" y="229.80" width="151.00" height="104.60"/></clipPath>
<g clip-path="url(#c4)">
<path d="M35.10,317.04 L72.85,304.28 L110.60,301.97 L148.35,298.21" fill="none" stroke="#2f74c8" stroke-width="1.15"/>
<circle cx="35.10" cy="317.04" r="2.05" fill="#2f74c8"/>
<circle cx="72.85" cy="304.28" r="2.05" fill="#2f74c8"/>
<circle cx="110.60" cy="301.97" r="2.05" fill="#2f74c8"/>
<circle cx="148.35" cy="298.21" r="2.05" fill="#2f74c8"/>
<path d="M35.10,304.90 L72.85,283.15 L110.60,276.66 L148.35,273.10" fill="none" stroke="#f47d30" stroke-width="1.15"/>
<circle cx="35.10" cy="304.90" r="2.05" fill="#f47d30"/>
<circle cx="72.85" cy="283.15" r="2.05" fill="#f47d30"/>
<circle cx="110.60" cy="276.66" r="2.05" fill="#f47d30"/>
<circle cx="148.35" cy="273.10" r="2.05" fill="#f47d30"/>
<path d="M35.10,305.53 L72.85,270.59 L110.60,250.09 L148.35,244.65" fill="none" stroke="#a5a5a5" stroke-width="1.0"/>
<circle cx="35.10" cy="305.53" r="2.05" fill="#a5a5a5"/>
<circle cx="72.85" cy="270.59" r="2.05" fill="#a5a5a5"/>
<circle cx="110.60" cy="250.09" r="2.05" fill="#a5a5a5"/>
<circle cx="148.35" cy="244.65" r="2.05" fill="#a5a5a5"/>
</g>
<line x1="35.10" y1="328.12" x2="37.10" y2="328.12" stroke="#1a1a1a" stroke-width="0.7"/>
<line x1="35.10" y1="321.85" x2="37.10" y2="321.85" stroke="#1a1a1a" stroke-width="0.7"/>
<line x1="35.10" y1="315.57" x2="37.10" y2="315.57" stroke="#1a1a1a" stroke-width="0.7"/>
<line x1="35.10" y1="309.30" x2="37.10" y2="309.30" stroke="#1a1a1a" stroke-width="0.7"/>
<line x1="35.10" y1="296.74" x2="37.10" y2="296.74" stroke="#1a1a1a" stroke-width="0.7"/>
<line x1="35.10" y1="290.47" x2="37.10" y2="290.47" stroke="#1a1a1a" stroke-width="0.7"/>
<line x1="35.10" y1="284.19" x2="37.10" y2="284.19" stroke="#1a1a1a" stroke-width="0.7"/>
<line x1="35.10" y1="277.92" x2="37.10" y2="277.92" stroke="#1a1a1a" stroke-width="0.7"/>
<line x1="35.10" y1="265.36" x2="37.10" y2="265.36" stroke="#1a1a1a" stroke-width="0.7"/>
<line x1="35.10" y1="259.09" x2="37.10" y2="259.09" stroke="#1a1a1a" stroke-width="0.7"/>
<line x1="35.10" y1="252.81" x2="37.10" y2="252.81" stroke="#1a1a1a" stroke-width="0.7"/>
<line x1="35.10" y1="246.54" x2="37.10" y2="246.54" stroke="#1a1a1a" stroke-width="0.7"/>
<line x1="35.10" y1="233.98" x2="37.10" y2="233.98" stroke="#1a1a1a" stroke-width="0.7"/>
<line x1="32.70" y1="334.40" x2="35.10" y2="334.40" stroke="#1a1a1a" stroke-width="0.8"/>
<line x1="32.70" y1="303.02" x2="35.10" y2="303.02" stroke="#1a1a1a" stroke-width="0.8"/>
<line x1="32.70" y1="271.64" x2="35.10" y2="271.64" stroke="#1a1a1a" stroke-width="0.8"/>
<line x1="32.70" y1="240.26" x2="35.10" y2="240.26" stroke="#1a1a1a" stroke-width="0.8"/>
<text x="27.00" y="334.40" font-size="9" text-anchor="end" dominant-baseline="central" fill="#404040">0</text>
<text x="27.00" y="303.02" font-size="9" text-anchor="end" dominant-baseline="central" fill="#404040">15</text>
<text x="27.00" y="271.64" font-size="9" text-anchor="end" dominant-baseline="central" fill="#404040">30</text>
<text x="27.00" y="240.26" font-size="9" text-anchor="end" dominant-baseline="central" fill="#404040">45</text>
<line x1="35.10" y1="334.40" x2="35.10" y2="336.80" stroke="#1a1a1a" stroke-width="0.8"/>
<text x="35.10" y="345.50" font-size="9" text-anchor="middle" fill="#404040" dominant-baseline="central">0</text>
<line x1="72.85" y1="334.40" x2="72.85" y2="336.80" stroke="#1a1a1a" stroke-width="0.8"/>
<text x="72.85" y="345.50" font-size="9" text-anchor="middle" fill="#404040" dominant-baseline="central">5</text>
<line x1="110.60" y1="334.40" x2="110.60" y2="336.80" stroke="#1a1a1a" stroke-width="0.8"/>
<text x="110.60" y="345.50" font-size="9" text-anchor="middle" fill="#404040" dominant-baseline="central">10</text>
<line x1="148.35" y1="334.40" x2="148.35" y2="336.80" stroke="#1a1a1a" stroke-width="0.8"/>
<text x="148.35" y="345.50" font-size="9" text-anchor="middle" fill="#404040" dominant-baseline="central">15</text>
<line x1="186.10" y1="334.40" x2="186.10" y2="336.80" stroke="#1a1a1a" stroke-width="0.8"/>
<text x="186.10" y="345.50" font-size="9" text-anchor="middle" fill="#404040" dominant-baseline="central">20</text>
<rect x="35.10" y="229.80" width="151.00" height="104.60" fill="none" stroke="#1a1a1a" stroke-width="1.3"/>
<line x1="49.90" y1="240.60" x2="62.90" y2="240.60" stroke="#2f74c8" stroke-width="1.3"/>
<circle cx="56.40" cy="240.60" r="1.6" fill="#2f74c8"/>
<text x="63.60" y="240.60" font-size="9" dominant-baseline="central" fill="#404040">JCPE</text>
<line x1="86.80" y1="240.60" x2="99.60" y2="240.60" stroke="#f47d30" stroke-width="1.3"/>
<circle cx="93.20" cy="240.60" r="1.6" fill="#f47d30"/>
<text x="100.80" y="240.60" font-size="9" dominant-baseline="central" fill="#404040">JCPP</text>
<line x1="123.20" y1="240.60" x2="135.70" y2="240.60" stroke="#a5a5a5" stroke-width="1.3"/>
<circle cx="129.45" cy="240.60" r="1.6" fill="#a5a5a5"/>
<text x="137.00" y="240.60" font-size="9" dominant-baseline="central" fill="#404040">JWPP</text>
<text transform="translate(8.90,282.40) rotate(-90)" x="0" y="0" font-size="9.0" text-anchor="middle" dominant-baseline="central" fill="#404040">BS [MPa]</text>
<text x="110.60" y="358.40" font-size="9.2" text-anchor="middle" fill="#404040" dominant-baseline="central">Fiber fraction [%]</text>
<line x1="225.50" y1="320.78" x2="372.30" y2="320.78" stroke="#eaeaea" stroke-width="0.8"/>
<line x1="225.50" y1="302.57" x2="372.30" y2="302.57" stroke="#eaeaea" stroke-width="0.8"/>
<line x1="225.50" y1="284.35" x2="372.30" y2="284.35" stroke="#eaeaea" stroke-width="0.8"/>
<line x1="225.50" y1="266.13" x2="372.30" y2="266.13" stroke="#eaeaea" stroke-width="0.8"/>
<line x1="225.50" y1="247.92" x2="372.30" y2="247.92" stroke="#eaeaea" stroke-width="0.8"/>
<rect x="238.27" y="268.95" width="7.20" height="70.05" fill="#8eb4e3" stroke="#4a6a9c" stroke-width="0.9"/>
<rect x="246.37" y="255.38" width="7.20" height="83.62" fill="#fbc3a2" stroke="#b07858" stroke-width="0.9"/>
<rect x="254.47" y="270.41" width="7.20" height="68.59" fill="url(#hatch)" stroke="#5a5a5a" stroke-width="0.9"/>
<text x="249.97" y="349.20" font-size="9" text-anchor="middle" fill="#404040" dominant-baseline="central">5</text>
<rect x="287.20" y="256.75" width="7.20" height="82.25" fill="#8eb4e3" stroke="#4a6a9c" stroke-width="0.9"/>
<rect x="295.30" y="252.37" width="7.20" height="86.63" fill="#fbc3a2" stroke="#b07858" stroke-width="0.9"/>
<rect x="303.40" y="270.41" width="7.20" height="68.59" fill="url(#hatch)" stroke="#5a5a5a" stroke-width="0.9"/>
<text x="298.90" y="349.20" font-size="9" text-anchor="middle" fill="#404040" dominant-baseline="central">10</text>
<rect x="336.13" y="252.37" width="7.20" height="86.63" fill="#8eb4e3" stroke="#4a6a9c" stroke-width="0.9"/>
<rect x="344.23" y="251.28" width="7.20" height="87.72" fill="#fbc3a2" stroke="#b07858" stroke-width="0.9"/>
<rect x="352.33" y="269.59" width="7.20" height="69.41" fill="url(#hatch)" stroke="#5a5a5a" stroke-width="0.9"/>
<text x="347.83" y="349.20" font-size="9" text-anchor="middle" fill="#404040" dominant-baseline="central">15</text>
<line x1="225.50" y1="335.36" x2="227.50" y2="335.36" stroke="#1a1a1a" stroke-width="0.7"/>
<line x1="225.50" y1="331.71" x2="227.50" y2="331.71" stroke="#1a1a1a" stroke-width="0.7"/>
<line x1="225.50" y1="328.07" x2="227.50" y2="328.07" stroke="#1a1a1a" stroke-width="0.7"/>
<line x1="225.50" y1="324.43" x2="227.50" y2="324.43" stroke="#1a1a1a" stroke-width="0.7"/>
<line x1="225.50" y1="317.14" x2="227.50" y2="317.14" stroke="#1a1a1a" stroke-width="0.7"/>
<line x1="225.50" y1="313.50" x2="227.50" y2="313.50" stroke="#1a1a1a" stroke-width="0.7"/>
<line x1="225.50" y1="309.85" x2="227.50" y2="309.85" stroke="#1a1a1a" stroke-width="0.7"/>
<line x1="225.50" y1="306.21" x2="227.50" y2="306.21" stroke="#1a1a1a" stroke-width="0.7"/>
<line x1="225.50" y1="298.92" x2="227.50" y2="298.92" stroke="#1a1a1a" stroke-width="0.7"/>
<line x1="225.50" y1="295.28" x2="227.50" y2="295.28" stroke="#1a1a1a" stroke-width="0.7"/>
<line x1="225.50" y1="291.64" x2="227.50" y2="291.64" stroke="#1a1a1a" stroke-width="0.7"/>
<line x1="225.50" y1="287.99" x2="227.50" y2="287.99" stroke="#1a1a1a" stroke-width="0.7"/>
<line x1="225.50" y1="280.71" x2="227.50" y2="280.71" stroke="#1a1a1a" stroke-width="0.7"/>
<line x1="225.50" y1="277.06" x2="227.50" y2="277.06" stroke="#1a1a1a" stroke-width="0.7"/>
<line x1="225.50" y1="273.42" x2="227.50" y2="273.42" stroke="#1a1a1a" stroke-width="0.7"/>
<line x1="225.50" y1="269.78" x2="227.50" y2="269.78" stroke="#1a1a1a" stroke-width="0.7"/>
<line x1="225.50" y1="262.49" x2="227.50" y2="262.49" stroke="#1a1a1a" stroke-width="0.7"/>
<line x1="225.50" y1="258.85" x2="227.50" y2="258.85" stroke="#1a1a1a" stroke-width="0.7"/>
<line x1="225.50" y1="255.20" x2="227.50" y2="255.20" stroke="#1a1a1a" stroke-width="0.7"/>
<line x1="225.50" y1="251.56" x2="227.50" y2="251.56" stroke="#1a1a1a" stroke-width="0.7"/>
<line x1="225.50" y1="244.27" x2="227.50" y2="244.27" stroke="#1a1a1a" stroke-width="0.7"/>
<line x1="225.50" y1="240.63" x2="227.50" y2="240.63" stroke="#1a1a1a" stroke-width="0.7"/>
<line x1="225.50" y1="236.99" x2="227.50" y2="236.99" stroke="#1a1a1a" stroke-width="0.7"/>
<line x1="225.50" y1="233.34" x2="227.50" y2="233.34" stroke="#1a1a1a" stroke-width="0.7"/>
<line x1="223.10" y1="339.00" x2="225.50" y2="339.00" stroke="#1a1a1a" stroke-width="0.8"/>
<line x1="223.10" y1="320.78" x2="225.50" y2="320.78" stroke="#1a1a1a" stroke-width="0.8"/>
<line x1="223.10" y1="302.57" x2="225.50" y2="302.57" stroke="#1a1a1a" stroke-width="0.8"/>
<line x1="223.10" y1="284.35" x2="225.50" y2="284.35" stroke="#1a1a1a" stroke-width="0.8"/>
<line x1="223.10" y1="266.13" x2="225.50" y2="266.13" stroke="#1a1a1a" stroke-width="0.8"/>
<line x1="223.10" y1="247.92" x2="225.50" y2="247.92" stroke="#1a1a1a" stroke-width="0.8"/>
<line x1="223.10" y1="229.70" x2="225.50" y2="229.70" stroke="#1a1a1a" stroke-width="0.8"/>
<text x="217.70" y="339.00" font-size="9" text-anchor="end" dominant-baseline="central" fill="#404040">0</text>
<text x="217.70" y="320.78" font-size="9" text-anchor="end" dominant-baseline="central" fill="#404040">20</text>
<text x="217.70" y="302.57" font-size="9" text-anchor="end" dominant-baseline="central" fill="#404040">40</text>
<text x="217.70" y="284.35" font-size="9" text-anchor="end" dominant-baseline="central" fill="#404040">60</text>
<text x="217.70" y="266.13" font-size="9" text-anchor="end" dominant-baseline="central" fill="#404040">80</text>
<text x="217.70" y="247.92" font-size="9" text-anchor="end" dominant-baseline="central" fill="#404040">100</text>
<text x="217.70" y="229.70" font-size="9" text-anchor="end" dominant-baseline="central" fill="#404040">120</text>
<rect x="225.50" y="229.70" width="146.80" height="109.30" fill="none" stroke="#1a1a1a" stroke-width="1.3"/>
<rect x="265.90" y="233.50" width="4.8" height="4.8" fill="#8eb4e3" stroke="#4a6a9c" stroke-width="0.7"/>
<text x="271.90" y="235.90" font-size="9" dominant-baseline="central" fill="#404040">JCPE</text>
<rect x="301.90" y="233.50" width="4.8" height="4.8" fill="#fbc3a2" stroke="#b07858" stroke-width="0.7"/>
<text x="307.90" y="235.90" font-size="9" dominant-baseline="central" fill="#404040">JCPP</text>
<rect x="336.30" y="233.50" width="4.8" height="4.8" fill="url(#hatch)" stroke="#5a5a5a" stroke-width="0.7"/>
<text x="342.30" y="235.90" font-size="9" dominant-baseline="central" fill="#404040">JWPP</text>
<text transform="translate(197.60,285.80) rotate(-90)" x="0" y="0" font-size="8.65" text-anchor="middle" dominant-baseline="central" fill="#404040">Hardness (shore D)</text>
<text x="298.70" y="358.20" font-size="9.2" text-anchor="middle" fill="#404040" dominant-baseline="central">Fiber fraction [%]</text>
<defs><filter id="grain" x="0" y="0" width="100%" height="100%"><feTurbulence type="fractalNoise" baseFrequency="0.55" numOctaves="2" seed="4" result="n"/><feColorMatrix in="n" type="matrix" values="0 0 0 0 0.5  0 0 0 0 0.5  0 0 0 0 0.5  0.9 0 0 0 -0.2" result="g"/><feComposite in="g" in2="SourceGraphic" operator="in"/></filter><filter id="semtex0" x="0" y="0" width="100%" height="100%" color-interpolation-filters="sRGB"><feTurbulence type="fractalNoise" baseFrequency="0.08" numOctaves="4" seed="3"/><feColorMatrix type="matrix" values="2.6 0 0 0 -0.80  2.6 0 0 0 -0.80  2.6 0 0 0 -0.80  0 0 0 0 1"/></filter><filter id="semtex1" x="0" y="0" width="100%" height="100%" color-interpolation-filters="sRGB"><feTurbulence type="fractalNoise" baseFrequency="0.12" numOctaves="4" seed="5"/><feColorMatrix type="matrix" values="2.6 0 0 0 -0.80  2.6 0 0 0 -0.80  2.6 0 0 0 -0.80  0 0 0 0 1"/></filter><filter id="semtex2" x="0" y="0" width="100%" height="100%" color-interpolation-filters="sRGB"><feTurbulence type="fractalNoise" baseFrequency="0.10" numOctaves="4" seed="8"/><feColorMatrix type="matrix" values="2.8 0 0 0 -0.90  2.8 0 0 0 -0.90  2.8 0 0 0 -0.90  0 0 0 0 1"/></filter><filter id="semtex3" x="0" y="0" width="100%" height="100%" color-interpolation-filters="sRGB"><feTurbulence type="fractalNoise" baseFrequency="0.14 0.07" numOctaves="4" seed="13"/><feColorMatrix type="matrix" values="2.6 0 0 0 -0.80  2.6 0 0 0 -0.80  2.6 0 0 0 -0.80  0 0 0 0 1"/></filter><filter id="semtex4" x="0" y="0" width="100%" height="100%" color-interpolation-filters="sRGB"><feTurbulence type="fractalNoise" baseFrequency="0.1" numOctaves="4" seed="21"/><feColorMatrix type="matrix" values="2.6 0 0 0 -0.80  2.6 0 0 0 -0.80  2.6 0 0 0 -0.80  0 0 0 0 1"/></filter><filter id="semtex5" x="0" y="0" width="100%" height="100%" color-interpolation-filters="sRGB"><feTurbulence type="fractalNoise" baseFrequency="0.05 0.12" numOctaves="4" seed="34"/><feColorMatrix type="matrix" values="2.4 0 0 0 -0.70  2.4 0 0 0 -0.70  2.4 0 0 0 -0.70  0 0 0 0 1"/></filter><filter id="veins1" x="0" y="0" width="100%" height="100%"><feTurbulence type="turbulence" baseFrequency="0.07" numOctaves="2" seed="3"/><feColorMatrix type="matrix" values="0 0 0 0 0.86  0 0 0 0 0.86  0 0 0 0 0.86  -6 0 0 0 1.2"/></filter><filter id="veins2" x="0" y="0" width="100%" height="100%"><feTurbulence type="turbulence" baseFrequency="0.08" numOctaves="2" seed="11"/><feColorMatrix type="matrix" values="0 0 0 0 0.86  0 0 0 0 0.86  0 0 0 0 0.86  -6 0 0 0 1.2"/></filter><filter id="veins3" x="0" y="0" width="100%" height="100%"><feTurbulence type="turbulence" baseFrequency="0.06 0.09" numOctaves="2" seed="17"/><feColorMatrix type="matrix" values="0 0 0 0 0.86  0 0 0 0 0.86  0 0 0 0 0.86  -6 0 0 0 1.2"/></filter><filter id="veins4" x="0" y="0" width="100%" height="100%"><feTurbulence type="turbulence" baseFrequency="0.08" numOctaves="2" seed="23"/><feColorMatrix type="matrix" values="0 0 0 0 0.86  0 0 0 0 0.86  0 0 0 0 0.86  -6 0 0 0 1.2"/></filter><filter id="pits1" x="0" y="0" width="100%" height="100%"><feTurbulence type="fractalNoise" baseFrequency="0.05" numOctaves="3" seed="4"/><feColorMatrix type="matrix" values="0 0 0 0 0.14  0 0 0 0 0.14  0 0 0 0 0.14  -8 0 0 0 4.1"/></filter><filter id="pits2" x="0" y="0" width="100%" height="100%"><feTurbulence type="fractalNoise" baseFrequency="0.07" numOctaves="3" seed="12"/><feColorMatrix type="matrix" values="0 0 0 0 0.14  0 0 0 0 0.14  0 0 0 0 0.14  -8 0 0 0 4.1"/></filter><filter id="pits3" x="0" y="0" width="100%" height="100%"><feTurbulence type="fractalNoise" baseFrequency="0.06" numOctaves="3" seed="18"/><feColorMatrix type="matrix" values="0 0 0 0 0.14  0 0 0 0 0.14  0 0 0 0 0.14  -8 0 0 0 4.1"/></filter><filter id="pits4" x="0" y="0" width="100%" height="100%"><feTurbulence type="fractalNoise" baseFrequency="0.07" numOctaves="3" seed="24"/><feColorMatrix type="matrix" values="0 0 0 0 0.14  0 0 0 0 0.14  0 0 0 0 0.14  -8 0 0 0 4.1"/></filter></defs>
<clipPath id="csm"><rect x="382.2" y="226.8" width="162.6" height="112.0"/></clipPath>
<g clip-path="url(#csm)">
<rect x="382.2" y="226.8" width="162.6" height="112.0" fill="#a0a0a0"/>
<g filter="url(#b1)">
<path d="M376,220 L458,220 L440,262 L376,296 Z" fill="#a8a8a8"/>
<path d="M376,220 L406,220 L376,242 Z" fill="#8a8a8a"/>
<path d="M420,220 L458,220 L470,256 L430,262 Z" fill="#acacac"/>
<path d="M458,220 L490,220 C492,238 490,250 484,262 L464,262 C458,250 454,238 458,220 Z" fill="#b6b6b6"/>
<path d="M490,220 L552,220 L552,256 L500,262 L484,262 C490,250 492,238 490,220 Z" fill="#8e8e8e"/>
<rect x="538" y="220" width="14" height="112" fill="#a6a6a6" opacity="0.7"/>
<path d="M428,292 L468,265 L552,257 L552,266 L500,275 L440,294 Z" fill="#727272"/>
<path d="M376,292 L440,294 L552,273 L552,332 L376,332 Z" fill="#aaaaaa"/>
<path d="M492,300 C498,294 510,292 520,296 C530,298 536,304 536,312 C536,320 530,326 520,326 C508,326 496,320 492,312 Z" fill="#a4a4a4"/>
<rect x="536" y="300" width="16" height="32" fill="#8a8a8a"/>
</g>
<rect x="382.2" y="226.8" width="162.6" height="112.0" filter="url(#semtex5)" opacity="0.1"/>
<clipPath id="cbund"><path d="M382,226 L462,226 L470,256 L440,270 L382,300 Z"/></clipPath>
<g filter="url(#b05)">
<g clip-path="url(#cbund)">
<line x1="382" y1="258" x2="432.8" y2="226" stroke="#dadada" stroke-width="1.5"/>
<line x1="382" y1="262" x2="439.1" y2="226" stroke="#c4c4c4" stroke-width="1.0"/>
<line x1="382" y1="266" x2="445.5" y2="226" stroke="#e2e2e2" stroke-width="1.7"/>
<line x1="382" y1="271" x2="453.4" y2="226" stroke="#c0c0c0" stroke-width="1.0"/>
<line x1="382" y1="276" x2="461.4" y2="226" stroke="#dcdcdc" stroke-width="1.5"/>
<line x1="382" y1="282" x2="470.9" y2="226" stroke="#c8c8c8" stroke-width="1.1"/>
<line x1="382" y1="288" x2="480.4" y2="226" stroke="#d6d6d6" stroke-width="1.4"/>
<line x1="382" y1="295" x2="491.5" y2="226" stroke="#bebebe" stroke-width="1.0"/>
<line x1="382" y1="302" x2="502.6" y2="226" stroke="#cecece" stroke-width="1.3"/>
<line x1="382" y1="308" x2="512.2" y2="226" stroke="#c6c6c6" stroke-width="1.0"/>
</g>
<path d="M382,272 L470,257 L470,263 L382,279 Z" fill="#c6c6c6"/>
<line x1="382" y1="272.5" x2="470" y2="257.5" stroke="#ececec" stroke-width="1.5"/>
<path d="M436,295 L545,267 L545,273 L446,298 Z" fill="#cacaca"/>
<line x1="436" y1="295" x2="545" y2="267" stroke="#e2e2e2" stroke-width="1"/>
<line x1="382" y1="298" x2="500" y2="292" stroke="#c0c0c0" stroke-width="1.0"/>
<line x1="382" y1="303" x2="500" y2="297" stroke="#d8d8d8" stroke-width="1.7"/>
<line x1="382" y1="308" x2="500" y2="302" stroke="#b8b8b8" stroke-width="1.0"/>
<line x1="382" y1="313" x2="500" y2="307" stroke="#d4d4d4" stroke-width="1.6"/>
<line x1="382" y1="319" x2="500" y2="313" stroke="#b6b6b6" stroke-width="1.0"/>
<line x1="382" y1="325" x2="500" y2="319" stroke="#d0d0d0" stroke-width="1.5"/>
<line x1="382" y1="329" x2="500" y2="323" stroke="#8c8c8c" stroke-width="1.2"/>
<circle cx="482.4" cy="238.4" r="0.8" fill="#c4c4c4"/>
<circle cx="468.2" cy="258.5" r="1.4" fill="#c4c4c4"/>
<circle cx="464.1" cy="248.2" r="1.0" fill="#cccccc"/>
<circle cx="460.8" cy="258.6" r="0.7" fill="#c4c4c4"/>
<circle cx="474.2" cy="254.7" r="0.7" fill="#cccccc"/>
<circle cx="463.3" cy="245.6" r="0.8" fill="#cccccc"/>
<circle cx="465.7" cy="234.1" r="0.7" fill="#c4c4c4"/>
<circle cx="479.5" cy="256.8" r="1.1" fill="#a4a4a4"/>
<circle cx="462.1" cy="254.9" r="1.4" fill="#a4a4a4"/>
<circle cx="465.9" cy="238.5" r="0.7" fill="#a4a4a4"/>
<circle cx="472.9" cy="230.5" r="1.2" fill="#a4a4a4"/>
<circle cx="487.3" cy="236.7" r="1.1" fill="#a4a4a4"/>
<circle cx="487.3" cy="239.2" r="1.0" fill="#cccccc"/>
<circle cx="481.0" cy="258.3" r="1.0" fill="#c4c4c4"/>
<circle cx="476.0" cy="240.9" r="0.7" fill="#cccccc"/>
<circle cx="460.4" cy="259.5" r="0.6" fill="#a4a4a4"/>
<circle cx="461.1" cy="239.5" r="1.4" fill="#c4c4c4"/>
<circle cx="467.2" cy="244.1" r="1.1" fill="#cccccc"/>
<circle cx="461.6" cy="243.1" r="1.2" fill="#c4c4c4"/>
<circle cx="464.1" cy="245.0" r="0.6" fill="#cccccc"/>
<circle cx="485.6" cy="257.6" r="1.2" fill="#a4a4a4"/>
<circle cx="460.0" cy="253.4" r="0.7" fill="#c4c4c4"/>
<circle cx="479.6" cy="235.7" r="1.1" fill="#cccccc"/>
<circle cx="463.2" cy="240.5" r="1.0" fill="#c4c4c4"/>
<circle cx="466.7" cy="234.7" r="1.3" fill="#c4c4c4"/>
<circle cx="464.6" cy="228.8" r="1.4" fill="#c4c4c4"/>
<circle cx="478.8" cy="252.6" r="1.4" fill="#a4a4a4"/>
<circle cx="479.9" cy="247.2" r="1.0" fill="#cccccc"/>
<circle cx="476.8" cy="256.3" r="1.0" fill="#cccccc"/>
<circle cx="468.3" cy="236.8" r="1.0" fill="#c4c4c4"/>
<circle cx="494.7" cy="309.6" r="0.6" fill="#949494"/>
<circle cx="499.7" cy="298.5" r="1.3" fill="#949494"/>
<circle cx="502.2" cy="298.3" r="0.9" fill="#b8b8b8"/>
<circle cx="532.1" cy="306.8" r="1.0" fill="#c0c0c0"/>
<circle cx="515.3" cy="318.9" r="0.9" fill="#949494"/>
<circle cx="511.1" cy="303.0" r="1.3" fill="#b8b8b8"/>
<circle cx="528.3" cy="305.1" r="1.3" fill="#c0c0c0"/>
<circle cx="532.8" cy="317.1" r="1.4" fill="#c0c0c0"/>
<circle cx="533.4" cy="317.5" r="1.1" fill="#c0c0c0"/>
<circle cx="514.2" cy="307.2" r="1.3" fill="#c0c0c0"/>
<circle cx="532.8" cy="320.5" r="1.3" fill="#949494"/>
<circle cx="506.4" cy="298.2" r="1.1" fill="#b8b8b8"/>
<circle cx="499.5" cy="322.0" r="1.2" fill="#b8b8b8"/>
<circle cx="530.4" cy="312.5" r="1.0" fill="#949494"/>
<circle cx="517.2" cy="310.8" r="1.3" fill="#949494"/>
<circle cx="498.8" cy="315.4" r="0.7" fill="#b8b8b8"/>
<circle cx="520.1" cy="305.6" r="1.1" fill="#949494"/>
<circle cx="519.0" cy="322.7" r="0.7" fill="#949494"/>
<circle cx="506.0" cy="306.1" r="1.1" fill="#949494"/>
<circle cx="528.0" cy="297.3" r="1.2" fill="#b8b8b8"/>
<circle cx="513.8" cy="318.1" r="1.0" fill="#b8b8b8"/>
<circle cx="511.2" cy="299.1" r="0.9" fill="#b8b8b8"/>
<circle cx="495.5" cy="318.0" r="1.2" fill="#949494"/>
<circle cx="531.5" cy="313.7" r="1.3" fill="#949494"/>
<ellipse cx="384" cy="255" rx="2.5" ry="7" fill="#454545"/>
</g>
<rect x="382.2" y="226.8" width="162.6" height="112.0" fill="#808080" filter="url(#grain)" opacity="0.25"/>
<rect x="382.2" y="331.9" width="162.6" height="7" fill="#050505"/>
<rect x="466" y="332.4" width="6" height="1.5" fill="#f0f0f0"/>
<g fill="#bdbdbd" font-family="Liberation Sans, sans-serif" font-size="2.4"><text x="424" y="337.6">x 500</text><text x="452" y="337.6">1 00kV 000</text><text x="484" y="337.6">1μm</text><text x="501" y="335.3">10μm  SEM  4/3/2018</text><text x="501" y="338.1">WD 8.2mm 10:37</text></g>
</g>
<line x1="504.8" y1="243.6" x2="490.80" y2="243.60" stroke="#111" stroke-width="1.1"/>
<path d="M487.20,243.60 L490.80,241.90 L490.80,245.30 Z" fill="#111"/>
<line x1="504.8" y1="257.9" x2="448.87" y2="265.51" stroke="#111" stroke-width="1.1"/>
<path d="M445.30,266.00 L448.64,263.83 L449.10,267.20 Z" fill="#111"/>
<line x1="503.5" y1="275.6" x2="467.03" y2="293.42" stroke="#111" stroke-width="1.1"/>
<path d="M463.80,295.00 L466.29,291.89 L467.78,294.95 Z" fill="#111"/>
<line x1="517.3" y1="295.7" x2="511.02" y2="304.92" stroke="#111" stroke-width="1.1"/>
<path d="M509.00,307.90 L509.62,303.97 L512.43,305.88 Z" fill="#111"/>
<rect x="504.8" y="238.7" width="34.3" height="10.5" rx="1.2" fill="#fcfcfc" stroke="#3c3c3c" stroke-width="0.9"/>
<text x="522.0" y="244.1" font-family="Liberation Sans, sans-serif" font-size="5.0" text-anchor="middle" dominant-baseline="central" fill="#555555">PE Matrix</text>
<rect x="504.8" y="252.9" width="34.3" height="10.3" rx="1.2" fill="#fcfcfc" stroke="#3c3c3c" stroke-width="0.9"/>
<text x="522.0" y="258.2" font-family="Liberation Sans, sans-serif" font-size="5.0" text-anchor="middle" dominant-baseline="central" fill="#555555">Jute fiber</text>
<rect x="504.8" y="270.4" width="34.3" height="9.8" rx="1.2" fill="#fcfcfc" stroke="#3c3c3c" stroke-width="0.9"/>
<text x="522.0" y="275.5" font-family="Liberation Sans, sans-serif" font-size="5.0" text-anchor="middle" dominant-baseline="central" fill="#555555">Coir fiber</text>
<rect x="492.2" y="286.2" width="51.7" height="9.4" rx="1.2" fill="#fcfcfc" stroke="#3c3c3c" stroke-width="0.9"/>
<text x="518.0" y="291.1" font-family="Liberation Sans, sans-serif" font-size="5.0" text-anchor="middle" dominant-baseline="central" fill="#555555">Fracture surface</text>
<text x="468.90" y="350.80" font-size="7.8" text-anchor="middle" font-weight="bold" fill="#222" >Jute-Coir-PE</text>
<clipPath id="cs1"><rect x="25.1" y="367.2" width="126.8" height="92.2"/></clipPath>
<g clip-path="url(#cs1)">
<rect x="25.1" y="367.2" width="126.8" height="92.2" fill="#383838"/>
<g filter="url(#b1)">
<rect x="94" y="367" width="58" height="46" fill="#666666"/>
<rect x="112" y="413" width="40" height="47" fill="#4c4c4c"/>
<path d="M120,367 L152,367 L152,392 C140,388 128,380 120,367 Z" fill="#7a7a7a"/>
<path d="M100,380 C110,378 118,384 122,394 C126,404 120,410 112,408 C104,404 100,392 100,380 Z" fill="#404040"/>
</g>
<rect x="25.1" y="367.2" width="126.8" height="92.2" filter="url(#semtex1)" opacity="0.08"/>
<rect x="25.1" y="367.2" width="126.8" height="92.2" filter="url(#pits1)" opacity="0.3"/>
<rect x="25.1" y="367.2" width="126.8" height="92.2" filter="url(#veins1)" opacity="0.25"/>
<g filter="url(#org2)">
<line x1="104.1" y1="398.3" x2="102.8" y2="401.2" stroke="#707070" stroke-width="1.1" stroke-linecap="round"/>
<line x1="123.2" y1="390.2" x2="126.7" y2="391.9" stroke="#707070" stroke-width="0.6" stroke-linecap="round"/>
<line x1="138.7" y1="378.2" x2="144.9" y2="381.3" stroke="#707070" stroke-width="1.0" stroke-linecap="round"/>
<line x1="96.9" y1="382.5" x2="98.5" y2="389.0" stroke="#9a9a9a" stroke-width="0.5" stroke-linecap="round"/>
<line x1="135.8" y1="371.9" x2="134.0" y2="374.1" stroke="#9a9a9a" stroke-width="0.8" stroke-linecap="round"/>
<line x1="103.3" y1="397.3" x2="103.1" y2="399.6" stroke="#5a5a5a" stroke-width="0.7" stroke-linecap="round"/>
<line x1="148.3" y1="407.3" x2="144.3" y2="410.2" stroke="#8a8a8a" stroke-width="0.6" stroke-linecap="round"/>
<line x1="121.2" y1="404.4" x2="125.3" y2="409.4" stroke="#707070" stroke-width="0.7" stroke-linecap="round"/>
<line x1="147.5" y1="390.1" x2="149.3" y2="392.8" stroke="#8a8a8a" stroke-width="0.6" stroke-linecap="round"/>
<line x1="134.4" y1="411.2" x2="139.2" y2="410.0" stroke="#5a5a5a" stroke-width="1.0" stroke-linecap="round"/>
<line x1="112.5" y1="411.1" x2="117.1" y2="413.4" stroke="#9a9a9a" stroke-width="0.8" stroke-linecap="round"/>
<line x1="127.8" y1="381.5" x2="133.9" y2="381.9" stroke="#707070" stroke-width="0.8" stroke-linecap="round"/>
<line x1="132.6" y1="397.7" x2="128.6" y2="397.9" stroke="#5a5a5a" stroke-width="1.3" stroke-linecap="round"/>
<line x1="127.5" y1="406.9" x2="127.8" y2="410.1" stroke="#5a5a5a" stroke-width="0.6" stroke-linecap="round"/>
<line x1="98.8" y1="403.4" x2="94.2" y2="407.5" stroke="#8a8a8a" stroke-width="1.2" stroke-linecap="round"/>
<line x1="131.2" y1="369.5" x2="136.0" y2="373.7" stroke="#5a5a5a" stroke-width="1.3" stroke-linecap="round"/>
<line x1="136.0" y1="389.1" x2="138.3" y2="393.1" stroke="#707070" stroke-width="0.5" stroke-linecap="round"/>
<line x1="106.7" y1="404.9" x2="102.1" y2="406.9" stroke="#707070" stroke-width="0.9" stroke-linecap="round"/>
<line x1="144.6" y1="389.0" x2="147.0" y2="390.2" stroke="#8a8a8a" stroke-width="0.8" stroke-linecap="round"/>
<line x1="101.9" y1="399.5" x2="104.4" y2="401.6" stroke="#707070" stroke-width="0.7" stroke-linecap="round"/>
<line x1="117.3" y1="410.2" x2="115.2" y2="411.4" stroke="#8a8a8a" stroke-width="0.6" stroke-linecap="round"/>
<line x1="130.3" y1="402.6" x2="133.7" y2="402.6" stroke="#9a9a9a" stroke-width="0.9" stroke-linecap="round"/>
<line x1="112.8" y1="389.7" x2="115.4" y2="391.1" stroke="#707070" stroke-width="0.7" stroke-linecap="round"/>
<line x1="135.9" y1="401.3" x2="134.1" y2="406.7" stroke="#8a8a8a" stroke-width="1.1" stroke-linecap="round"/>
<line x1="95.4" y1="388.4" x2="98.1" y2="389.4" stroke="#5a5a5a" stroke-width="0.7" stroke-linecap="round"/>
<line x1="133.3" y1="381.8" x2="136.9" y2="382.0" stroke="#9a9a9a" stroke-width="1.2" stroke-linecap="round"/>
<line x1="139.2" y1="389.6" x2="138.6" y2="391.8" stroke="#9a9a9a" stroke-width="1.3" stroke-linecap="round"/>
<line x1="112.1" y1="398.8" x2="111.8" y2="401.1" stroke="#9a9a9a" stroke-width="1.3" stroke-linecap="round"/>
<line x1="114.5" y1="382.0" x2="112.2" y2="382.6" stroke="#8a8a8a" stroke-width="1.0" stroke-linecap="round"/>
<line x1="139.4" y1="411.0" x2="137.9" y2="416.2" stroke="#707070" stroke-width="0.9" stroke-linecap="round"/>
<line x1="123.2" y1="406.5" x2="128.5" y2="406.2" stroke="#8a8a8a" stroke-width="0.7" stroke-linecap="round"/>
<line x1="133.7" y1="404.0" x2="131.7" y2="406.4" stroke="#707070" stroke-width="0.8" stroke-linecap="round"/>
<line x1="107.5" y1="408.2" x2="106.9" y2="411.0" stroke="#9a9a9a" stroke-width="1.1" stroke-linecap="round"/>
<line x1="144.0" y1="402.3" x2="141.2" y2="406.8" stroke="#9a9a9a" stroke-width="0.7" stroke-linecap="round"/>
<line x1="145.4" y1="385.0" x2="141.8" y2="390.8" stroke="#8a8a8a" stroke-width="0.6" stroke-linecap="round"/>
<line x1="106.1" y1="406.5" x2="104.9" y2="409.1" stroke="#9a9a9a" stroke-width="1.0" stroke-linecap="round"/>
<line x1="115.6" y1="400.7" x2="112.9" y2="400.0" stroke="#707070" stroke-width="0.7" stroke-linecap="round"/>
<line x1="113.4" y1="396.2" x2="110.6" y2="402.4" stroke="#9a9a9a" stroke-width="0.9" stroke-linecap="round"/>
<line x1="147.0" y1="410.6" x2="143.9" y2="411.5" stroke="#9a9a9a" stroke-width="1.1" stroke-linecap="round"/>
<line x1="103.6" y1="385.3" x2="105.4" y2="390.3" stroke="#5a5a5a" stroke-width="1.0" stroke-linecap="round"/>
<path d="M59.0,365.0 Q70.0,378.0 74.0,383.0 L78.0,388.0" fill="none" stroke="#9c9c9c" stroke-width="6" stroke-linecap="round"/><path d="M59.0,365.0 Q70.0,378.0 74.0,383.0 L78.0,388.0" fill="none" stroke="#e6e6e6" stroke-width="1.8" stroke-linecap="round" opacity="0.55" transform="translate(-0.5,-0.5)"/>
<path d="M25.0,392.0 Q29.0,420.0 31.5,432.5 Q34.0,445.0 36.0,453.5 L38.0,462.0" fill="none" stroke="#6a6a6a" stroke-width="7.1" stroke-linecap="round"/><path d="M25.0,392.0 Q29.0,420.0 31.5,432.5 Q34.0,445.0 36.0,453.5 L38.0,462.0" fill="none" stroke="#a8a8a8" stroke-width="5.5" stroke-linecap="round"/><path d="M25.0,392.0 Q29.0,420.0 31.5,432.5 Q34.0,445.0 36.0,453.5 L38.0,462.0" fill="none" stroke="#e6e6e6" stroke-width="1.6" stroke-linecap="round" opacity="0.55" transform="translate(-0.5,-0.5)"/>
<path d="M34.0,404.0 Q46.0,430.0 54.0,446.0 L62.0,462.0" fill="none" stroke="#9a9a9a" stroke-width="4" stroke-linecap="round"/><path d="M34.0,404.0 Q46.0,430.0 54.0,446.0 L62.0,462.0" fill="none" stroke="#e6e6e6" stroke-width="1.2" stroke-linecap="round" opacity="0.55" transform="translate(-0.5,-0.5)"/>
<path d="M31.0,364.0 Q48.0,392.0 55.0,402.5 Q62.0,413.0 71.0,425.5 L80.0,438.0" fill="none" stroke="#707070" stroke-width="5.800000000000001" stroke-linecap="round"/><path d="M31.0,364.0 Q48.0,392.0 55.0,402.5 Q62.0,413.0 71.0,425.5 L80.0,438.0" fill="none" stroke="#bcbcbc" stroke-width="4.2" stroke-linecap="round"/><path d="M31.0,364.0 Q48.0,392.0 55.0,402.5 Q62.0,413.0 71.0,425.5 L80.0,438.0" fill="none" stroke="#e6e6e6" stroke-width="1.3" stroke-linecap="round" opacity="0.55" transform="translate(-0.5,-0.5)"/>
<path d="M42.0,364.0 Q58.0,390.0 65.0,400.0 Q72.0,410.0 81.0,421.0 L90.0,432.0" fill="none" stroke="#aaaaaa" stroke-width="3" stroke-linecap="round"/><path d="M42.0,364.0 Q58.0,390.0 65.0,400.0 Q72.0,410.0 81.0,421.0 L90.0,432.0" fill="none" stroke="#e6e6e6" stroke-width="0.9" stroke-linecap="round" opacity="0.55" transform="translate(-0.5,-0.5)"/>
<path d="M22.0,380.0 Q38.9,397.0 49.2,403.4 Q59.6,409.7 71.2,414.4 Q82.7,419.0 99.3,423.2 L116.0,427.5" fill="none" stroke="#777777" stroke-width="6.199999999999999" stroke-linecap="round"/><path d="M22.0,380.0 Q38.9,397.0 49.2,403.4 Q59.6,409.7 71.2,414.4 Q82.7,419.0 99.3,423.2 L116.0,427.5" fill="none" stroke="#c8c8c8" stroke-width="4.6" stroke-linecap="round"/><path d="M22.0,380.0 Q38.9,397.0 49.2,403.4 Q59.6,409.7 71.2,414.4 Q82.7,419.0 99.3,423.2 L116.0,427.5" fill="none" stroke="#e6e6e6" stroke-width="1.4" stroke-linecap="round" opacity="0.55" transform="translate(-0.5,-0.5)"/>
<path d="M86.2,405.0 Q86.0,420.0 86.2,428.5 L86.5,437.0" fill="none" stroke="#777777" stroke-width="5.800000000000001" stroke-linecap="round"/><path d="M86.2,405.0 Q86.0,420.0 86.2,428.5 L86.5,437.0" fill="none" stroke="#d2d2d2" stroke-width="4.2" stroke-linecap="round"/><path d="M86.2,405.0 Q86.0,420.0 86.2,428.5 L86.5,437.0" fill="none" stroke="#e6e6e6" stroke-width="1.3" stroke-linecap="round" opacity="0.55" transform="translate(-0.5,-0.5)"/>
<path d="M101.0,409.7 Q117.4,417.8 123.2,425.9 Q129.0,434.0 136.5,447.0 L144.0,460.0" fill="none" stroke="#b4b4b4" stroke-width="9.4" stroke-linecap="round"/><path d="M101.0,409.7 Q117.4,417.8 123.2,425.9 Q129.0,434.0 136.5,447.0 L144.0,460.0" fill="none" stroke="#8e8e8e" stroke-width="8" stroke-linecap="round"/><path d="M101.0,409.7 Q117.4,417.8 123.2,425.9 Q129.0,434.0 136.5,447.0 L144.0,460.0" fill="none" stroke="#e6e6e6" stroke-width="2.4" stroke-linecap="round" opacity="0.55" transform="translate(-0.5,-0.5)"/>
<path d="M80.0,380.0 Q76.0,400.0 74.0,409.0 L72.0,418.0" fill="none" stroke="#7a7a7a" stroke-width="1.6" stroke-linecap="round"/>
<path d="M88.0,440.0 Q96.0,446.0 100.0,447.0 L104.0,448.0" fill="none" stroke="#c0c0c0" stroke-width="2" stroke-linecap="round"/>
<path d="M70.0,447.0 Q78.0,452.0 83.0,453.5 L88.0,455.0" fill="none" stroke="#a0a0a0" stroke-width="1.5" stroke-linecap="round"/>
</g>
<rect x="25.1" y="367.2" width="126.8" height="92.2" fill="#808080" filter="url(#grain)" opacity="0.4"/>
<g fill="#f2f2f2" font-family="Liberation Sans, sans-serif" font-size="4.2" font-weight="bold">
<text x="38.5" y="456.2">20kV</text>
<text x="66.5" y="456.2">X150</text>
<text x="90.5" y="456.2">100μm</text>
</g>
</g>
<clipPath id="cs2"><rect x="176.7" y="368.5" width="104.9" height="92.7"/></clipPath>
<g clip-path="url(#cs2)">
<rect x="176.7" y="368.5" width="104.9" height="92.7" fill="#686868"/>
<g filter="url(#b1)">
<path d="M170,362 L196,362 C194,400 196,430 198,468 L170,468 Z" fill="#a8a8a8"/>
<path d="M196,362 L236,362 L236,468 L198,468 Z" fill="#6c6c6c"/>
<path d="M236,362 L288,362 L288,468 L236,468 Z" fill="#585858"/>
<rect x="229" y="381" width="11" height="8" fill="#a4a4a4"/>
</g>
<rect x="176.7" y="368.5" width="104.9" height="92.7" filter="url(#semtex2)" opacity="0.12"/>
<rect x="176.7" y="368.5" width="104.9" height="92.7" filter="url(#pits2)" opacity="0.6"/>
<rect x="176.7" y="368.5" width="104.9" height="92.7" filter="url(#veins2)" opacity="0.55"/>
<g filter="url(#org)">
<path d="M232.0,392.0 L262.0,432.0" stroke="#343434" stroke-width="3.2" stroke-linecap="round" fill="none"/>
<path d="M234.6,391.0 L264.6,431.0" stroke="#a6a6a6" stroke-width="1.0" fill="none"/>
<path d="M237.2,395.0 L267.2,438.0" stroke="#343434" stroke-width="3.2" stroke-linecap="round" fill="none"/>
<path d="M239.8,394.0 L269.8,437.0" stroke="#a6a6a6" stroke-width="1.0" fill="none"/>
<path d="M242.4,398.0 L272.4,432.0" stroke="#343434" stroke-width="3.2" stroke-linecap="round" fill="none"/>
<path d="M245.0,397.0 L275.0,431.0" stroke="#a6a6a6" stroke-width="1.0" fill="none"/>
<path d="M247.6,392.0 L277.6,438.0" stroke="#343434" stroke-width="3.2" stroke-linecap="round" fill="none"/>
<path d="M250.2,391.0 L280.2,437.0" stroke="#a6a6a6" stroke-width="1.0" fill="none"/>
<path d="M252.8,395.0 L282.8,432.0" stroke="#343434" stroke-width="3.2" stroke-linecap="round" fill="none"/>
<path d="M255.4,394.0 L285.4,431.0" stroke="#a6a6a6" stroke-width="1.0" fill="none"/>
<path d="M258.0,398.0 L288.0,438.0" stroke="#343434" stroke-width="3.2" stroke-linecap="round" fill="none"/>
<path d="M260.6,397.0 L290.6,437.0" stroke="#a6a6a6" stroke-width="1.0" fill="none"/>
<path d="M263.2,392.0 L293.2,432.0" stroke="#343434" stroke-width="3.2" stroke-linecap="round" fill="none"/>
<path d="M265.8,391.0 L295.8,431.0" stroke="#a6a6a6" stroke-width="1.0" fill="none"/>
<path d="M268.4,395.0 L298.4,438.0" stroke="#343434" stroke-width="3.2" stroke-linecap="round" fill="none"/>
<path d="M271.0,394.0 L301.0,437.0" stroke="#a6a6a6" stroke-width="1.0" fill="none"/>
<path d="M273.6,398.0 L303.6,432.0" stroke="#343434" stroke-width="3.2" stroke-linecap="round" fill="none"/>
<path d="M276.2,397.0 L306.2,431.0" stroke="#a6a6a6" stroke-width="1.0" fill="none"/>
<path d="M278.8,392.0 L308.8,438.0" stroke="#343434" stroke-width="3.2" stroke-linecap="round" fill="none"/>
<path d="M281.4,391.0 L311.4,437.0" stroke="#a6a6a6" stroke-width="1.0" fill="none"/>
<path d="M284.0,395.0 L314.0,432.0" stroke="#343434" stroke-width="3.2" stroke-linecap="round" fill="none"/>
<path d="M286.6,394.0 L316.6,431.0" stroke="#a6a6a6" stroke-width="1.0" fill="none"/>
<path d="M289.2,398.0 L319.2,438.0" stroke="#343434" stroke-width="3.2" stroke-linecap="round" fill="none"/>
<path d="M291.8,397.0 L321.8,437.0" stroke="#a6a6a6" stroke-width="1.0" fill="none"/>
<ellipse cx="212" cy="374" rx="7" ry="3.5" transform="rotate(10 212 374)" fill="#363636" stroke="#a8a8a8" stroke-width="1.2"/>
<ellipse cx="232" cy="372" rx="5.5" ry="3" transform="rotate(-10 232 372)" fill="#363636" stroke="#a8a8a8" stroke-width="1.2"/>
<ellipse cx="254" cy="375" rx="6.5" ry="3.5" transform="rotate(30 254 375)" fill="#363636" stroke="#a8a8a8" stroke-width="1.2"/>
<ellipse cx="272" cy="380" rx="5" ry="4" transform="rotate(60 272 380)" fill="#363636" stroke="#a8a8a8" stroke-width="1.2"/>
<ellipse cx="262" cy="368" rx="6.5" ry="2.5" transform="rotate(0 262 368)" fill="#363636" stroke="#a8a8a8" stroke-width="1.2"/>
<ellipse cx="216" cy="405" rx="6.5" ry="9" transform="rotate(10 216 405)" fill="#3a3a3a" stroke="#b0b0b0" stroke-width="1.3" stroke-dasharray="9 3"/>
<ellipse cx="230" cy="398" rx="4" ry="6" transform="rotate(-20 230 398)" fill="#3a3a3a" stroke="#b0b0b0" stroke-width="1.3" stroke-dasharray="9 3"/>
<ellipse cx="214" cy="440" rx="7" ry="5" transform="rotate(20 214 440)" fill="#3a3a3a" stroke="#b0b0b0" stroke-width="1.3" stroke-dasharray="9 3"/>
<ellipse cx="234" cy="450" rx="8" ry="4" transform="rotate(-10 234 450)" fill="#3a3a3a" stroke="#b0b0b0" stroke-width="1.3" stroke-dasharray="9 3"/>
<ellipse cx="252" cy="415" rx="4" ry="6.5" transform="rotate(30 252 415)" fill="#3a3a3a" stroke="#b0b0b0" stroke-width="1.3" stroke-dasharray="9 3"/>
<ellipse cx="222" cy="424" rx="4" ry="3.5" transform="rotate(0 222 424)" fill="#3a3a3a" stroke="#b0b0b0" stroke-width="1.3" stroke-dasharray="9 3"/>
<ellipse cx="262" cy="452" rx="7" ry="4" transform="rotate(40 262 452)" fill="#3a3a3a" stroke="#b0b0b0" stroke-width="1.3" stroke-dasharray="9 3"/>
<line x1="179.3" y1="389.2" x2="180.6" y2="392.5" stroke="#cccccc" stroke-width="0.5" stroke-linecap="round"/>
<line x1="183.5" y1="399.7" x2="188.3" y2="401.2" stroke="#909090" stroke-width="0.8" stroke-linecap="round"/>
<line x1="178.0" y1="438.0" x2="182.2" y2="438.4" stroke="#c0c0c0" stroke-width="1.2" stroke-linecap="round"/>
<line x1="194.2" y1="388.2" x2="199.1" y2="388.3" stroke="#c0c0c0" stroke-width="1.1" stroke-linecap="round"/>
<line x1="185.5" y1="408.8" x2="182.8" y2="409.4" stroke="#909090" stroke-width="0.7" stroke-linecap="round"/>
<line x1="193.8" y1="385.1" x2="190.4" y2="386.7" stroke="#cccccc" stroke-width="0.6" stroke-linecap="round"/>
<line x1="178.6" y1="396.1" x2="181.7" y2="398.5" stroke="#909090" stroke-width="0.8" stroke-linecap="round"/>
<line x1="179.2" y1="412.9" x2="175.8" y2="415.3" stroke="#c0c0c0" stroke-width="1.2" stroke-linecap="round"/>
<line x1="180.2" y1="393.4" x2="180.4" y2="395.6" stroke="#cccccc" stroke-width="0.5" stroke-linecap="round"/>
<line x1="178.1" y1="455.6" x2="175.5" y2="457.9" stroke="#c0c0c0" stroke-width="1.0" stroke-linecap="round"/>
<line x1="186.9" y1="415.8" x2="190.3" y2="418.2" stroke="#c0c0c0" stroke-width="1.2" stroke-linecap="round"/>
<line x1="194.3" y1="381.6" x2="192.8" y2="384.3" stroke="#cccccc" stroke-width="0.7" stroke-linecap="round"/>
<line x1="178.0" y1="372.5" x2="173.1" y2="372.9" stroke="#909090" stroke-width="1.1" stroke-linecap="round"/>
<line x1="185.1" y1="390.4" x2="185.2" y2="393.7" stroke="#909090" stroke-width="0.7" stroke-linecap="round"/>
<line x1="193.6" y1="415.2" x2="191.1" y2="418.4" stroke="#909090" stroke-width="0.9" stroke-linecap="round"/>
<line x1="193.4" y1="404.0" x2="190.2" y2="407.6" stroke="#c0c0c0" stroke-width="1.2" stroke-linecap="round"/>
<line x1="178.8" y1="423.8" x2="181.2" y2="425.6" stroke="#c0c0c0" stroke-width="0.6" stroke-linecap="round"/>
<line x1="183.4" y1="455.8" x2="180.2" y2="456.6" stroke="#909090" stroke-width="1.0" stroke-linecap="round"/>
<line x1="218.1" y1="423.5" x2="210.1" y2="425.6" stroke="#c8c8c8" stroke-width="1.4" stroke-linecap="round"/>
<line x1="200.5" y1="456.1" x2="203.9" y2="463.2" stroke="#b4b4b4" stroke-width="0.9" stroke-linecap="round"/>
<line x1="221.2" y1="440.3" x2="219.5" y2="443.2" stroke="#c8c8c8" stroke-width="1.2" stroke-linecap="round"/>
<line x1="224.8" y1="377.3" x2="229.1" y2="384.3" stroke="#c8c8c8" stroke-width="0.9" stroke-linecap="round"/>
<line x1="209.9" y1="390.1" x2="208.8" y2="396.5" stroke="#c8c8c8" stroke-width="1.1" stroke-linecap="round"/>
<line x1="207.0" y1="432.2" x2="210.1" y2="433.7" stroke="#c8c8c8" stroke-width="0.9" stroke-linecap="round"/>
<line x1="202.4" y1="396.9" x2="197.1" y2="397.5" stroke="#c8c8c8" stroke-width="1.0" stroke-linecap="round"/>
<line x1="232.5" y1="417.8" x2="225.5" y2="422.1" stroke="#c8c8c8" stroke-width="0.8" stroke-linecap="round"/>
<line x1="208.5" y1="392.6" x2="212.2" y2="395.6" stroke="#b4b4b4" stroke-width="1.1" stroke-linecap="round"/>
<line x1="209.3" y1="454.1" x2="209.9" y2="461.7" stroke="#a0a0a0" stroke-width="1.2" stroke-linecap="round"/>
<line x1="234.7" y1="425.6" x2="228.9" y2="430.2" stroke="#c8c8c8" stroke-width="1.0" stroke-linecap="round"/>
<line x1="204.6" y1="388.4" x2="206.5" y2="395.1" stroke="#b4b4b4" stroke-width="1.4" stroke-linecap="round"/>
<path d="M196.0,368.0 Q193.0,390.0 195.0,400.0 Q197.0,410.0 196.0,422.5 Q195.0,435.0 196.5,448.5 L198.0,462.0" fill="none" stroke="#d4d4d4" stroke-width="1.8" stroke-linecap="round"/>
<path d="M209.4,425.0 Q240.0,411.0 257.1,403.2 L274.2,395.5" fill="none" stroke="#666666" stroke-width="3.2" stroke-linecap="round"/><path d="M209.4,425.0 Q240.0,411.0 257.1,403.2 L274.2,395.5" fill="none" stroke="#cacaca" stroke-width="2.2" stroke-linecap="round"/>
</g>
<rect x="176.7" y="368.5" width="104.9" height="92.7" fill="#808080" filter="url(#grain)" opacity="0.4"/>
<g fill="#f2f2f2" font-family="Liberation Sans, sans-serif" font-size="4.2" font-weight="bold">
<text x="181" y="458.0">2000</text>
<text x="206" y="458.0">100μm</text>
</g>
</g>
<clipPath id="cs3"><rect x="304.8" y="369.2" width="109.8" height="92.0"/></clipPath>
<g clip-path="url(#cs3)">
<rect x="304.8" y="369.2" width="109.8" height="92.0" fill="#5a5a5a"/>
<g filter="url(#b1)">
<rect x="298" y="362" width="124" height="23" fill="#4e4e4e"/>
<path d="M298,385 C316,383 330,384 350,388 L340,400 L336,468 L298,468 Z" fill="#a6a6a6"/>
<path d="M298,385 L350,387 L346,401 L298,401 Z" fill="#bcbcbc"/>
<path d="M334,409 C342,406 350,412 350,422 C350,432 342,436 336,432 Z" fill="#3a3a3a"/>
<path d="M388,386 L422,386 L422,455 L394,455 Z" fill="#4c4c4c"/>
<path d="M380,452 L422,444 L422,468 L380,468 Z" fill="#8a8a8a"/>
</g>
<rect x="304.8" y="369.2" width="109.8" height="92.0" filter="url(#semtex3)" opacity="0.12"/>
<rect x="304.8" y="369.2" width="109.8" height="92.0" filter="url(#pits3)" opacity="0.5"/>
<rect x="304.8" y="369.2" width="109.8" height="92.0" filter="url(#veins3)" opacity="0.5"/>
<g filter="url(#org2)">
<path d="M338,400 L352,393 L374,442 L362,450 Z" fill="#8c8c8c"/>
<path d="M366,376 L378,373 L392,445 L380,451 Z" fill="#6c6c6c"/>
<path d="M379,375 L388,373 L395,405 L388,407 Z" fill="#8a8a8a"/>
<line x1="340.0" y1="399.0" x2="362.0" y2="449.0" stroke="#b4b4b4" stroke-width="0.9"/>
<line x1="342.6" y1="397.8" x2="364.6" y2="447.8" stroke="#707070" stroke-width="0.9"/>
<line x1="345.2" y1="396.6" x2="367.2" y2="446.6" stroke="#c0c0c0" stroke-width="0.9"/>
<line x1="347.8" y1="395.4" x2="369.8" y2="445.4" stroke="#787878" stroke-width="0.9"/>
<line x1="350.4" y1="394.2" x2="372.4" y2="444.2" stroke="#b0b0b0" stroke-width="0.9"/>
<line x1="368.0" y1="376.0" x2="382.0" y2="448.0" stroke="#9a9a9a" stroke-width="0.8"/>
<line x1="370.4" y1="375.4" x2="384.4" y2="447.4" stroke="#505050" stroke-width="0.8"/>
<line x1="372.8" y1="374.8" x2="386.8" y2="446.8" stroke="#a0a0a0" stroke-width="0.8"/>
<line x1="375.2" y1="374.2" x2="389.2" y2="446.2" stroke="#585858" stroke-width="0.8"/>
<line x1="317.4" y1="402.8" x2="320.5" y2="405.8" stroke="#bcbcbc" stroke-width="0.9" stroke-linecap="round"/>
<line x1="317.5" y1="434.8" x2="315.7" y2="439.1" stroke="#cfcfcf" stroke-width="0.9" stroke-linecap="round"/>
<line x1="310.7" y1="397.6" x2="308.4" y2="401.6" stroke="#cfcfcf" stroke-width="0.6" stroke-linecap="round"/>
<line x1="323.6" y1="415.7" x2="324.8" y2="417.6" stroke="#bcbcbc" stroke-width="1.1" stroke-linecap="round"/>
<line x1="309.8" y1="430.9" x2="313.6" y2="433.7" stroke="#8a8a8a" stroke-width="0.5" stroke-linecap="round"/>
<line x1="315.5" y1="427.7" x2="314.7" y2="433.2" stroke="#cfcfcf" stroke-width="0.7" stroke-linecap="round"/>
<line x1="310.4" y1="430.7" x2="311.1" y2="434.6" stroke="#7a7a7a" stroke-width="0.7" stroke-linecap="round"/>
<line x1="308.6" y1="393.0" x2="304.6" y2="393.9" stroke="#bcbcbc" stroke-width="0.9" stroke-linecap="round"/>
<line x1="332.4" y1="429.9" x2="334.0" y2="431.5" stroke="#cfcfcf" stroke-width="1.1" stroke-linecap="round"/>
<line x1="326.5" y1="442.5" x2="321.8" y2="443.5" stroke="#7a7a7a" stroke-width="1.0" stroke-linecap="round"/>
<line x1="328.5" y1="427.0" x2="328.8" y2="432.8" stroke="#8a8a8a" stroke-width="0.7" stroke-linecap="round"/>
<line x1="316.9" y1="417.4" x2="315.1" y2="418.9" stroke="#bcbcbc" stroke-width="0.9" stroke-linecap="round"/>
<line x1="333.9" y1="403.9" x2="335.2" y2="409.0" stroke="#7a7a7a" stroke-width="1.1" stroke-linecap="round"/>
<line x1="314.8" y1="416.2" x2="317.6" y2="417.0" stroke="#8a8a8a" stroke-width="0.6" stroke-linecap="round"/>
<line x1="326.0" y1="392.1" x2="327.8" y2="394.0" stroke="#bcbcbc" stroke-width="0.6" stroke-linecap="round"/>
<line x1="317.5" y1="434.2" x2="313.4" y2="436.9" stroke="#8a8a8a" stroke-width="0.9" stroke-linecap="round"/>
<line x1="320.9" y1="450.1" x2="318.8" y2="450.4" stroke="#8a8a8a" stroke-width="1.0" stroke-linecap="round"/>
<line x1="321.4" y1="429.6" x2="325.3" y2="432.9" stroke="#cfcfcf" stroke-width="0.5" stroke-linecap="round"/>
<line x1="326.0" y1="432.4" x2="330.7" y2="435.7" stroke="#bcbcbc" stroke-width="0.7" stroke-linecap="round"/>
<line x1="313.8" y1="412.3" x2="318.0" y2="414.6" stroke="#7a7a7a" stroke-width="0.7" stroke-linecap="round"/>
<line x1="329.9" y1="432.3" x2="333.1" y2="435.2" stroke="#8a8a8a" stroke-width="0.9" stroke-linecap="round"/>
<line x1="333.1" y1="406.7" x2="336.2" y2="409.6" stroke="#7a7a7a" stroke-width="0.5" stroke-linecap="round"/>
<line x1="330.8" y1="433.9" x2="328.9" y2="438.6" stroke="#8a8a8a" stroke-width="0.8" stroke-linecap="round"/>
<line x1="321.0" y1="446.8" x2="320.5" y2="448.8" stroke="#8a8a8a" stroke-width="1.2" stroke-linecap="round"/>
<line x1="321.4" y1="397.5" x2="320.4" y2="399.3" stroke="#bcbcbc" stroke-width="1.0" stroke-linecap="round"/>
<line x1="322.7" y1="421.6" x2="324.0" y2="423.4" stroke="#bcbcbc" stroke-width="1.0" stroke-linecap="round"/>
<line x1="326.7" y1="419.3" x2="325.8" y2="421.9" stroke="#8a8a8a" stroke-width="0.7" stroke-linecap="round"/>
<line x1="308.6" y1="430.2" x2="306.6" y2="430.1" stroke="#bcbcbc" stroke-width="0.6" stroke-linecap="round"/>
<line x1="317.7" y1="392.3" x2="313.1" y2="393.3" stroke="#bcbcbc" stroke-width="0.9" stroke-linecap="round"/>
<line x1="311.4" y1="392.6" x2="313.4" y2="395.9" stroke="#bcbcbc" stroke-width="0.6" stroke-linecap="round"/>
<line x1="308.7" y1="441.9" x2="309.8" y2="445.0" stroke="#cfcfcf" stroke-width="0.7" stroke-linecap="round"/>
<line x1="333.1" y1="450.3" x2="327.7" y2="451.8" stroke="#8a8a8a" stroke-width="1.3" stroke-linecap="round"/>
<line x1="314.3" y1="442.4" x2="312.4" y2="444.3" stroke="#7a7a7a" stroke-width="1.1" stroke-linecap="round"/>
<line x1="329.2" y1="413.9" x2="326.6" y2="417.6" stroke="#bcbcbc" stroke-width="1.0" stroke-linecap="round"/>
<line x1="310.8" y1="448.0" x2="308.9" y2="450.5" stroke="#cfcfcf" stroke-width="0.7" stroke-linecap="round"/>
<line x1="325.9" y1="406.0" x2="327.6" y2="408.6" stroke="#cfcfcf" stroke-width="0.6" stroke-linecap="round"/>
<line x1="313.9" y1="424.7" x2="317.1" y2="427.4" stroke="#cfcfcf" stroke-width="0.8" stroke-linecap="round"/>
<line x1="334.5" y1="411.9" x2="330.7" y2="414.6" stroke="#7a7a7a" stroke-width="1.0" stroke-linecap="round"/>
<line x1="307.1" y1="401.0" x2="308.9" y2="403.0" stroke="#7a7a7a" stroke-width="1.1" stroke-linecap="round"/>
<line x1="321.3" y1="423.9" x2="321.1" y2="426.1" stroke="#cfcfcf" stroke-width="1.0" stroke-linecap="round"/>
<line x1="406.8" y1="389.6" x2="410.6" y2="392.8" stroke="#b0b0b0" stroke-width="1.1" stroke-linecap="round"/>
<line x1="404.9" y1="425.8" x2="407.8" y2="425.4" stroke="#b0b0b0" stroke-width="0.5" stroke-linecap="round"/>
<line x1="398.0" y1="429.6" x2="398.1" y2="433.9" stroke="#9a9a9a" stroke-width="1.1" stroke-linecap="round"/>
<line x1="397.2" y1="415.0" x2="401.1" y2="418.3" stroke="#9a9a9a" stroke-width="0.6" stroke-linecap="round"/>
<line x1="395.9" y1="442.2" x2="393.5" y2="446.5" stroke="#b0b0b0" stroke-width="0.6" stroke-linecap="round"/>
<line x1="412.4" y1="393.0" x2="415.4" y2="397.7" stroke="#7a7a7a" stroke-width="1.0" stroke-linecap="round"/>
<line x1="408.1" y1="390.9" x2="410.0" y2="392.2" stroke="#9a9a9a" stroke-width="1.2" stroke-linecap="round"/>
<line x1="401.6" y1="417.0" x2="399.0" y2="419.3" stroke="#b0b0b0" stroke-width="0.7" stroke-linecap="round"/>
<line x1="412.7" y1="429.5" x2="412.0" y2="434.3" stroke="#9a9a9a" stroke-width="0.9" stroke-linecap="round"/>
<line x1="399.4" y1="447.2" x2="398.0" y2="450.2" stroke="#9a9a9a" stroke-width="0.7" stroke-linecap="round"/>
<line x1="394.6" y1="408.2" x2="399.2" y2="411.8" stroke="#b0b0b0" stroke-width="0.8" stroke-linecap="round"/>
<line x1="407.1" y1="413.3" x2="404.2" y2="414.2" stroke="#9a9a9a" stroke-width="1.1" stroke-linecap="round"/>
<line x1="404.8" y1="435.8" x2="405.4" y2="439.2" stroke="#9a9a9a" stroke-width="0.9" stroke-linecap="round"/>
<line x1="395.8" y1="391.0" x2="400.5" y2="393.1" stroke="#7a7a7a" stroke-width="1.0" stroke-linecap="round"/>
</g>
<rect x="304.8" y="369.2" width="109.8" height="92.0" fill="#808080" filter="url(#grain)" opacity="0.4"/>
<g fill="#f2f2f2" font-family="Liberation Sans, sans-serif" font-size="4.2" font-weight="bold">
<text x="317" y="458.0">20kV</text>
<text x="343" y="458.0">X300</text>
<text x="370" y="458.0">100μm</text>
</g>
</g>
<clipPath id="cs4"><rect x="435.0" y="367.4" width="111.9" height="94.9"/></clipPath>
<g clip-path="url(#cs4)">
<rect x="435.0" y="367.4" width="111.9" height="94.9" fill="#4a4a4a"/>
<g filter="url(#b1)">
<path d="M428,360 L476,360 L474,392 L428,394 Z" fill="#7e7e7e"/>
<path d="M428,429 L455,429 L455,468 L428,468 Z" fill="#404040"/>
<rect x="479.6" y="360" width="16.6" height="108" fill="#6a6a6a"/>
</g>
<rect x="435.0" y="367.4" width="111.9" height="94.9" filter="url(#semtex4)" opacity="0.12"/>
<rect x="435.0" y="367.4" width="111.9" height="94.9" filter="url(#pits4)" opacity="0.5"/>
<rect x="435.0" y="367.4" width="111.9" height="94.9" filter="url(#veins4)" opacity="0.45"/>
<g filter="url(#org2)">
<line x1="482.0" y1="367" x2="482.0" y2="462" stroke="#505050" stroke-width="0.8"/>
<line x1="485.0" y1="367" x2="485.0" y2="462" stroke="#888888" stroke-width="0.8"/>
<line x1="488.0" y1="367" x2="488.0" y2="462" stroke="#545454" stroke-width="0.8"/>
<line x1="491.0" y1="367" x2="491.0" y2="462" stroke="#8a8a8a" stroke-width="0.8"/>
<line x1="494.0" y1="367" x2="494.0" y2="462" stroke="#555555" stroke-width="0.8"/>
<line x1="462.8" y1="413.7" x2="466.1" y2="416.5" stroke="#666666" stroke-width="0.7" stroke-linecap="round"/>
<line x1="531.4" y1="417.8" x2="531.4" y2="423.9" stroke="#3a3a3a" stroke-width="1.0" stroke-linecap="round"/>
<line x1="475.6" y1="457.7" x2="475.7" y2="465.8" stroke="#7a7a7a" stroke-width="0.9" stroke-linecap="round"/>
<line x1="439.6" y1="429.2" x2="435.0" y2="430.4" stroke="#a8a8a8" stroke-width="1.1" stroke-linecap="round"/>
<line x1="537.9" y1="436.8" x2="542.0" y2="440.7" stroke="#9a9a9a" stroke-width="0.9" stroke-linecap="round"/>
<line x1="535.7" y1="456.8" x2="528.3" y2="459.5" stroke="#666666" stroke-width="0.6" stroke-linecap="round"/>
<line x1="496.4" y1="453.2" x2="487.9" y2="454.1" stroke="#9a9a9a" stroke-width="1.3" stroke-linecap="round"/>
<line x1="476.7" y1="412.1" x2="470.2" y2="411.7" stroke="#a8a8a8" stroke-width="0.9" stroke-linecap="round"/>
<line x1="493.1" y1="408.2" x2="499.3" y2="408.1" stroke="#7a7a7a" stroke-width="1.3" stroke-linecap="round"/>
<line x1="538.5" y1="426.3" x2="537.4" y2="434.1" stroke="#666666" stroke-width="1.2" stroke-linecap="round"/>
<line x1="528.3" y1="371.4" x2="531.4" y2="377.2" stroke="#666666" stroke-width="0.8" stroke-linecap="round"/>
<line x1="534.4" y1="393.8" x2="528.8" y2="395.6" stroke="#666666" stroke-width="0.5" stroke-linecap="round"/>
<line x1="487.1" y1="416.7" x2="483.6" y2="421.9" stroke="#3a3a3a" stroke-width="0.7" stroke-linecap="round"/>
<line x1="521.7" y1="417.9" x2="517.7" y2="418.5" stroke="#3a3a3a" stroke-width="0.9" stroke-linecap="round"/>
<line x1="541.5" y1="370.0" x2="537.2" y2="376.0" stroke="#666666" stroke-width="0.9" stroke-linecap="round"/>
<line x1="518.9" y1="453.4" x2="517.2" y2="458.7" stroke="#a8a8a8" stroke-width="0.9" stroke-linecap="round"/>
<line x1="437.8" y1="438.0" x2="442.3" y2="445.7" stroke="#a8a8a8" stroke-width="0.8" stroke-linecap="round"/>
<line x1="530.3" y1="403.3" x2="533.7" y2="409.3" stroke="#3a3a3a" stroke-width="0.9" stroke-linecap="round"/>
<line x1="481.0" y1="435.1" x2="482.4" y2="437.8" stroke="#9a9a9a" stroke-width="0.8" stroke-linecap="round"/>
<line x1="540.2" y1="440.9" x2="544.9" y2="445.3" stroke="#7a7a7a" stroke-width="0.9" stroke-linecap="round"/>
<line x1="439.6" y1="397.9" x2="434.3" y2="399.8" stroke="#666666" stroke-width="0.9" stroke-linecap="round"/>
<line x1="494.8" y1="438.7" x2="498.5" y2="441.5" stroke="#a8a8a8" stroke-width="1.2" stroke-linecap="round"/>
<line x1="500.9" y1="369.2" x2="497.5" y2="375.7" stroke="#7a7a7a" stroke-width="1.2" stroke-linecap="round"/>
<line x1="539.2" y1="433.5" x2="546.6" y2="433.9" stroke="#9a9a9a" stroke-width="1.3" stroke-linecap="round"/>
<line x1="520.7" y1="411.5" x2="525.7" y2="415.1" stroke="#a8a8a8" stroke-width="0.7" stroke-linecap="round"/>
<line x1="539.5" y1="444.3" x2="542.9" y2="452.6" stroke="#7a7a7a" stroke-width="0.7" stroke-linecap="round"/>
<line x1="444.5" y1="386.3" x2="452.4" y2="387.9" stroke="#9a9a9a" stroke-width="1.3" stroke-linecap="round"/>
<line x1="526.2" y1="400.7" x2="520.7" y2="402.9" stroke="#7a7a7a" stroke-width="1.0" stroke-linecap="round"/>
<line x1="489.0" y1="417.5" x2="494.7" y2="420.3" stroke="#7a7a7a" stroke-width="0.6" stroke-linecap="round"/>
<line x1="525.7" y1="377.2" x2="525.1" y2="383.3" stroke="#7a7a7a" stroke-width="0.7" stroke-linecap="round"/>
<line x1="472.4" y1="451.8" x2="478.5" y2="457.3" stroke="#3a3a3a" stroke-width="0.6" stroke-linecap="round"/>
<line x1="437.0" y1="374.2" x2="434.9" y2="377.2" stroke="#666666" stroke-width="1.1" stroke-linecap="round"/>
<line x1="467.7" y1="425.5" x2="462.5" y2="429.4" stroke="#a8a8a8" stroke-width="0.6" stroke-linecap="round"/>
<line x1="438.1" y1="412.3" x2="443.6" y2="413.5" stroke="#3a3a3a" stroke-width="1.2" stroke-linecap="round"/>
<line x1="506.3" y1="397.8" x2="498.7" y2="401.9" stroke="#a8a8a8" stroke-width="0.9" stroke-linecap="round"/>
<line x1="534.0" y1="443.6" x2="532.5" y2="448.8" stroke="#666666" stroke-width="1.3" stroke-linecap="round"/>
<line x1="455.4" y1="412.0" x2="450.9" y2="417.1" stroke="#a8a8a8" stroke-width="0.7" stroke-linecap="round"/>
<line x1="503.3" y1="413.6" x2="501.1" y2="417.0" stroke="#3a3a3a" stroke-width="1.1" stroke-linecap="round"/>
<line x1="461.2" y1="437.4" x2="456.5" y2="440.7" stroke="#7a7a7a" stroke-width="0.5" stroke-linecap="round"/>
<line x1="447.0" y1="455.2" x2="447.2" y2="463.1" stroke="#9a9a9a" stroke-width="0.6" stroke-linecap="round"/>
<line x1="512.3" y1="396.0" x2="514.7" y2="404.7" stroke="#9a9a9a" stroke-width="0.8" stroke-linecap="round"/>
<line x1="479.7" y1="428.2" x2="480.7" y2="431.2" stroke="#9a9a9a" stroke-width="0.5" stroke-linecap="round"/>
<line x1="465.3" y1="398.1" x2="471.6" y2="400.4" stroke="#3a3a3a" stroke-width="0.5" stroke-linecap="round"/>
<line x1="463.2" y1="381.9" x2="457.4" y2="387.4" stroke="#3a3a3a" stroke-width="0.8" stroke-linecap="round"/>
<line x1="530.1" y1="432.4" x2="535.6" y2="437.2" stroke="#666666" stroke-width="1.2" stroke-linecap="round"/>
<line x1="440.6" y1="373.4" x2="443.7" y2="377.0" stroke="#666666" stroke-width="1.2" stroke-linecap="round"/>
<line x1="457.0" y1="394.0" x2="452.8" y2="397.4" stroke="#a8a8a8" stroke-width="1.0" stroke-linecap="round"/>
<line x1="472.9" y1="411.2" x2="469.6" y2="413.0" stroke="#3a3a3a" stroke-width="0.7" stroke-linecap="round"/>
<line x1="460.1" y1="419.8" x2="464.5" y2="425.3" stroke="#3a3a3a" stroke-width="1.2" stroke-linecap="round"/>
<line x1="512.6" y1="409.9" x2="519.0" y2="411.7" stroke="#3a3a3a" stroke-width="1.0" stroke-linecap="round"/>
<path d="M454.7,408.5 Q490.0,398.0 505.0,395.0 Q520.0,392.0 534.0,390.9 L548.0,389.8" fill="none" stroke="#bcbcbc" stroke-width="1.3" stroke-linecap="round"/>
<path d="M475.5,398.0 Q486.0,388.0 491.1,382.7 L496.2,377.4" fill="none" stroke="#b4b4b4" stroke-width="1.3" stroke-linecap="round"/>
<path d="M440.0,396.0 Q458.0,390.0 467.0,381.0 L476.0,372.0" fill="none" stroke="#a8a8a8" stroke-width="1.2" stroke-linecap="round"/>
<path d="M490.0,452.0 Q500.0,430.0 506.4,418.2 L512.8,406.4" fill="none" stroke="#707070" stroke-width="5.5" stroke-linecap="round"/><path d="M490.0,452.0 Q500.0,430.0 506.4,418.2 L512.8,406.4" fill="none" stroke="#c4c4c4" stroke-width="4.5" stroke-linecap="round"/><path d="M490.0,452.0 Q500.0,430.0 506.4,418.2 L512.8,406.4" fill="none" stroke="#e6e6e6" stroke-width="1.3" stroke-linecap="round" opacity="0.55" transform="translate(-0.5,-0.5)"/>
<path d="M508.6,398.0 Q518.0,410.0 522.6,415.5 L527.3,421.0" fill="none" stroke="#808080" stroke-width="8.0" stroke-linecap="round"/><path d="M508.6,398.0 Q518.0,410.0 522.6,415.5 L527.3,421.0" fill="none" stroke="#d0d0d0" stroke-width="7" stroke-linecap="round"/><path d="M508.6,398.0 Q518.0,410.0 522.6,415.5 L527.3,421.0" fill="none" stroke="#e6e6e6" stroke-width="2.1" stroke-linecap="round" opacity="0.55" transform="translate(-0.5,-0.5)"/>
<path d="M525.0,423.0 Q536.0,415.0 541.0,411.8 L546.0,408.5" fill="none" stroke="#bcbcbc" stroke-width="3.5" stroke-linecap="round"/><path d="M525.0,423.0 Q536.0,415.0 541.0,411.8 L546.0,408.5" fill="none" stroke="#e6e6e6" stroke-width="1.1" stroke-linecap="round" opacity="0.55" transform="translate(-0.5,-0.5)"/>
<path d="M455.0,370.0 Q462.0,384.0 467.0,390.0 L472.0,396.0" fill="none" stroke="#9a9a9a" stroke-width="2.6" stroke-linecap="round"/><path d="M455.0,370.0 Q462.0,384.0 467.0,390.0 L472.0,396.0" fill="none" stroke="#e6e6e6" stroke-width="0.8" stroke-linecap="round" opacity="0.55" transform="translate(-0.5,-0.5)"/>
<path d="M444.0,432.0 Q452.0,442.0 459.0,447.0 L466.0,452.0" fill="none" stroke="#a8a8a8" stroke-width="2.2" stroke-linecap="round"/>
</g>
<rect x="435.0" y="367.4" width="111.9" height="94.9" fill="#808080" filter="url(#grain)" opacity="0.4"/>
<g fill="#f2f2f2" font-family="Liberation Sans, sans-serif" font-size="4.2" font-weight="bold">
<text x="446" y="459.1">20kV</text>
<text x="475" y="459.1">X500</text>
<text x="496" y="459.1">100μm</text>
</g>
</g>
<text x="88.20" y="473.20" font-size="7.7" text-anchor="middle" font-weight="bold" fill="#222" >JWPP 5wt.% (1:1)</text>
<text x="228.40" y="476.00" font-size="7.7" text-anchor="middle" font-weight="bold" fill="#222" >JWPP 15wt.% (1:1),</text>
<text x="360.10" y="473.30" font-size="7.7" text-anchor="middle" font-weight="bold" fill="#222" >JWPP 15wt.% (3:1)</text>
<text x="485.40" y="473.00" font-size="7.8" text-anchor="middle" font-weight="bold" fill="#222" >JWPP 20wt.%</text>
</svg>
</body></html>
